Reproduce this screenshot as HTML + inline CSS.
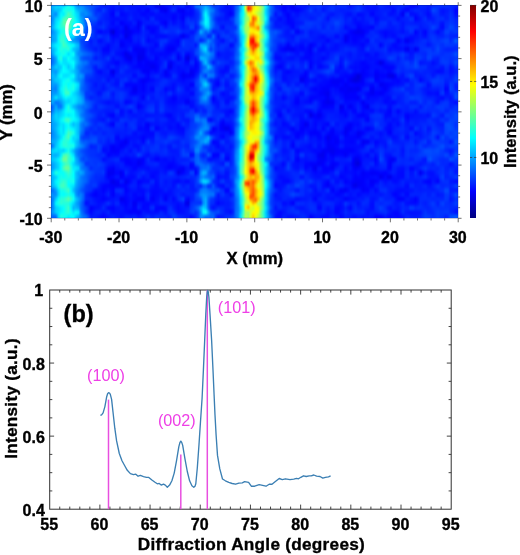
<!DOCTYPE html>
<html lang="en"><head><meta charset="utf-8"><title>Figure: XRD intensity map and diffraction pattern</title>
<style>
html,body{margin:0;padding:0;background:#fff;}
body{width:520px;height:555px;position:relative;overflow:hidden;font-family:"Liberation Sans",Arial,Helvetica,sans-serif;}
#heat{position:absolute;left:51.2px;top:5.4px;width:407.0px;height:212.9px;overflow:hidden;background:#0030ff;}
#heat .in{position:absolute;left:-4px;top:-4px;right:-4px;bottom:-4px;padding:4px;filter:url(#vb);}
#heat i{display:block;height:2.0px;width:100%;}
#cbar{position:absolute;left:470.0px;top:5.4px;width:6.3px;height:212.9px;background:linear-gradient(180deg,#800000,#8f0000,#9f0000,#af0000,#bf0000,#cf0000,#df0000,#ef0000,#ff0000,#ff1000,#ff2000,#ff3000,#ff4000,#ff5000,#ff6000,#ff7000,#ff8000,#ff8f00,#ff9f00,#ffaf00,#ffbf00,#ffcf00,#ffdf00,#ffef00,#ffff00,#efff10,#dfff20,#cfff30,#bfff40,#afff50,#9fff60,#8fff70,#80ff80,#70ff8f,#60ff9f,#50ffaf,#40ffbf,#30ffcf,#20ffdf,#10ffef,#00ffff,#00efff,#00dfff,#00cfff,#00bfff,#00afff,#009fff,#008fff,#0080ff,#0070ff,#0060ff,#0050ff,#0040ff,#0030ff,#0020ff,#0010ff,#0000ff,#0000ef,#0000df,#0000cf,#0000bf,#0000af,#00009f,#00008f,#000080);}
svg{position:absolute;left:0;top:0;}
svg text{font-family:"Liberation Sans",Arial,Helvetica,sans-serif;}
svg text.b{stroke:#000;stroke-width:0.35px;}
</style></head>
<body>
<div id="heat"><div class="in">
<i style="background:linear-gradient(90deg,#00adff,#00c2ff,#00d9ff,#00dbff,#00e4ff,#00d8ff,#00fcff,#25ffdb,#08fff7,#00e7ff,#00a6ff,#008cff,#0091ff,#0085ff,#0068ff,#005bff,#0052ff,#004cff,#003eff,#0035ff,#0022ff,#0014ff,#0016ff,#0019ff,#0014ff,#0011ff,#001cff,#001cff,#0014ff,#0016ff,#0018ff,#0014ff,#000eff,#0010ff,#0010ff,#0011ff,#000eff,#000cff,#0019ff,#001fff,#001aff,#0014ff,#0000e6,#0000e7,#0000f1,#0000fc,#000cff,#000cff,#000fff,#0016ff,#0018ff,#0017ff,#0025ff,#0030ff,#0009ff,#0000fd,#0014ff,#002aff,#0070ff,#007bff,#0080ff,#0093ff,#00aaff,#008eff,#0065ff,#0038ff,#0034ff,#003bff,#002bff,#0023ff,#0008ff,#0005ff,#0011ff,#0020ff,#004eff,#0072ff,#00c2ff,#19ffe6,#cdff32,#ff7800,#ff8800,#ffda00,#f8ff07,#d9ff26,#b5ff4a,#72ff8d,#02fffd,#00bfff,#0070ff,#0048ff,#0019ff,#0016ff,#0011ff,#0002ff,#0000fd,#0008ff,#0000f8,#0000ef,#000eff,#0017ff,#0013ff,#0016ff,#000eff,#0017ff,#0027ff,#002cff,#0030ff,#0034ff,#0030ff,#0023ff,#001fff,#001dff,#0029ff,#002eff,#0024ff,#0024ff,#002bff,#002aff,#002aff,#0016ff,#0007ff,#0019ff,#0027ff,#0031ff,#0028ff,#001aff,#0013ff,#000cff,#0016ff,#0014ff,#000fff,#0017ff,#0027ff,#0021ff,#0017ff,#000eff,#000cff,#0018ff,#001bff,#0019ff,#0022ff,#0027ff,#001bff,#0016ff,#0001fe,#0000fc,#0002fe,#000cff,#0023ff,#0023ff,#0021ff,#0016ff,#0019ff,#0023ff,#0028ff,#002dff,#002fff,#002fff,#0031ff,#002eff,#0026ff,#0024ff,#001dff,#001cff)"></i>
<i style="background:linear-gradient(90deg,#00a4ff,#00b8ff,#00ceff,#00c9ff,#00d6ff,#00f0ff,#0bfff4,#13ffed,#09fff7,#00f6ff,#00b4ff,#009aff,#0098ff,#008cff,#0073ff,#0063ff,#0053ff,#0047ff,#0034ff,#0027ff,#001fff,#002aff,#0022ff,#0019ff,#0011ff,#000eff,#0018ff,#0018ff,#0012ff,#0016ff,#001fff,#001aff,#0013ff,#0013ff,#0011ff,#000dff,#000eff,#0011ff,#000eff,#000bff,#0016ff,#0017ff,#000bff,#0008fd,#0000f5,#0000f6,#0000f8,#000aff,#0018ff,#0027ff,#001fff,#000bff,#000eff,#0010ff,#000cff,#000cff,#000fff,#001eff,#004bff,#005bff,#0071ff,#0093ff,#00b5ff,#0099ff,#0077ff,#005bff,#0040ff,#0036ff,#0021ff,#0018ff,#000eff,#000bff,#000dff,#001dff,#004eff,#0070ff,#00bdff,#0cfff4,#dfff20,#ff1200,#ff4900,#ffd800,#f9ff07,#e0ff20,#b3ff4c,#6eff92,#00eeff,#00afff,#006aff,#0049ff,#0024ff,#0019ff,#0010ff,#0000ff,#0000fe,#000cff,#0001fe,#0000f7,#0004ff,#0008ff,#000cff,#0012ff,#0016ff,#0022ff,#0036ff,#002bff,#0025ff,#002fff,#002bff,#0018ff,#001eff,#0025ff,#002eff,#0032ff,#0025ff,#0023ff,#0022ff,#0023ff,#0025ff,#001cff,#0019ff,#0022ff,#002bff,#0037ff,#002dff,#001eff,#0015ff,#000eff,#0011ff,#0010ff,#000eff,#0014ff,#0020ff,#001eff,#0019ff,#0017ff,#0014ff,#000fff,#0016ff,#0023ff,#0020ff,#001aff,#000dff,#000aff,#000fff,#0010ff,#0017ff,#001aff,#0020ff,#001fff,#001dff,#0013ff,#001fff,#0039ff,#0036ff,#002fff,#0023ff,#001eff,#0022ff,#0022ff,#0025ff,#001fff,#000fff,#0010ff)"></i>
<i style="background:linear-gradient(90deg,#009cff,#00aeff,#00c6ff,#00c0ff,#00d2ff,#07fff8,#1dffe3,#0dfff2,#10ffef,#0afff6,#00c8ff,#00abff,#00a1ff,#0093ff,#007fff,#006bff,#0055ff,#0043ff,#002eff,#001eff,#0020ff,#003dff,#002cff,#0019ff,#000eff,#000aff,#0016ff,#0016ff,#0010ff,#0015ff,#0022ff,#001cff,#0016ff,#0015ff,#0013ff,#000aff,#000cff,#0013ff,#0005ff,#0000fd,#0015ff,#001cff,#0027ff,#001dff,#0000f8,#0000f2,#0000eb,#0007ff,#001dff,#0030ff,#0021ff,#0001ff,#0000f9,#0000f6,#000eff,#0015ff,#0009ff,#0013ff,#002cff,#003fff,#0069ff,#009eff,#00ccff,#00acff,#0088ff,#0076ff,#0049ff,#0032ff,#001aff,#0011ff,#0011ff,#000eff,#0009ff,#001bff,#004eff,#0070ff,#00bbff,#01ffff,#c1ff3f,#ff4300,#ff6a00,#ffea00,#f3ff0d,#deff21,#afff51,#68ff97,#00deff,#00a3ff,#0063ff,#0048ff,#002cff,#001eff,#0012ff,#0002ff,#0003ff,#0013ff,#0009ff,#0002ff,#0000fe,#0000fe,#0008ff,#0010ff,#001cff,#0029ff,#003fff,#002aff,#001cff,#002aff,#0026ff,#0011ff,#001bff,#0028ff,#002eff,#0031ff,#0023ff,#0021ff,#001bff,#001bff,#001fff,#0020ff,#0025ff,#0027ff,#002eff,#003aff,#0030ff,#0021ff,#0018ff,#0011ff,#000fff,#000dff,#000fff,#0014ff,#001cff,#001cff,#001bff,#001dff,#0018ff,#0007ff,#0011ff,#0028ff,#001cff,#000fff,#0003ff,#0002ff,#0019ff,#001eff,#0028ff,#0025ff,#001fff,#001cff,#0019ff,#0011ff,#0023ff,#004aff,#0040ff,#0030ff,#0018ff,#0010ff,#0016ff,#0019ff,#0025ff,#001bff,#0003ff,#0006ff)"></i>
<i style="background:linear-gradient(90deg,#00a5ff,#00a5ff,#00a9ff,#00c6ff,#00e7ff,#02fcfe,#1fffe1,#2fffd0,#22ffde,#0efff1,#00dbff,#00beff,#0099ff,#008dff,#0089ff,#0076ff,#0062ff,#0048ff,#0030ff,#002cff,#002aff,#0033ff,#0025ff,#0018ff,#0009ff,#0004ff,#001fff,#0020ff,#000aff,#000dff,#0016ff,#0015ff,#0016ff,#0013ff,#0011ff,#000dff,#000aff,#000aff,#0005ff,#0004ff,#000fff,#0013ff,#001eff,#0018ff,#0004ff,#0002fd,#0000f8,#0008ff,#0014ff,#001cff,#0014ff,#0006ff,#0001fd,#0000f9,#0009ff,#000eff,#0007ff,#000fff,#0025ff,#0035ff,#0062ff,#00acff,#00e8ff,#00b5ff,#0080ff,#006bff,#0047ff,#0037ff,#0022ff,#001aff,#0010ff,#000bff,#0002fd,#0014ff,#0052ff,#0078ff,#00c9ff,#02fffe,#8fff70,#ffc500,#ffc100,#faff06,#deff22,#c3ff3d,#a1ff5e,#60ffa0,#00deff,#00a3ff,#0064ff,#0041ff,#001fff,#0023ff,#0021ff,#000bff,#0006ff,#000bff,#000eff,#0010ff,#0008ff,#0007ff,#0013ff,#0018ff,#001dff,#0026ff,#0033ff,#0028ff,#0021ff,#0025ff,#0025ff,#0020ff,#0021ff,#0022ff,#0021ff,#0021ff,#0020ff,#0020ff,#001fff,#001cff,#001aff,#0017ff,#0019ff,#0022ff,#0027ff,#0023ff,#001eff,#0019ff,#0018ff,#0016ff,#000bff,#0008ff,#0012ff,#0016ff,#001bff,#001eff,#0020ff,#0019ff,#0011ff,#0009ff,#0012ff,#0024ff,#0012ff,#0003fc,#0014ff,#001bff,#0012ff,#0015ff,#001cff,#001fff,#0022ff,#001dff,#0017ff,#000cff,#001bff,#003dff,#0038ff,#002eff,#0017ff,#0010ff,#0017ff,#001cff,#0029ff,#001fff,#0004ff,#0006ff)"></i>
<i style="background:linear-gradient(90deg,#00b1ff,#009dff,#0087ff,#00c8ff,#00f8ff,#00edff,#1affe5,#4effb2,#2dffd2,#0afff6,#00e6ff,#00caff,#008cff,#0081ff,#0091ff,#0081ff,#0071ff,#004dff,#0031ff,#0039ff,#0032ff,#0025ff,#001cff,#0018ff,#0004ff,#0000fe,#002aff,#002bff,#0005ff,#0006ff,#000bff,#0011ff,#0018ff,#0011ff,#000fff,#0011ff,#0008ff,#0003ff,#0006ff,#000cff,#0006ff,#0007ff,#0010ff,#000fff,#000fff,#000dff,#0009ff,#000bff,#000cff,#0008ff,#0009ff,#0010ff,#0007ff,#0001ff,#0006ff,#0008ff,#0007ff,#000fff,#0021ff,#002eff,#0058ff,#00b5ff,#03fdfc,#00bbff,#0075ff,#005cff,#0044ff,#003dff,#002cff,#0025ff,#0011ff,#0009ff,#0000f6,#000fff,#0055ff,#0081ff,#00d9ff,#03fffc,#72ff8d,#f1ff0e,#ffeb00,#fbf804,#e2ff1d,#b1ff4f,#96ff6a,#5affa6,#00e1ff,#00a7ff,#0068ff,#003bff,#0011ff,#0026ff,#002dff,#0014ff,#0006ff,#0000fc,#000eff,#001bff,#0010ff,#000eff,#001cff,#0021ff,#001eff,#0021ff,#0025ff,#0027ff,#0028ff,#0021ff,#0026ff,#0033ff,#0029ff,#001dff,#0013ff,#0012ff,#001eff,#0022ff,#0025ff,#0020ff,#0015ff,#000eff,#000dff,#001eff,#001fff,#0009ff,#0009ff,#000eff,#0018ff,#001cff,#0006ff,#0001ff,#0013ff,#0016ff,#0019ff,#0020ff,#0026ff,#0015ff,#000bff,#000eff,#0016ff,#0020ff,#0008ff,#0000ef,#0029ff,#0039ff,#000bff,#000aff,#000eff,#0017ff,#0026ff,#001eff,#0015ff,#0007ff,#0012ff,#002dff,#0030ff,#002dff,#0019ff,#0014ff,#001bff,#0020ff,#002dff,#0023ff,#0009ff,#000aff)"></i>
<i style="background:linear-gradient(90deg,#009fff,#009bff,#009dff,#00cfff,#00faff,#09fcf6,#2cffd3,#4cffb4,#31ffcf,#14ffeb,#00e9ff,#00ccff,#0094ff,#0084ff,#007eff,#0072ff,#0069ff,#0052ff,#003eff,#003aff,#002eff,#0023ff,#001bff,#0018ff,#0007ff,#0003ff,#001fff,#0020ff,#000aff,#0009ff,#000bff,#0014ff,#001dff,#0013ff,#0010ff,#0013ff,#000eff,#000aff,#0009ff,#000cff,#0011ff,#0012ff,#000eff,#000dff,#000dff,#000eff,#000bff,#000cff,#000bff,#0003ff,#0006ff,#0011ff,#0006ff,#0000fc,#000eff,#0013ff,#000dff,#0014ff,#0022ff,#002fff,#005cff,#00b5ff,#06fff9,#00cdff,#007bff,#0057ff,#003bff,#0032ff,#0026ff,#0021ff,#0011ff,#000cff,#0009ff,#001dff,#005bff,#0084ff,#00d9ff,#0ffff0,#76ff8a,#caff36,#ffe900,#ffaa00,#ffd200,#d1ff2f,#9bff65,#5dffa3,#00f1ff,#00acff,#0056ff,#0035ff,#0017ff,#001fff,#0021ff,#0016ff,#000aff,#0000fc,#000cff,#0017ff,#0013ff,#0012ff,#0020ff,#0023ff,#0020ff,#0020ff,#0020ff,#0022ff,#0025ff,#0026ff,#002aff,#0031ff,#0024ff,#0016ff,#0018ff,#001aff,#0022ff,#0025ff,#0029ff,#0023ff,#0015ff,#0013ff,#0014ff,#0019ff,#0019ff,#000eff,#000eff,#000fff,#001aff,#001eff,#000fff,#000aff,#000fff,#0013ff,#0019ff,#001eff,#0022ff,#001aff,#0014ff,#0015ff,#0017ff,#0018ff,#000cff,#0004fb,#0027ff,#0032ff,#0019ff,#0015ff,#0008ff,#0011ff,#001fff,#0020ff,#001dff,#000bff,#0011ff,#0024ff,#002aff,#002cff,#0020ff,#001dff,#001bff,#0020ff,#002fff,#0026ff,#0011ff,#0012ff)"></i>
<i style="background:linear-gradient(90deg,#007fff,#009bff,#00c9ff,#00dcff,#00fdff,#33ffcc,#4effb2,#45ffba,#3affc6,#29ffd7,#00f1ff,#00cfff,#00a5ff,#0089ff,#005eff,#0058ff,#0059ff,#005aff,#0052ff,#0039ff,#0028ff,#0021ff,#001aff,#0016ff,#000cff,#0009ff,#000aff,#000bff,#0011ff,#0010ff,#000dff,#0019ff,#0024ff,#0016ff,#0010ff,#0013ff,#0015ff,#0019ff,#000eff,#000bff,#0023ff,#0026ff,#000dff,#000bff,#0009ff,#000bff,#000dff,#000eff,#000bff,#0000fe,#0005ff,#0011ff,#0004ff,#0000f7,#001dff,#0029ff,#001aff,#001dff,#0023ff,#0031ff,#005eff,#00aaff,#00faff,#00e0ff,#0085ff,#004fff,#002bff,#001eff,#001aff,#001aff,#0010ff,#0012ff,#0028ff,#0037ff,#0065ff,#0088ff,#00d8ff,#23ffdc,#84ff7c,#9dff63,#ffec00,#ff5c00,#ff8b00,#f8ff07,#a0ff5f,#5fffa0,#08fff8,#00b1ff,#0034ff,#002aff,#0024ff,#0012ff,#000cff,#0018ff,#0011ff,#0000ff,#0008ff,#000fff,#0017ff,#001bff,#0025ff,#0027ff,#0024ff,#0020ff,#0019ff,#001bff,#0021ff,#002fff,#0032ff,#002bff,#001cff,#000cff,#0022ff,#002cff,#002aff,#002aff,#0030ff,#0028ff,#0017ff,#001eff,#0023ff,#0013ff,#000fff,#001cff,#0019ff,#0011ff,#001dff,#0022ff,#0020ff,#001cff,#0009ff,#000cff,#0018ff,#001aff,#001bff,#0021ff,#0024ff,#0021ff,#0018ff,#000aff,#0014ff,#001aff,#0020ff,#0023ff,#0031ff,#002bff,#0001ff,#0008ff,#0015ff,#0024ff,#002aff,#0014ff,#0012ff,#0018ff,#0024ff,#002cff,#002cff,#002dff,#001dff,#001eff,#0031ff,#002bff,#001eff,#0020ff)"></i>
<i style="background:linear-gradient(90deg,#0080ff,#00a0ff,#00d6ff,#00e8ff,#0bfff5,#44ffbc,#5effa2,#4fffb0,#3effc1,#2bffd5,#00fcff,#00daff,#00abff,#008aff,#0058ff,#0051ff,#004fff,#0052ff,#004cff,#0030ff,#0022ff,#0021ff,#001bff,#0017ff,#000dff,#0009ff,#000aff,#000aff,#000dff,#000dff,#000dff,#0018ff,#001fff,#0016ff,#000eff,#0009ff,#0011ff,#001aff,#0013ff,#000fff,#0023ff,#0025ff,#0013ff,#000fff,#0008ff,#0009ff,#0009ff,#0010ff,#0011ff,#0004ff,#000aff,#0018ff,#000bff,#0001fd,#0024ff,#0031ff,#0024ff,#0025ff,#0025ff,#0036ff,#0069ff,#00acff,#00fdff,#00e4ff,#0086ff,#0051ff,#002bff,#001bff,#001aff,#001aff,#0015ff,#0018ff,#002cff,#003aff,#0067ff,#0089ff,#00d4ff,#22ffdd,#83ff7c,#a0ff60,#ffe600,#ff6500,#ff9b00,#f1ff0f,#a4ff5c,#61ff9f,#02fafe,#00a9ff,#0034ff,#0027ff,#001fff,#0010ff,#000bff,#0017ff,#0011ff,#0001ff,#0006ff,#000cff,#0018ff,#001cff,#0023ff,#0026ff,#0029ff,#0026ff,#0020ff,#0021ff,#0025ff,#0030ff,#0031ff,#0028ff,#001dff,#0012ff,#0028ff,#0032ff,#0032ff,#0033ff,#0033ff,#002bff,#001bff,#0021ff,#0024ff,#0012ff,#000bff,#0017ff,#0015ff,#0010ff,#001aff,#001eff,#0023ff,#0021ff,#0009ff,#000dff,#001cff,#001eff,#001eff,#0021ff,#0022ff,#0023ff,#001cff,#000dff,#0016ff,#001cff,#001fff,#0022ff,#0031ff,#002bff,#0005ff,#000bff,#0016ff,#0024ff,#002cff,#001bff,#0019ff,#001aff,#0025ff,#002dff,#002aff,#002aff,#0021ff,#0023ff,#0032ff,#002fff,#0024ff,#0025ff)"></i>
<i style="background:linear-gradient(90deg,#0089ff,#00a7ff,#00dbff,#00f5ff,#1cffe3,#4fffb1,#68ff97,#5effa2,#37ffc9,#15ffeb,#03fffc,#00e8ff,#00b4ff,#0090ff,#005eff,#0050ff,#0043ff,#0040ff,#0036ff,#001fff,#0019ff,#0025ff,#0020ff,#001bff,#000bff,#0006ff,#0015ff,#0013ff,#0000fc,#0002ff,#000bff,#000eff,#000fff,#001cff,#0015ff,#0000f8,#0004ff,#0017ff,#001aff,#001cff,#001cff,#001dff,#0023ff,#001dff,#0008ff,#0001ff,#0000f8,#0011ff,#001bff,#000aff,#000fff,#001aff,#0011ff,#0009ff,#0027ff,#0033ff,#0031ff,#0031ff,#0026ff,#0042ff,#008fff,#00c4ff,#08fff7,#00e7ff,#008dff,#0063ff,#0037ff,#0023ff,#0021ff,#0023ff,#001fff,#0020ff,#0021ff,#0032ff,#0067ff,#0084ff,#00caff,#1affe6,#86ff79,#c8ff37,#ffba00,#ff7700,#ffcd00,#d6ff2a,#b7ff48,#73ff8d,#00e2ff,#009eff,#004aff,#002dff,#0015ff,#0016ff,#0016ff,#0015ff,#000eff,#0003ff,#0004ff,#0007ff,#0013ff,#0017ff,#0018ff,#001eff,#0032ff,#0033ff,#0034ff,#0031ff,#002fff,#002fff,#002bff,#0023ff,#0023ff,#0023ff,#002fff,#0034ff,#0042ff,#0042ff,#0035ff,#002dff,#001dff,#0020ff,#001fff,#0013ff,#000aff,#000aff,#000dff,#0011ff,#0016ff,#0018ff,#0027ff,#0027ff,#0010ff,#0015ff,#0029ff,#002cff,#002cff,#001fff,#001aff,#0027ff,#0027ff,#001eff,#0019ff,#0014ff,#001cff,#001fff,#0020ff,#001eff,#0014ff,#0016ff,#001aff,#0020ff,#0026ff,#0027ff,#0028ff,#0020ff,#0026ff,#002aff,#001aff,#0015ff,#0027ff,#002cff,#0034ff,#0031ff,#0027ff,#0026ff)"></i>
<i style="background:linear-gradient(90deg,#008fff,#00acff,#00deff,#00faff,#22ffde,#4cffb4,#66ff99,#63ff9c,#33ffcc,#0bfff5,#02fffd,#00e9ff,#00b5ff,#0092ff,#0060ff,#004fff,#003eff,#0038ff,#002eff,#001cff,#001aff,#0029ff,#0022ff,#001cff,#000bff,#0006ff,#0016ff,#0014ff,#0000fc,#0001fe,#0006ff,#000aff,#000bff,#001cff,#0016ff,#0000f5,#0003ff,#0019ff,#001aff,#001bff,#0018ff,#0019ff,#0023ff,#001eff,#000cff,#0003ff,#0000f7,#0013ff,#001eff,#000fff,#0013ff,#001cff,#0013ff,#000bff,#0025ff,#0030ff,#0037ff,#0036ff,#0024ff,#0041ff,#0091ff,#00c3ff,#04fefb,#00e4ff,#008fff,#0068ff,#003cff,#0029ff,#0022ff,#0022ff,#0023ff,#0024ff,#0020ff,#002fff,#005fff,#0081ff,#00cdff,#1effe2,#8dff73,#d9ff26,#ff8c00,#ff7700,#ffe300,#ddff22,#b9ff47,#6eff92,#00d6ff,#0097ff,#0050ff,#002fff,#0014ff,#0018ff,#001aff,#0016ff,#0010ff,#0006ff,#0004ff,#0005ff,#0012ff,#0016ff,#0019ff,#001fff,#0034ff,#0037ff,#0039ff,#0034ff,#0031ff,#002eff,#002aff,#0020ff,#0024ff,#0029ff,#002fff,#0032ff,#0043ff,#0044ff,#0034ff,#002bff,#001aff,#001cff,#001cff,#0015ff,#000cff,#0005ff,#0009ff,#0010ff,#0014ff,#0014ff,#0023ff,#0024ff,#0014ff,#001aff,#002cff,#002fff,#002fff,#001eff,#0018ff,#0026ff,#0028ff,#0023ff,#001aff,#0012ff,#001dff,#0020ff,#001eff,#001eff,#001bff,#001bff,#001bff,#001fff,#0023ff,#0029ff,#002dff,#0027ff,#0029ff,#002aff,#0014ff,#000dff,#0029ff,#0030ff,#0038ff,#0034ff,#0029ff,#0028ff)"></i>
<i style="background:linear-gradient(90deg,#009bff,#00b8ff,#00e7ff,#07fff9,#29ffd7,#39ffc7,#5affa5,#74ff8c,#39ffc7,#08fff8,#00fdff,#00e4ff,#00b6ff,#0093ff,#005cff,#004aff,#0036ff,#002eff,#0026ff,#0027ff,#0028ff,#0031ff,#0024ff,#0018ff,#000fff,#000cff,#000dff,#000cff,#000eff,#0006ff,#0000f3,#0002ff,#000fff,#0011ff,#000aff,#0000f6,#000bff,#0028ff,#0012ff,#0006ff,#000aff,#000bff,#000eff,#0013ff,#0022ff,#0015ff,#0007ff,#001aff,#0024ff,#001fff,#0021ff,#0022ff,#0016ff,#000cff,#001bff,#0023ff,#003fff,#003cff,#001aff,#002eff,#0066ff,#009fff,#00e8ff,#00e1ff,#0092ff,#0063ff,#0041ff,#0035ff,#0019ff,#0011ff,#0028ff,#002cff,#002aff,#002dff,#003fff,#007aff,#00eaff,#3effc1,#a2ff5d,#c4ff3c,#ff9e00,#ff9800,#ffc900,#ffc700,#9eff62,#36ffca,#00b5ff,#007fff,#0045ff,#002aff,#0018ff,#0016ff,#0017ff,#001dff,#001aff,#0014ff,#000aff,#0003ff,#0018ff,#001fff,#002dff,#0031ff,#0033ff,#0034ff,#0034ff,#002dff,#002aff,#0031ff,#002cff,#001cff,#0025ff,#0030ff,#002bff,#0029ff,#0039ff,#003aff,#002eff,#0023ff,#000eff,#0014ff,#001aff,#001cff,#0014ff,#0002ff,#0005ff,#000bff,#000cff,#000bff,#000aff,#000bff,#001dff,#0021ff,#002bff,#002aff,#0026ff,#001cff,#0017ff,#001aff,#001fff,#0021ff,#0019ff,#0012ff,#0023ff,#002aff,#002aff,#002aff,#0028ff,#0022ff,#0018ff,#001dff,#0021ff,#0024ff,#0030ff,#003dff,#0036ff,#002bff,#0011ff,#0009ff,#0029ff,#0032ff,#0044ff,#003eff,#002fff,#002eff)"></i>
<i style="background:linear-gradient(90deg,#00a0ff,#00bcff,#00e6ff,#05fffa,#24ffdb,#28ffd8,#47ffb9,#6aff96,#2dffd2,#00faff,#00f2ff,#00daff,#00b0ff,#008fff,#0058ff,#0046ff,#0033ff,#0029ff,#0021ff,#0028ff,#002bff,#0032ff,#0022ff,#0014ff,#000bff,#0009ff,#0006ff,#0008ff,#0014ff,#0007ff,#0000e9,#0000fb,#000dff,#000cff,#0006ff,#0000f8,#0010ff,#002fff,#000fff,#0000fc,#0003ff,#0004ff,#0005ff,#000fff,#002cff,#0020ff,#0013ff,#0020ff,#0029ff,#0029ff,#0029ff,#0028ff,#001aff,#000fff,#0019ff,#001eff,#0040ff,#003cff,#0015ff,#0027ff,#0054ff,#0087ff,#00c5ff,#00ccff,#0086ff,#0056ff,#0040ff,#003aff,#0017ff,#000cff,#002aff,#002fff,#002fff,#002cff,#0031ff,#0075ff,#00f3ff,#48ffb8,#a6ff5a,#abff54,#ffdd00,#ffc900,#ffb400,#ff7b00,#aaff55,#25ffdb,#00aeff,#007aff,#0043ff,#002cff,#0020ff,#001bff,#001bff,#0022ff,#001fff,#001aff,#000eff,#0005ff,#0017ff,#001fff,#0033ff,#0036ff,#0031ff,#0031ff,#002fff,#0029ff,#0026ff,#0030ff,#002dff,#001cff,#0026ff,#0032ff,#0029ff,#0025ff,#0034ff,#0034ff,#0029ff,#001eff,#0008ff,#000dff,#0015ff,#001bff,#0014ff,#0000fd,#0001fe,#0008ff,#0008ff,#0007ff,#0002fe,#0003ff,#0022ff,#0025ff,#0029ff,#0026ff,#0020ff,#001aff,#0017ff,#0015ff,#001bff,#0020ff,#0019ff,#0013ff,#0028ff,#002fff,#0032ff,#0030ff,#002cff,#0025ff,#0017ff,#001aff,#001eff,#0021ff,#0031ff,#0045ff,#0039ff,#0028ff,#000fff,#0008ff,#002aff,#0034ff,#0048ff,#0042ff,#0032ff,#0031ff)"></i>
<i style="background:linear-gradient(90deg,#008cff,#00a5ff,#00c9ff,#00eaff,#0ffff1,#1cffe4,#2dffd3,#3bffc4,#0efff2,#00e9ff,#00e6ff,#00d0ff,#0099ff,#007cff,#0050ff,#0047ff,#0041ff,#0030ff,#001eff,#0013ff,#0012ff,#001dff,#0016ff,#0010ff,#0000f2,#0000ea,#0001ff,#0007ff,#000cff,#0003ff,#0000ed,#0000f5,#0002fc,#0005ff,#0006ff,#0001fe,#0011ff,#0028ff,#0015ff,#000cff,#0003ff,#0001ff,#0008ff,#0012ff,#002aff,#002aff,#002bff,#002aff,#0029ff,#0029ff,#002eff,#0036ff,#0027ff,#001cff,#0020ff,#0022ff,#0025ff,#0022ff,#001eff,#003eff,#008cff,#0087ff,#0089ff,#009cff,#0063ff,#0031ff,#002dff,#0033ff,#0025ff,#0020ff,#0024ff,#0027ff,#0031ff,#0034ff,#0046ff,#0079ff,#00dfff,#36ffca,#9dff63,#b8ff48,#fff800,#ffec00,#ffdb00,#ffb900,#abff55,#3affc5,#00d9ff,#009aff,#004fff,#0041ff,#0040ff,#0037ff,#0030ff,#0024ff,#001aff,#0015ff,#001aff,#001dff,#000cff,#0008ff,#001eff,#0023ff,#002dff,#0028ff,#001eff,#001fff,#0021ff,#0026ff,#0029ff,#0028ff,#002aff,#002dff,#002bff,#0029ff,#002fff,#002eff,#0024ff,#001fff,#0017ff,#000fff,#0008ff,#0006ff,#0003fc,#0000f2,#0000f7,#0000fc,#0005ff,#000aff,#0015ff,#0019ff,#001fff,#001eff,#0018ff,#0015ff,#0010ff,#0011ff,#0012ff,#0013ff,#0018ff,#001bff,#0015ff,#0010ff,#0020ff,#0026ff,#0033ff,#002dff,#0013ff,#0016ff,#0019ff,#0010ff,#000dff,#001eff,#002cff,#0031ff,#0024ff,#0014ff,#0014ff,#0017ff,#0036ff,#003dff,#003aff,#0039ff,#0037ff,#0034ff)"></i>
<i style="background:linear-gradient(90deg,#007eff,#0094ff,#00b5ff,#00daff,#04fffb,#19ffe6,#23ffdd,#21ffdf,#00fdff,#00e3ff,#00e0ff,#00caff,#008aff,#006eff,#004aff,#0048ff,#004cff,#0035ff,#001dff,#0006ff,#0001ff,#000eff,#000eff,#000fff,#0000e4,#0000d7,#0000fe,#0006ff,#0007ff,#0000ff,#0000f1,#0000f2,#0000f5,#0001ff,#0006ff,#0005ff,#0013ff,#0023ff,#001bff,#0017ff,#0003ff,#0000ff,#000aff,#0012ff,#0026ff,#002fff,#003aff,#002fff,#0027ff,#0027ff,#0030ff,#003eff,#002fff,#0023ff,#0023ff,#0023ff,#0011ff,#0010ff,#0027ff,#0051ff,#00b4ff,#0087ff,#005eff,#0079ff,#004cff,#001cff,#0021ff,#002cff,#002eff,#002fff,#001fff,#0021ff,#0032ff,#0039ff,#0056ff,#007cff,#00d1ff,#29ffd6,#98ff67,#cbff34,#ffed00,#ffee00,#feff02,#eeff12,#93ff6d,#45ffba,#00f8ff,#00b1ff,#0059ff,#0051ff,#0056ff,#0049ff,#003cff,#0024ff,#0016ff,#0012ff,#0022ff,#002fff,#0005ff,#0000f8,#000fff,#0017ff,#002bff,#0022ff,#0012ff,#0018ff,#001cff,#001eff,#0025ff,#002eff,#002cff,#0028ff,#002bff,#002bff,#002bff,#0029ff,#0020ff,#0020ff,#0022ff,#0011ff,#0001ff,#0000f7,#0000f0,#0000ed,#0000f1,#0000f6,#0004ff,#000cff,#0023ff,#0028ff,#001dff,#0018ff,#000dff,#0009ff,#0005ff,#000aff,#000dff,#0010ff,#0015ff,#0017ff,#0011ff,#000cff,#0019ff,#001eff,#0031ff,#0029ff,#0000ff,#000bff,#001aff,#0009ff,#0001ff,#001cff,#0029ff,#0024ff,#0016ff,#0007ff,#0019ff,#0024ff,#003fff,#0043ff,#002fff,#0032ff,#0039ff,#0034ff)"></i>
<i style="background:linear-gradient(90deg,#008eff,#009dff,#00b5ff,#00e4ff,#13ffec,#1effe2,#19ffe6,#0afff6,#00f4ff,#00e5ff,#00c2ff,#00a8ff,#0087ff,#006fff,#0043ff,#0042ff,#0049ff,#0034ff,#0020ff,#001dff,#0018ff,#0018ff,#0019ff,#001cff,#0000f6,#0000e8,#0001ff,#0007ff,#0010ff,#0005ff,#0000ec,#0000f2,#0000fb,#000bff,#0011ff,#000fff,#0018ff,#0023ff,#0019ff,#0014ff,#000dff,#000cff,#000bff,#000fff,#0018ff,#001cff,#0022ff,#0021ff,#0021ff,#0020ff,#0024ff,#002bff,#0018ff,#000aff,#0014ff,#0018ff,#0018ff,#001bff,#0036ff,#0052ff,#008bff,#0074ff,#0059ff,#004eff,#003dff,#0045ff,#002cff,#001eff,#002eff,#0035ff,#002cff,#002cff,#002eff,#0032ff,#0048ff,#0071ff,#00c7ff,#0bfff4,#75ff8b,#c7ff39,#ffce00,#ffc400,#ffe700,#f6ff0a,#a6ff59,#61ff9f,#0cfff3,#00c0ff,#005cff,#004fff,#004eff,#003dff,#0030ff,#0021ff,#0016ff,#0014ff,#001bff,#0020ff,#0012ff,#000fff,#001bff,#0020ff,#002dff,#0025ff,#0016ff,#0019ff,#001cff,#001aff,#001bff,#001eff,#0022ff,#0026ff,#0026ff,#0025ff,#001cff,#001bff,#0020ff,#001aff,#000dff,#0008ff,#0004ff,#0000fc,#0000f7,#0000f6,#0000f8,#0000fa,#000cff,#0017ff,#0023ff,#0027ff,#0024ff,#001fff,#0013ff,#000cff,#0004ff,#000bff,#000eff,#000cff,#0011ff,#001aff,#001bff,#001aff,#001cff,#001dff,#0022ff,#001dff,#0007ff,#000fff,#001cff,#000cff,#0006ff,#001eff,#002cff,#002bff,#0020ff,#0013ff,#001bff,#0022ff,#0037ff,#0039ff,#0029ff,#0029ff,#002bff,#0029ff)"></i>
<i style="background:linear-gradient(90deg,#00a1ff,#00a8ff,#00b6ff,#00f0ff,#24ffdc,#22ffde,#0cfff4,#00ecff,#00e8ff,#00e3ff,#009cff,#007eff,#0083ff,#006eff,#003bff,#003cff,#0045ff,#0032ff,#0023ff,#0037ff,#0033ff,#0024ff,#0025ff,#0029ff,#000bff,#0001fd,#0005ff,#0008ff,#001aff,#000bff,#0000e6,#0000f4,#0004ff,#0017ff,#001eff,#0019ff,#001eff,#0024ff,#0018ff,#0010ff,#0019ff,#0019ff,#000bff,#000bff,#0007ff,#0006ff,#0007ff,#0012ff,#0019ff,#0018ff,#0017ff,#0016ff,#0000fd,#0000eb,#0003ff,#000cff,#0022ff,#0029ff,#0048ff,#0054ff,#005eff,#0063ff,#005bff,#0023ff,#002dff,#0073ff,#0037ff,#000eff,#002eff,#003aff,#0039ff,#0039ff,#002bff,#002aff,#0038ff,#0063ff,#00bcff,#00e9ff,#50ffaf,#c8ff38,#ff9600,#ff8000,#ffbe00,#ffe700,#c8ff37,#7fff81,#20ffdf,#00cfff,#0061ff,#004dff,#0044ff,#0030ff,#0024ff,#001eff,#0017ff,#0016ff,#0013ff,#000fff,#0022ff,#0029ff,#0029ff,#002aff,#0030ff,#0029ff,#0019ff,#001bff,#001bff,#0015ff,#0010ff,#000bff,#0016ff,#0022ff,#0020ff,#001eff,#000bff,#000bff,#001eff,#0012ff,#0000f3,#0000fc,#0007ff,#0002ff,#0000ff,#0001ff,#0001ff,#0000ff,#0016ff,#0023ff,#0024ff,#0026ff,#002dff,#0028ff,#0019ff,#0010ff,#0004ff,#000cff,#000fff,#0008ff,#000eff,#001cff,#0024ff,#0028ff,#001dff,#001aff,#000fff,#000eff,#000fff,#0013ff,#001cff,#0010ff,#000aff,#001fff,#002fff,#0033ff,#002bff,#0021ff,#001fff,#0020ff,#002dff,#002eff,#0022ff,#0020ff,#001aff,#001dff)"></i>
<i style="background:linear-gradient(90deg,#009fff,#00a6ff,#00b6ff,#00f4ff,#2bffd5,#29ffd7,#08fff8,#00dfff,#00cbff,#00bcff,#0088ff,#0072ff,#0068ff,#0059ff,#0039ff,#0034ff,#0034ff,#002dff,#0025ff,#002aff,#0025ff,#0020ff,#0026ff,#002eff,#0012ff,#0006ff,#000cff,#000eff,#0014ff,#000bff,#0000f3,#0000fc,#0005ff,#0019ff,#001fff,#0019ff,#0020ff,#0029ff,#0018ff,#000bff,#0014ff,#0015ff,#000dff,#0010ff,#0014ff,#0014ff,#0016ff,#0017ff,#0017ff,#0014ff,#0010ff,#000dff,#0007ff,#0008fb,#0011ff,#0016ff,#0025ff,#002cff,#004dff,#0051ff,#0045ff,#0050ff,#0057ff,#0043ff,#0041ff,#0066ff,#0034ff,#0013ff,#0022ff,#0028ff,#0033ff,#0035ff,#0032ff,#002dff,#002fff,#005aff,#00b7ff,#00eaff,#5affa6,#dbff25,#ff5100,#ff3a00,#ffad00,#ffe800,#b5ff4b,#69ff96,#11ffef,#00c7ff,#0063ff,#004cff,#0041ff,#0033ff,#002cff,#002aff,#0021ff,#001aff,#0018ff,#0014ff,#0027ff,#002dff,#0026ff,#0025ff,#0028ff,#0025ff,#001cff,#0019ff,#0017ff,#0012ff,#000fff,#000bff,#000fff,#0014ff,#0018ff,#0019ff,#0010ff,#0010ff,#001bff,#000eff,#0000ef,#0000fb,#0008ff,#0002ff,#0000ff,#0004ff,#0006ff,#0007ff,#0012ff,#0019ff,#0026ff,#002bff,#0029ff,#0025ff,#001eff,#0017ff,#000fff,#0017ff,#001aff,#0014ff,#0010ff,#000fff,#0019ff,#001fff,#000dff,#0007ff,#0007ff,#0009ff,#0010ff,#0014ff,#001eff,#0019ff,#0016ff,#0021ff,#002fff,#0036ff,#0030ff,#0027ff,#0028ff,#002bff,#0034ff,#0035ff,#0025ff,#0028ff,#0031ff,#002eff)"></i>
<i style="background:linear-gradient(90deg,#0096ff,#009fff,#00b2ff,#00f4ff,#30ffd0,#32ffce,#0bfff4,#00d8ff,#00aeff,#008eff,#0084ff,#0076ff,#0048ff,#0040ff,#003eff,#002cff,#0018ff,#0026ff,#0027ff,#0010ff,#000aff,#0018ff,#0024ff,#002eff,#0017ff,#000cff,#0017ff,#0015ff,#0007ff,#0007ff,#0005ff,#0004ff,#0001ff,#0018ff,#001eff,#0014ff,#0020ff,#002fff,#0014ff,#0003ff,#000cff,#000dff,#0013ff,#001bff,#002cff,#002fff,#0033ff,#0021ff,#0014ff,#000eff,#0007ff,#0002ff,#001aff,#0031ff,#002aff,#0028ff,#0025ff,#002bff,#0049ff,#0043ff,#001bff,#002eff,#004fff,#0081ff,#0068ff,#004dff,#0030ff,#0022ff,#0010ff,#000bff,#0025ff,#002eff,#003fff,#0034ff,#0026ff,#0053ff,#00b4ff,#00f2ff,#68ff98,#eaff15,#ff2100,#ff0900,#ffa600,#fff500,#8eff71,#42ffbd,#00f2ff,#00b4ff,#0062ff,#0046ff,#0037ff,#0034ff,#0034ff,#0037ff,#002aff,#001cff,#001bff,#001aff,#0029ff,#002eff,#001cff,#0019ff,#0019ff,#001eff,#0021ff,#001aff,#0016ff,#0014ff,#0014ff,#0015ff,#000bff,#0002ff,#0012ff,#0019ff,#0021ff,#0021ff,#0019ff,#000dff,#0000f0,#0000fd,#000bff,#0001ff,#0000fe,#0006ff,#000cff,#0012ff,#0009ff,#0005ff,#0028ff,#0030ff,#001fff,#001eff,#0024ff,#0022ff,#0020ff,#0027ff,#002bff,#0028ff,#0016ff,#0001fd,#000aff,#0013ff,#0000f6,#0000ef,#0005ff,#000aff,#0018ff,#001bff,#0024ff,#002aff,#002cff,#0023ff,#002cff,#0037ff,#0034ff,#002eff,#0035ff,#003bff,#0042ff,#0041ff,#0029ff,#0038ff,#005aff,#004fff)"></i>
<i style="background:linear-gradient(90deg,#00a0ff,#00abff,#00c0ff,#00f5ff,#2affd6,#37ffc9,#16ffea,#00e5ff,#00c1ff,#00a4ff,#0097ff,#0087ff,#0048ff,#003dff,#003bff,#0029ff,#0015ff,#0025ff,#0027ff,#0011ff,#000bff,#0017ff,#001fff,#0025ff,#0016ff,#000fff,#001aff,#0017ff,#0001ff,#0003ff,#0008ff,#0006ff,#0004ff,#0014ff,#0019ff,#0011ff,#001dff,#002dff,#0016ff,#0007ff,#000cff,#000dff,#000fff,#0018ff,#0031ff,#0031ff,#0030ff,#001cff,#000fff,#000bff,#0006ff,#0001fe,#001eff,#0039ff,#002dff,#002aff,#0026ff,#002aff,#003aff,#003fff,#0038ff,#0049ff,#0063ff,#008bff,#0069ff,#004eff,#0032ff,#0024ff,#0015ff,#0011ff,#0026ff,#002cff,#0032ff,#002dff,#002bff,#0053ff,#00afff,#00f6ff,#76ff8a,#faff06,#ff1700,#fb0200,#ff8000,#ffd700,#91ff6f,#40ffc0,#00e6ff,#00abff,#0062ff,#0045ff,#0036ff,#002fff,#002dff,#0032ff,#0024ff,#0014ff,#0019ff,#001cff,#0024ff,#0026ff,#0016ff,#0014ff,#0018ff,#0019ff,#0019ff,#0014ff,#0013ff,#0017ff,#0017ff,#0013ff,#000cff,#0007ff,#0013ff,#0018ff,#001fff,#0020ff,#0018ff,#000fff,#0000fa,#0004ff,#000dff,#0004ff,#0002ff,#0008ff,#000cff,#000fff,#000aff,#0008ff,#0027ff,#002eff,#0020ff,#001eff,#001cff,#001fff,#0024ff,#0027ff,#0029ff,#0023ff,#0013ff,#0002fe,#000bff,#0013ff,#0000fb,#0000f5,#000aff,#000fff,#001dff,#001fff,#0027ff,#002dff,#002cff,#0020ff,#0028ff,#0034ff,#0035ff,#0032ff,#0036ff,#003aff,#0042ff,#0041ff,#002eff,#003aff,#0056ff,#004dff)"></i>
<i style="background:linear-gradient(90deg,#00bdff,#00cfff,#00e9ff,#00f6ff,#16ffe9,#3fffc0,#2cffd3,#05fdfb,#02f5fd,#00eaff,#00c2ff,#00a7ff,#0054ff,#0041ff,#0032ff,#0027ff,#001dff,#0028ff,#002aff,#001fff,#0019ff,#001cff,#0014ff,#000dff,#0013ff,#0015ff,#001fff,#001aff,#0000f7,#0000fc,#0009ff,#000cff,#000dff,#000eff,#000dff,#000bff,#0018ff,#0029ff,#0020ff,#001aff,#0015ff,#0012ff,#0004ff,#0010ff,#0036ff,#002bff,#001cff,#0010ff,#0009ff,#000aff,#0008ff,#0006ff,#0023ff,#003cff,#002eff,#002aff,#002bff,#002aff,#0018ff,#003cff,#0093ff,#0095ff,#008eff,#007dff,#0056ff,#0059ff,#0033ff,#001eff,#0028ff,#002bff,#002eff,#0029ff,#000cff,#0015ff,#003aff,#0055ff,#009fff,#00fcff,#8eff72,#fff000,#ff3500,#ff2100,#ff3400,#ff8900,#a7ff59,#49ffb6,#00d1ff,#009cff,#0064ff,#0049ff,#003aff,#0025ff,#001cff,#0024ff,#0016ff,#0004ff,#0016ff,#0024ff,#001bff,#0018ff,#000dff,#000eff,#001dff,#0013ff,#0003fd,#0005ff,#000dff,#001fff,#001dff,#000dff,#0014ff,#001eff,#0019ff,#0016ff,#0010ff,#0011ff,#0015ff,#0013ff,#0010ff,#000fff,#000eff,#0009ff,#0008ff,#000aff,#0007ff,#0004ff,#000fff,#0017ff,#0023ff,#0028ff,#0028ff,#001eff,#0005ff,#0013ff,#0026ff,#0021ff,#001aff,#000dff,#0008ff,#000cff,#0014ff,#001aff,#0011ff,#000fff,#0018ff,#001bff,#0022ff,#0024ff,#002bff,#002aff,#0024ff,#0014ff,#001cff,#002bff,#0033ff,#0038ff,#0030ff,#002eff,#003bff,#003bff,#0037ff,#0037ff,#0036ff,#0038ff)"></i>
<i style="background:linear-gradient(90deg,#00c3ff,#00d6ff,#00f2ff,#00faff,#15ffea,#3effc1,#35ffca,#16ffe9,#0cfff4,#02fbfd,#00d1ff,#00b3ff,#005aff,#0043ff,#0030ff,#0026ff,#001eff,#0023ff,#0025ff,#0021ff,#001bff,#0018ff,#000eff,#0005ff,#0012ff,#0017ff,#001eff,#001aff,#0000f7,#0000fb,#0007ff,#000dff,#0011ff,#0009ff,#0005ff,#0005ff,#0010ff,#001eff,#001cff,#001aff,#0013ff,#0010ff,#0002ff,#000eff,#0031ff,#0025ff,#0011ff,#0006ff,#0002ff,#0003ff,#0006ff,#0009ff,#0021ff,#0037ff,#002cff,#0028ff,#0029ff,#0028ff,#0012ff,#003fff,#00b1ff,#00bcff,#00b6ff,#0087ff,#0053ff,#005eff,#0039ff,#0023ff,#0032ff,#0034ff,#002eff,#0026ff,#0005ff,#0012ff,#0041ff,#005bff,#00a5ff,#01fffe,#90ff70,#fef601,#ff6600,#ff4000,#ff2200,#ff8200,#abff55,#4dffb3,#00d2ff,#009aff,#0060ff,#0047ff,#0037ff,#001eff,#0012ff,#0018ff,#000aff,#0000f9,#000cff,#001bff,#0012ff,#000fff,#0006ff,#0008ff,#0019ff,#000cff,#0000f6,#0003ff,#000fff,#001dff,#0019ff,#0007ff,#0013ff,#0021ff,#0019ff,#0014ff,#000dff,#000fff,#0016ff,#0018ff,#001dff,#0019ff,#0015ff,#0012ff,#0011ff,#000fff,#000aff,#0004ff,#0015ff,#0021ff,#0022ff,#0024ff,#002aff,#0020ff,#0004fe,#0013ff,#0028ff,#001eff,#0015ff,#0008ff,#0006ff,#000eff,#0015ff,#0019ff,#0012ff,#0011ff,#001bff,#001dff,#001eff,#0022ff,#002dff,#002cff,#0026ff,#0018ff,#001eff,#002aff,#0035ff,#003dff,#0031ff,#002dff,#0037ff,#0036ff,#0036ff,#0034ff,#002dff,#0032ff)"></i>
<i style="background:linear-gradient(90deg,#00b0ff,#00c2ff,#00dfff,#01fffe,#22ffde,#23ffdd,#23ffdc,#28ffd7,#01faff,#00d2ff,#00bbff,#00a4ff,#0060ff,#0049ff,#0038ff,#002dff,#0022ff,#001cff,#0017ff,#0021ff,#0019ff,#000aff,#0004ff,#0003ff,#0014ff,#001aff,#001bff,#0017ff,#0009ff,#0009ff,#000aff,#0016ff,#001fff,#0005ff,#0000f9,#0000fc,#0001fd,#0004fc,#000dff,#0014ff,#000cff,#000aff,#000fff,#0017ff,#0023ff,#0019ff,#0008ff,#0000fe,#0000f9,#0000f9,#0008ff,#001eff,#0023ff,#0029ff,#002aff,#0029ff,#0023ff,#0026ff,#002dff,#004dff,#009eff,#00c7ff,#00d7ff,#0080ff,#003fff,#0053ff,#003aff,#002cff,#0031ff,#002fff,#0025ff,#0020ff,#001dff,#0025ff,#0043ff,#006cff,#00c6ff,#00f0ff,#5effa1,#ceff32,#ff9600,#ff3c00,#ff7200,#ffe400,#9eff62,#51ffae,#00f1ff,#00acff,#0056ff,#0040ff,#0034ff,#001bff,#000bff,#0006ff,#0000fa,#0000f5,#0000f8,#0002fa,#0007ff,#000bff,#0004ff,#0004ff,#000eff,#0006ff,#0000f7,#0011ff,#0022ff,#0014ff,#000aff,#0004ff,#000dff,#0018ff,#0013ff,#000fff,#000dff,#0011ff,#001bff,#001eff,#0026ff,#0024ff,#0022ff,#0023ff,#0020ff,#0015ff,#000fff,#000cff,#0024ff,#0033ff,#0022ff,#001fff,#0027ff,#0024ff,#001bff,#0023ff,#002dff,#0019ff,#000dff,#000eff,#0009ff,#0009ff,#000cff,#000fff,#0001fa,#0000f6,#0012ff,#0012ff,#0003f9,#000bff,#002aff,#002fff,#0030ff,#002fff,#002fff,#0029ff,#0037ff,#0045ff,#0033ff,#002cff,#0028ff,#0025ff,#0026ff,#0026ff,#0026ff,#002aff)"></i>
<i style="background:linear-gradient(90deg,#00a4ff,#00b6ff,#00d3ff,#01ffff,#22ffdd,#12ffee,#15ffea,#27ffd9,#00f1ff,#00c2ff,#00b1ff,#009cff,#0066ff,#0051ff,#0041ff,#0035ff,#0029ff,#001dff,#0014ff,#0022ff,#001aff,#0004ff,#0002ff,#0003ff,#0017ff,#001eff,#0019ff,#0016ff,#0011ff,#000eff,#0009ff,#0018ff,#0023ff,#0003ff,#0000f4,#0000f8,#0000f6,#0000f3,#0007ff,#0012ff,#000aff,#0009ff,#0017ff,#001aff,#001cff,#0014ff,#0006ff,#0000fd,#0000f9,#0000f9,#000cff,#0028ff,#0025ff,#0024ff,#0026ff,#0026ff,#001eff,#0023ff,#003aff,#0051ff,#008bff,#00beff,#00d7ff,#0077ff,#0039ff,#004fff,#0038ff,#002bff,#002dff,#002aff,#0020ff,#001dff,#0028ff,#002dff,#0044ff,#0072ff,#00d2ff,#00e9ff,#49ffb6,#b2ff4e,#ffbb00,#ff5b00,#ffbb00,#dfff20,#9aff66,#56ffa9,#01fcff,#00b4ff,#0053ff,#003dff,#0031ff,#0019ff,#0009ff,#0001fe,#0000f7,#0000f8,#0000f5,#0000f2,#0005ff,#000bff,#0007ff,#0006ff,#000bff,#0004ff,#0000f9,#0018ff,#002bff,#0010ff,#0005ff,#0005ff,#000cff,#0013ff,#0011ff,#000fff,#000fff,#0013ff,#001dff,#0021ff,#0029ff,#0027ff,#0025ff,#0028ff,#0024ff,#0016ff,#0010ff,#000dff,#0026ff,#0036ff,#001fff,#001bff,#0023ff,#0024ff,#0026ff,#002aff,#002fff,#0017ff,#000bff,#0013ff,#000fff,#000cff,#000eff,#0010ff,#0000f6,#0000f0,#0011ff,#000fff,#0000f0,#0004ff,#0029ff,#0030ff,#0034ff,#0039ff,#0037ff,#0029ff,#0037ff,#0046ff,#0032ff,#0029ff,#0021ff,#001eff,#0020ff,#0022ff,#0026ff,#0029ff)"></i>
<i style="background:linear-gradient(90deg,#009bff,#00b7ff,#00e3ff,#00fcff,#17ffe8,#18ffe7,#0dfff2,#05f7fb,#00f5ff,#00eaff,#00b0ff,#0090ff,#0077ff,#0064ff,#0057ff,#004bff,#0042ff,#0031ff,#0024ff,#0029ff,#001fff,#000bff,#0009ff,#000aff,#001dff,#0023ff,#0014ff,#000fff,#000bff,#0004ff,#0000f6,#0005ff,#0011ff,#0006ff,#0001fd,#0000f7,#0000f4,#0000f4,#0009ff,#0017ff,#000cff,#000aff,#000eff,#0010ff,#000eff,#000cff,#0005ff,#0002ff,#0003ff,#000dff,#0012ff,#0014ff,#001fff,#0029ff,#0019ff,#0014ff,#0017ff,#0020ff,#0041ff,#0053ff,#007dff,#00a1ff,#00baff,#0094ff,#0061ff,#005fff,#0032ff,#0018ff,#0020ff,#0021ff,#001bff,#0019ff,#001eff,#0027ff,#0049ff,#006cff,#00c1ff,#01faff,#72ff8e,#ccff34,#ffcc00,#ff9600,#ffd400,#e8ff18,#baff45,#71ff8f,#00e3ff,#00a7ff,#0068ff,#0040ff,#0022ff,#0019ff,#0013ff,#0010ff,#0010ff,#0018ff,#0011ff,#000cff,#000bff,#000cff,#0016ff,#0013ff,#000aff,#0004ff,#0000fc,#0011ff,#001dff,#0010ff,#000eff,#0013ff,#0012ff,#0010ff,#0017ff,#0018ff,#001cff,#0020ff,#0022ff,#0021ff,#0022ff,#001dff,#001aff,#0023ff,#0022ff,#0017ff,#0012ff,#0012ff,#0017ff,#001dff,#001aff,#001aff,#0015ff,#0017ff,#0020ff,#0024ff,#002aff,#001dff,#0017ff,#0020ff,#001fff,#001bff,#0022ff,#0027ff,#0013ff,#000dff,#0010ff,#0011ff,#0013ff,#001aff,#0029ff,#0029ff,#002bff,#0037ff,#003aff,#0032ff,#0039ff,#003fff,#0030ff,#002bff,#002bff,#002aff,#002cff,#0031ff,#003eff,#003bff)"></i>
<i style="background:linear-gradient(90deg,#0091ff,#00b4ff,#00eaff,#00f7ff,#0dfff3,#19ffe6,#06fffa,#00dcff,#00f8ff,#0afff6,#00b2ff,#008aff,#0085ff,#0073ff,#0068ff,#005dff,#0054ff,#0040ff,#002fff,#002fff,#0023ff,#0011ff,#0010ff,#0012ff,#0023ff,#0026ff,#0011ff,#000bff,#0007ff,#0000fc,#0000e9,#0000f4,#0003ff,#0008ff,#0005ff,#0000f5,#0000f3,#0000f4,#000bff,#001bff,#000fff,#000cff,#0009ff,#0009ff,#0004ff,#0007ff,#0006ff,#0006ff,#000cff,#001dff,#0017ff,#0005ff,#001bff,#002dff,#000cff,#0003ff,#0011ff,#001cff,#0044ff,#0052ff,#006fff,#0085ff,#009aff,#00a1ff,#007fff,#006cff,#002dff,#000aff,#0015ff,#001aff,#0018ff,#0017ff,#0017ff,#0023ff,#004dff,#0067ff,#00b4ff,#09fff6,#8fff70,#dfff20,#ffd600,#ffbb00,#ffdf00,#f1ff0f,#ceff31,#82ff7d,#00cfff,#009dff,#0076ff,#0041ff,#0015ff,#0017ff,#001aff,#001cff,#0021ff,#002dff,#0025ff,#001eff,#0011ff,#000eff,#0022ff,#001eff,#0009ff,#0006ff,#0001ff,#000cff,#0014ff,#0012ff,#0016ff,#001eff,#0016ff,#000eff,#001cff,#0021ff,#0028ff,#002aff,#0025ff,#0022ff,#001cff,#0016ff,#0011ff,#001eff,#001eff,#0016ff,#0013ff,#0013ff,#000aff,#0008ff,#0014ff,#0018ff,#000bff,#000eff,#001bff,#0020ff,#0026ff,#0022ff,#0022ff,#002aff,#002cff,#0028ff,#0033ff,#003bff,#002aff,#0024ff,#0011ff,#0015ff,#002eff,#002cff,#002aff,#0026ff,#0025ff,#0036ff,#003cff,#0038ff,#0038ff,#0038ff,#002eff,#002bff,#0032ff,#0033ff,#0034ff,#003dff,#004fff,#0049ff)"></i>
<i style="background:linear-gradient(90deg,#007eff,#009aff,#00c8ff,#00f5ff,#18ffe8,#04fafc,#00f7ff,#00f4ff,#00f7ff,#00f4ff,#00baff,#0097ff,#0075ff,#0062ff,#0057ff,#0050ff,#004dff,#0036ff,#0024ff,#002bff,#0024ff,#0018ff,#001eff,#0025ff,#0021ff,#001cff,#0018ff,#0015ff,#000eff,#0004ff,#0000ef,#0000ef,#0000f4,#0007ff,#0007ff,#0000f1,#0000ee,#0000f2,#0007ff,#0015ff,#0014ff,#0013ff,#0006ff,#000aff,#000dff,#000dff,#000aff,#000fff,#0017ff,#0026ff,#001aff,#0000fc,#0013ff,#0026ff,#0001fb,#0000f0,#000fff,#0018ff,#0029ff,#0046ff,#008cff,#0093ff,#0095ff,#0090ff,#0074ff,#0060ff,#002dff,#0012ff,#0018ff,#001bff,#0018ff,#0018ff,#001eff,#002aff,#0053ff,#006fff,#00bfff,#06fffa,#80ff80,#c4ff3b,#fcf603,#ffe300,#ffe100,#fef702,#b6ff49,#66ff99,#00cfff,#009bff,#006bff,#0038ff,#000fff,#0010ff,#0013ff,#001bff,#001cff,#001fff,#001aff,#0017ff,#0015ff,#0014ff,#0018ff,#0014ff,#0007ff,#0005ff,#0004ff,#000eff,#0016ff,#0013ff,#0014ff,#0013ff,#0013ff,#0013ff,#0020ff,#0025ff,#0032ff,#0032ff,#001dff,#001dff,#001fff,#0018ff,#0013ff,#001cff,#001cff,#0015ff,#0014ff,#0016ff,#000bff,#000aff,#0010ff,#0013ff,#000cff,#0010ff,#001dff,#001fff,#0025ff,#002bff,#0031ff,#0033ff,#0030ff,#0023ff,#0031ff,#003bff,#0029ff,#0023ff,#0016ff,#001aff,#0035ff,#0034ff,#0032ff,#0029ff,#0027ff,#003cff,#003dff,#002fff,#002cff,#002bff,#002eff,#0031ff,#0033ff,#0033ff,#0032ff,#0038ff,#0044ff,#0041ff)"></i>
<i style="background:linear-gradient(90deg,#006dff,#0081ff,#00a6ff,#00f9ff,#28ffd8,#00e3ff,#00e8ff,#0ffff0,#00f2ff,#00d8ff,#00bcff,#00a0ff,#005fff,#004aff,#0041ff,#003fff,#0043ff,#0028ff,#0015ff,#0025ff,#0025ff,#001fff,#002cff,#003aff,#001eff,#0010ff,#001fff,#001eff,#0017ff,#000cff,#0000f8,#0000ed,#0000e8,#0008ff,#000cff,#0000ee,#0000ec,#0000f2,#0002ff,#000eff,#0018ff,#0018ff,#0001ff,#0007ff,#0015ff,#0013ff,#000dff,#0016ff,#0021ff,#002fff,#001cff,#0000f4,#000aff,#001dff,#0000ec,#0000de,#000fff,#0016ff,#000fff,#003eff,#00b6ff,#00b5ff,#00a4ff,#0087ff,#0066ff,#0052ff,#002fff,#001fff,#001fff,#001fff,#0018ff,#0019ff,#0027ff,#0032ff,#005aff,#0079ff,#00ccff,#01fffe,#6cff94,#abff54,#ebff14,#fcff03,#ffda00,#ffd500,#adff53,#4fffb1,#00d3ff,#009bff,#0060ff,#0031ff,#000aff,#0008ff,#000bff,#001aff,#0017ff,#000fff,#000dff,#000dff,#0018ff,#001aff,#000dff,#0008ff,#0003ff,#0004ff,#0007ff,#0010ff,#0017ff,#0012ff,#000eff,#0003ff,#000bff,#0014ff,#0022ff,#0028ff,#003aff,#0039ff,#0012ff,#0016ff,#0022ff,#001bff,#0016ff,#001cff,#001bff,#0016ff,#0018ff,#001dff,#0012ff,#0010ff,#000dff,#000eff,#000fff,#0012ff,#001dff,#001eff,#0021ff,#0034ff,#003fff,#003bff,#002fff,#0019ff,#0027ff,#0033ff,#0021ff,#001cff,#0016ff,#001bff,#0039ff,#0038ff,#0038ff,#002bff,#0027ff,#0041ff,#003fff,#0027ff,#0021ff,#001eff,#002fff,#0037ff,#0033ff,#0033ff,#002eff,#0030ff,#0035ff,#0036ff)"></i>
<i style="background:linear-gradient(90deg,#0068ff,#007cff,#00a1ff,#00edff,#1affe6,#00e0ff,#00e2ff,#04fffb,#00f4ff,#00e4ff,#00c1ff,#00a2ff,#006dff,#0058ff,#0052ff,#0048ff,#003fff,#002fff,#0023ff,#002cff,#002aff,#0023ff,#0028ff,#002fff,#0019ff,#000cff,#0015ff,#0015ff,#0017ff,#000fff,#0002fe,#0000f6,#0000f2,#000bff,#000eff,#0000f4,#0000f1,#0000f9,#0000ff,#0006ff,#000eff,#000fff,#0002ff,#0008ff,#0013ff,#0018ff,#0019ff,#0012ff,#0012ff,#0022ff,#001aff,#0005fd,#000fff,#001aff,#0000f3,#0000e9,#0018ff,#001cff,#0008ff,#002dff,#0090ff,#00adff,#00afff,#0082ff,#0058ff,#003dff,#002fff,#002dff,#0027ff,#0025ff,#001fff,#001eff,#0022ff,#002cff,#0051ff,#006eff,#00bfff,#0dfff3,#8fff71,#e5ff1b,#ffd300,#ffe100,#ffe900,#ffe900,#e1ff1e,#71ff8e,#00eeff,#00aeff,#0067ff,#003bff,#0016ff,#000eff,#000dff,#0016ff,#0017ff,#0016ff,#0015ff,#0016ff,#001eff,#001fff,#0010ff,#000dff,#0011ff,#000cff,#0005ff,#000fff,#0015ff,#0010ff,#000eff,#000cff,#0014ff,#001eff,#0028ff,#002cff,#0037ff,#0034ff,#0010ff,#0017ff,#002cff,#0023ff,#0019ff,#001aff,#0016ff,#0013ff,#0012ff,#0013ff,#000dff,#000fff,#000dff,#000fff,#000cff,#000bff,#0009ff,#000eff,#0019ff,#002aff,#0034ff,#0032ff,#002bff,#001bff,#0028ff,#0032ff,#002aff,#0027ff,#001dff,#0022ff,#003eff,#0037ff,#002aff,#0023ff,#0022ff,#0035ff,#0032ff,#001cff,#001bff,#001bff,#0030ff,#0039ff,#0036ff,#0034ff,#002cff,#0030ff,#003bff,#003bff)"></i>
<i style="background:linear-gradient(90deg,#0063ff,#007aff,#00a1ff,#00daff,#03fefc,#00e3ff,#00e0ff,#00f3ff,#00fdff,#03fefd,#00caff,#00a7ff,#0086ff,#0075ff,#0072ff,#005aff,#003dff,#003eff,#003eff,#003aff,#0032ff,#0028ff,#0020ff,#001bff,#0010ff,#0009ff,#0003ff,#0004ff,#0015ff,#0012ff,#000cff,#0006ff,#0003ff,#000fff,#0010ff,#0000fd,#0000fc,#0006ff,#0000fd,#0000fa,#0002fe,#0002ff,#0004ff,#000aff,#0011ff,#0020ff,#002eff,#000aff,#0000f8,#000cff,#0017ff,#001cff,#001aff,#0017ff,#0003ff,#0002fe,#0027ff,#0028ff,#0003ff,#0013ff,#004aff,#0097ff,#00c0ff,#007dff,#0042ff,#001eff,#002dff,#0042ff,#0033ff,#002eff,#0029ff,#0026ff,#0019ff,#0021ff,#0042ff,#005aff,#00aaff,#23ffdc,#cbff35,#ffc200,#ff7600,#ffa900,#f7ff08,#d8ff28,#fff600,#9bff64,#19ffe6,#00ceff,#0076ff,#004cff,#0029ff,#001aff,#0011ff,#000fff,#0018ff,#0022ff,#0022ff,#0023ff,#0025ff,#0025ff,#0017ff,#0016ff,#0029ff,#001aff,#0002ff,#000cff,#0012ff,#000dff,#0011ff,#001dff,#0027ff,#002fff,#0033ff,#0033ff,#0030ff,#002bff,#000dff,#001bff,#003cff,#002eff,#001fff,#0016ff,#000eff,#000eff,#0008ff,#0003ff,#0006ff,#000dff,#0010ff,#0012ff,#000aff,#0001fe,#0000e6,#0000f5,#000fff,#0018ff,#001fff,#0022ff,#0025ff,#0022ff,#002bff,#0032ff,#003aff,#003bff,#0029ff,#002dff,#0046ff,#0034ff,#0013ff,#0016ff,#001aff,#0020ff,#001bff,#000bff,#0013ff,#001bff,#0032ff,#003dff,#003cff,#0039ff,#002aff,#0033ff,#0048ff,#0046ff)"></i>
<i style="background:linear-gradient(90deg,#006bff,#0083ff,#00abff,#00d1ff,#00f0ff,#00e6ff,#00ddff,#00e1ff,#00f3ff,#01fefe,#00c4ff,#009fff,#0086ff,#0074ff,#006eff,#0057ff,#003bff,#0038ff,#0037ff,#003aff,#0034ff,#0028ff,#001eff,#0016ff,#0013ff,#0010ff,#0005ff,#0006ff,#0018ff,#0018ff,#0017ff,#000fff,#000aff,#0010ff,#000fff,#0001ff,#0000fd,#0005ff,#0000fb,#0000f8,#0000f9,#0000f9,#0001fe,#0008ff,#0012ff,#0022ff,#0031ff,#0006ff,#0000f1,#0009ff,#0015ff,#001cff,#0019ff,#0015ff,#0008ff,#0007ff,#0022ff,#0022ff,#0000fe,#000dff,#003fff,#0089ff,#00b4ff,#008fff,#0056ff,#002aff,#0031ff,#003fff,#0031ff,#002cff,#0024ff,#0021ff,#001bff,#0023ff,#0043ff,#005eff,#00aeff,#18ffe8,#b7ff48,#ffc900,#ff7b00,#ffa600,#f7ff08,#c0ff40,#d9ff27,#87ff78,#13ffed,#00c9ff,#0074ff,#004aff,#0025ff,#0015ff,#000bff,#000dff,#001cff,#002bff,#0027ff,#0024ff,#002aff,#002aff,#001dff,#001cff,#0032ff,#001fff,#0001ff,#000eff,#0017ff,#000cff,#000dff,#001bff,#0025ff,#002dff,#0039ff,#003cff,#002bff,#0025ff,#000bff,#0019ff,#003cff,#002dff,#001cff,#0013ff,#000cff,#000cff,#0006ff,#0001ff,#0004ff,#0009ff,#000eff,#0010ff,#0009ff,#0002fe,#0000e9,#0000f4,#0009ff,#000fff,#0015ff,#0018ff,#0020ff,#0024ff,#002aff,#002fff,#003aff,#003dff,#002eff,#0032ff,#0049ff,#0037ff,#0016ff,#001aff,#001dff,#001cff,#0017ff,#000cff,#0013ff,#001cff,#002bff,#0033ff,#0038ff,#0034ff,#0023ff,#002cff,#0042ff,#003fff)"></i>
<i style="background:linear-gradient(90deg,#0087ff,#00a3ff,#00cbff,#00c6ff,#00d4ff,#00f8ff,#00e9ff,#00ceff,#00e5ff,#00f6ff,#00b2ff,#008cff,#007bff,#0068ff,#0056ff,#0049ff,#003dff,#0027ff,#001bff,#0033ff,#0034ff,#0026ff,#001aff,#0012ff,#0020ff,#0023ff,#0013ff,#0011ff,#001fff,#0021ff,#0029ff,#001dff,#0012ff,#000aff,#0006ff,#0002ff,#0000fd,#0001ff,#0000fb,#0000fb,#0000f3,#0000f1,#0000f9,#0005ff,#0019ff,#0025ff,#002fff,#0001fe,#0000eb,#000cff,#0013ff,#000eff,#0013ff,#0015ff,#0011ff,#0011ff,#0010ff,#0010ff,#0000fe,#000cff,#003bff,#0061ff,#007fff,#00b8ff,#0091ff,#0054ff,#0036ff,#002cff,#0023ff,#0020ff,#000fff,#0010ff,#0023ff,#002dff,#0051ff,#0074ff,#00c9ff,#00f7ff,#76ff89,#fff100,#ffa500,#ffb000,#fff000,#beff41,#91ff6f,#50ffb0,#00e7ff,#00a8ff,#0065ff,#003aff,#0013ff,#0005ff,#0001fe,#000bff,#0021ff,#0038ff,#0027ff,#001aff,#0029ff,#002dff,#0021ff,#0021ff,#003bff,#0023ff,#0000f9,#0012ff,#0020ff,#000aff,#0004ff,#000cff,#0015ff,#001eff,#0042ff,#004eff,#0021ff,#0018ff,#0006ff,#0013ff,#0034ff,#0022ff,#000fff,#000dff,#000aff,#000bff,#0007ff,#0004ff,#0002ff,#0003ff,#000cff,#0010ff,#000fff,#000dff,#0009ff,#0005ff,#0003ff,#0005ff,#0007ff,#0008ff,#0018ff,#0029ff,#002aff,#002aff,#0035ff,#0039ff,#0036ff,#003aff,#004bff,#0040ff,#002aff,#002dff,#002dff,#001eff,#0018ff,#0017ff,#001dff,#0021ff,#001cff,#001bff,#002fff,#002eff,#0014ff,#001dff,#0032ff,#002cff)"></i>
<i style="background:linear-gradient(90deg,#0095ff,#00adff,#00ccff,#00c0ff,#00ceff,#00fdff,#00f0ff,#00cfff,#00e0ff,#00edff,#00adff,#0088ff,#0076ff,#0062ff,#0051ff,#0048ff,#0040ff,#0024ff,#0014ff,#002cff,#002dff,#0022ff,#0019ff,#0012ff,#001dff,#0020ff,#0014ff,#0014ff,#0023ff,#0025ff,#002bff,#0020ff,#0014ff,#000bff,#0008ff,#0007ff,#0002ff,#0002ff,#0000fe,#0000fe,#0000f6,#0000f4,#0000f9,#0006ff,#001dff,#0024ff,#0027ff,#0000fe,#0000ee,#000dff,#0012ff,#000bff,#0010ff,#0013ff,#0012ff,#0014ff,#0008ff,#0008ff,#0001ff,#000dff,#003aff,#0057ff,#006fff,#00b5ff,#0094ff,#005dff,#0035ff,#0025ff,#001cff,#0019ff,#000aff,#000dff,#002aff,#0033ff,#0055ff,#007aff,#00d0ff,#00f4ff,#67ff98,#f4ff0c,#ffb000,#ff8500,#ffb700,#dbff24,#8bff75,#4affb5,#00e1ff,#00a2ff,#0060ff,#0035ff,#0010ff,#0006ff,#0004fe,#000cff,#001fff,#0033ff,#0022ff,#0016ff,#0025ff,#0029ff,#0020ff,#0020ff,#0036ff,#0021ff,#0000fb,#0013ff,#0021ff,#000dff,#0008ff,#000eff,#0017ff,#0020ff,#0042ff,#004eff,#001bff,#0011ff,#0005ff,#0010ff,#002aff,#001bff,#000cff,#000aff,#0007ff,#0009ff,#0006ff,#0003ff,#0001ff,#0002ff,#000cff,#0010ff,#000eff,#000eff,#0011ff,#0009ff,#0002ff,#0001ff,#0002ff,#0004ff,#0016ff,#002aff,#0028ff,#0026ff,#0031ff,#0035ff,#0034ff,#0037ff,#0043ff,#003cff,#002eff,#0030ff,#002eff,#001dff,#0018ff,#0018ff,#001cff,#001eff,#0014ff,#0011ff,#002aff,#0029ff,#000fff,#0017ff,#0029ff,#0025ff)"></i>
<i style="background:linear-gradient(90deg,#009bff,#00a1ff,#00a5ff,#00beff,#00e1ff,#01ffff,#00f8ff,#00e6ff,#00d9ff,#00d1ff,#00b0ff,#0093ff,#006dff,#005dff,#0058ff,#004fff,#0048ff,#002eff,#0017ff,#0013ff,#0012ff,#001aff,#001bff,#001cff,#0005fe,#0002f7,#000fff,#0015ff,#002cff,#0027ff,#001eff,#0018ff,#0014ff,#0012ff,#0014ff,#0017ff,#0009ff,#0000fb,#0000f9,#0000f9,#0003ff,#0003ff,#0000fd,#0009ff,#001cff,#0014ff,#0007fd,#0005ff,#0009ff,#0014ff,#0014ff,#000cff,#000cff,#000bff,#0014ff,#0017ff,#0000fa,#0000fb,#0003ff,#0011ff,#003eff,#006aff,#0082ff,#0085ff,#006aff,#0057ff,#0033ff,#0021ff,#0011ff,#000dff,#0009ff,#0010ff,#0036ff,#0039ff,#004aff,#006eff,#00c4ff,#07fff9,#7dff83,#d7ff29,#ffbc00,#ff6800,#ff8300,#ffdd00,#adff53,#62ff9d,#00ebff,#00a5ff,#0056ff,#0030ff,#0012ff,#0019ff,#001aff,#000eff,#000eff,#000fff,#0011ff,#0013ff,#0019ff,#001cff,#001fff,#001bff,#0014ff,#0013ff,#0012ff,#0019ff,#001eff,#001dff,#0021ff,#0029ff,#0032ff,#003bff,#003eff,#003cff,#0013ff,#000cff,#000fff,#0012ff,#001aff,#001dff,#001fff,#0012ff,#000bff,#000fff,#0008ff,#0000fd,#0003ff,#0008ff,#000fff,#0011ff,#0005ff,#0005ff,#000dff,#000cff,#000cff,#0005ff,#0005ff,#0010ff,#0022ff,#0031ff,#0029ff,#0024ff,#002aff,#002cff,#0029ff,#0029ff,#0029ff,#002aff,#002aff,#0027ff,#0023ff,#001eff,#001bff,#0018ff,#0013ff,#000eff,#000dff,#000fff,#0024ff,#0024ff,#000fff,#0013ff,#001fff,#0022ff)"></i>
<i style="background:linear-gradient(90deg,#00a2ff,#009fff,#0094ff,#00beff,#00eaff,#01fdff,#00fbff,#00f0ff,#00d8ff,#00c6ff,#00b1ff,#0098ff,#006cff,#005cff,#005aff,#0052ff,#004bff,#0032ff,#001aff,#0009ff,#0006ff,#0016ff,#001cff,#001fff,#0000f7,#0000e7,#000dff,#0016ff,#002eff,#0027ff,#0018ff,#0015ff,#0016ff,#0016ff,#0019ff,#0020ff,#0010ff,#0001fc,#0000fa,#0000fa,#000aff,#000cff,#0004ff,#000cff,#001cff,#000dff,#0000f3,#0007ff,#0015ff,#0019ff,#0015ff,#000dff,#0009ff,#0005ff,#0011ff,#0016ff,#0000f3,#0000f6,#0006ff,#0015ff,#0042ff,#006eff,#0083ff,#006dff,#0056ff,#0054ff,#0031ff,#0020ff,#000dff,#0008ff,#000cff,#0015ff,#003bff,#003bff,#0045ff,#0068ff,#00bfff,#0ffff0,#88ff77,#cdff33,#ffcf00,#ff8700,#ff8c00,#ffc200,#c3ff3c,#75ff8a,#00f6ff,#00aaff,#0053ff,#0030ff,#0015ff,#0024ff,#0027ff,#000fff,#0007ff,#0001fe,#0009ff,#0012ff,#0014ff,#0015ff,#001dff,#0017ff,#0003ff,#000cff,#001eff,#001dff,#001cff,#0024ff,#002bff,#0034ff,#003dff,#0046ff,#0039ff,#0031ff,#000fff,#000aff,#0011ff,#0010ff,#000fff,#0019ff,#0023ff,#0012ff,#0008ff,#000cff,#0005ff,#0000fa,#0003ff,#0009ff,#0010ff,#0011ff,#0000ff,#0001ff,#000aff,#000bff,#000fff,#0004ff,#0003ff,#0011ff,#0023ff,#0031ff,#0027ff,#0020ff,#0026ff,#0028ff,#0025ff,#0022ff,#001bff,#001fff,#0026ff,#0021ff,#001eff,#001fff,#001bff,#0016ff,#000fff,#0007ff,#000aff,#000eff,#0020ff,#0021ff,#000fff,#0012ff,#001aff,#0020ff)"></i>
<i style="background:linear-gradient(90deg,#00b0ff,#00afff,#00a6ff,#00d3ff,#00f9ff,#00ebff,#00e6ff,#00e6ff,#00e9ff,#00e8ff,#00b6ff,#0096ff,#0088ff,#0072ff,#004cff,#0044ff,#0041ff,#002fff,#001eff,#0015ff,#0010ff,#0017ff,#0018ff,#0018ff,#0002fe,#0000f6,#0014ff,#001aff,#0023ff,#0020ff,#001cff,#001bff,#001cff,#000eff,#0010ff,#0021ff,#001bff,#0012ff,#0006ff,#0000fe,#0010ff,#0014ff,#0017ff,#001aff,#0017ff,#000cff,#0000f8,#0003ff,#0010ff,#0024ff,#0021ff,#000fff,#0004ff,#0000f7,#0003fd,#0005ff,#0000f1,#0000f8,#000eff,#0022ff,#0059ff,#005bff,#0053ff,#0078ff,#0070ff,#0069ff,#003cff,#0024ff,#0016ff,#0012ff,#0023ff,#0028ff,#0026ff,#0028ff,#003aff,#005dff,#00b1ff,#09fff6,#8aff76,#d7ff28,#ffd400,#ffa200,#ff8900,#ffb900,#e0ff20,#93ff6c,#0dfff3,#00baff,#0056ff,#0036ff,#001eff,#0027ff,#0026ff,#000fff,#000bff,#000dff,#0012ff,#0015ff,#0018ff,#0018ff,#0012ff,#000bff,#0000fe,#000fff,#002eff,#0026ff,#001eff,#0018ff,#0019ff,#0021ff,#002aff,#0033ff,#0029ff,#0023ff,#0019ff,#0016ff,#000eff,#000cff,#0008ff,#000bff,#000fff,#0004ff,#0000f7,#0000ed,#0000f2,#0000fb,#0001ff,#0006ff,#000dff,#000eff,#0000fa,#0000fa,#0005ff,#0005ff,#0006ff,#0000f7,#0000f0,#0000f6,#000dff,#0025ff,#001cff,#0016ff,#0029ff,#0030ff,#0037ff,#0031ff,#0019ff,#001bff,#001dff,#001fff,#0020ff,#0024ff,#001fff,#0013ff,#0018ff,#001eff,#001bff,#001cff,#0024ff,#0024ff,#0014ff,#0019ff,#0026ff,#0029ff)"></i>
<i style="background:linear-gradient(90deg,#00b5ff,#00b8ff,#00b4ff,#00e4ff,#07fff8,#00e2ff,#00dbff,#00e3ff,#00f9ff,#05fffa,#00bdff,#0099ff,#009eff,#0080ff,#0040ff,#0039ff,#0037ff,#002cff,#0021ff,#001dff,#0019ff,#0019ff,#0017ff,#0015ff,#0009ff,#0004ff,#001bff,#001eff,#001cff,#001cff,#0020ff,#001fff,#001fff,#0008ff,#0008ff,#0020ff,#0022ff,#0020ff,#000dff,#0004ff,#0018ff,#001dff,#0027ff,#0026ff,#0014ff,#000dff,#0000fe,#0003ff,#000fff,#002fff,#002aff,#0013ff,#0001ff,#0000f2,#0000f8,#0000fb,#0000f5,#0000fd,#0016ff,#002fff,#006dff,#0050ff,#0034ff,#007eff,#007eff,#0075ff,#0041ff,#0025ff,#001aff,#0019ff,#0032ff,#0033ff,#0016ff,#0019ff,#0031ff,#0052ff,#00a7ff,#06fff9,#90ff70,#e5ff1b,#ffc600,#ff8100,#ff4500,#ff9700,#f8ff08,#aaff55,#1fffe1,#00c6ff,#005bff,#003cff,#0024ff,#0028ff,#0024ff,#000cff,#000dff,#0015ff,#0015ff,#0015ff,#0019ff,#0019ff,#0008ff,#0002ff,#0000fa,#0012ff,#0039ff,#002dff,#001eff,#000eff,#000aff,#0010ff,#0019ff,#0022ff,#001aff,#0015ff,#001eff,#001cff,#000aff,#0008ff,#0003ff,#0003ff,#0001ff,#0000f9,#0000eb,#0000d8,#0000e6,#0000fd,#0003ff,#0006ff,#000dff,#000dff,#0000f6,#0000f6,#0002ff,#0001ff,#0000ff,#0000ef,#0000e5,#0000e4,#0000fc,#001bff,#0015ff,#000fff,#002aff,#0035ff,#0044ff,#003dff,#001aff,#0018ff,#0016ff,#001bff,#0022ff,#0029ff,#0024ff,#0014ff,#0022ff,#0032ff,#002cff,#002bff,#0029ff,#0028ff,#001aff,#0022ff,#0032ff,#0032ff)"></i>
<i style="background:linear-gradient(90deg,#00a7ff,#00b3ff,#00c0ff,#00daff,#00f5ff,#00edff,#00f1ff,#02f9fd,#00f5ff,#00efff,#00b7ff,#0095ff,#0090ff,#0073ff,#003bff,#0033ff,#002dff,#0027ff,#0020ff,#001dff,#001cff,#0021ff,#0019ff,#0011ff,#0012ff,#0012ff,#0017ff,#0018ff,#0021ff,#0023ff,#0029ff,#0020ff,#0019ff,#0014ff,#0014ff,#0017ff,#0012ff,#000dff,#0004ff,#0002ff,#0010ff,#0015ff,#001fff,#001fff,#001aff,#001aff,#0014ff,#0011ff,#0015ff,#0026ff,#0022ff,#0011ff,#0006ff,#0000fa,#0003ff,#0006ff,#0006ff,#000dff,#0023ff,#003cff,#0077ff,#0070ff,#005bff,#0062ff,#0051ff,#004dff,#002aff,#0019ff,#0020ff,#0025ff,#0027ff,#0028ff,#0021ff,#0027ff,#0045ff,#0063ff,#00b8ff,#10fff0,#96ff69,#e7ff18,#ffbe00,#ff5900,#f60300,#ff7300,#fffb00,#b4ff4b,#24ffdc,#00cfff,#006dff,#004aff,#002bff,#002cff,#0025ff,#000cff,#000bff,#0014ff,#0016ff,#0018ff,#001dff,#001dff,#0000fa,#0000f7,#0001fe,#000dff,#0026ff,#001cff,#0013ff,#0011ff,#000eff,#000dff,#0011ff,#0015ff,#000dff,#0007ff,#000dff,#000aff,#0003ff,#0004ff,#0008ff,#0001ff,#0000f7,#0000ee,#0000e4,#0000dc,#0000ea,#0000fc,#000cff,#0014ff,#001cff,#001aff,#0000fa,#0000fa,#0006ff,#0006ff,#0009ff,#0004fc,#0001f8,#0000f4,#0001ff,#000fff,#0010ff,#0011ff,#001bff,#0020ff,#0036ff,#0033ff,#0023ff,#001aff,#000cff,#0015ff,#001eff,#0025ff,#0029ff,#0026ff,#002fff,#0037ff,#0030ff,#002fff,#0026ff,#0025ff,#0020ff,#0028ff,#0038ff,#0036ff)"></i>
<i style="background:linear-gradient(90deg,#0097ff,#00afff,#00ccff,#00ceff,#00e0ff,#00f9ff,#0bfff5,#16ffea,#00f1ff,#00d6ff,#00afff,#0091ff,#007fff,#0063ff,#0037ff,#002cff,#0023ff,#0023ff,#0021ff,#001dff,#0020ff,#002bff,#001cff,#000cff,#001bff,#001fff,#0011ff,#0012ff,#0028ff,#002bff,#0033ff,#0021ff,#0014ff,#0021ff,#0021ff,#000dff,#0001ff,#0000f6,#0000f9,#0001ff,#0006ff,#0009ff,#0013ff,#0017ff,#0020ff,#0028ff,#002aff,#0021ff,#001cff,#001cff,#0018ff,#000fff,#000aff,#0005ff,#000dff,#0011ff,#0016ff,#001dff,#0031ff,#0049ff,#0081ff,#0094ff,#0087ff,#0044ff,#001fff,#0021ff,#0012ff,#000dff,#0027ff,#0033ff,#001bff,#001dff,#002eff,#0037ff,#005cff,#0078ff,#00cdff,#1affe6,#9bff64,#e7ff19,#ffc100,#ff5d00,#f30000,#ff6c00,#fff100,#bcff43,#28ffd8,#00d7ff,#007fff,#0058ff,#0033ff,#0031ff,#0028ff,#000dff,#000bff,#0013ff,#0018ff,#001cff,#0023ff,#0022ff,#0000ef,#0000ed,#0004ff,#0008ff,#000fff,#000aff,#0007ff,#0014ff,#0013ff,#000cff,#0009ff,#0009ff,#0000fe,#0000f8,#0000f9,#0000f7,#0000fa,#0001ff,#000dff,#0000fe,#0000ee,#0000e2,#0000dc,#0000e1,#0000ee,#0000fb,#0015ff,#0022ff,#002bff,#0029ff,#0000ff,#0000fe,#000aff,#000dff,#0013ff,#0013ff,#0011ff,#0007ff,#0006ff,#0002ff,#000cff,#0013ff,#000aff,#0009ff,#0025ff,#0028ff,#002cff,#001dff,#0001ff,#000eff,#001bff,#0022ff,#002fff,#003aff,#003cff,#003cff,#0034ff,#0032ff,#0021ff,#0020ff,#0026ff,#002dff,#003fff,#003aff)"></i>
<i style="background:linear-gradient(90deg,#0098ff,#00a9ff,#00bdff,#00c9ff,#00e3ff,#02fffd,#0ffff0,#0ffff1,#00faff,#00ebff,#00cbff,#00acff,#0080ff,#0062ff,#003cff,#0030ff,#0026ff,#001fff,#001bff,#001eff,#001fff,#0025ff,#001fff,#0017ff,#001dff,#001dff,#0010ff,#0011ff,#002cff,#0029ff,#0022ff,#0016ff,#000eff,#0018ff,#0019ff,#000bff,#0001ff,#0000f8,#0001fe,#0008ff,#000eff,#0010ff,#0018ff,#001cff,#0025ff,#002bff,#002bff,#0022ff,#001bff,#0017ff,#0015ff,#0014ff,#000fff,#000bff,#0010ff,#0013ff,#000fff,#0015ff,#0037ff,#004dff,#007cff,#00a4ff,#00abff,#0066ff,#0030ff,#001dff,#000cff,#0005ff,#0022ff,#002fff,#0015ff,#0018ff,#002eff,#0035ff,#0051ff,#0079ff,#00deff,#26ffda,#abff55,#fcf704,#ffa100,#ff5a00,#ff2d00,#ff9100,#f8fd07,#aeff51,#31ffcf,#00ddff,#007cff,#0053ff,#002bff,#002aff,#0027ff,#0019ff,#0014ff,#0011ff,#0019ff,#001fff,#001dff,#001bff,#0004fb,#0003fa,#0006ff,#000bff,#0015ff,#0010ff,#000cff,#0012ff,#000eff,#0009ff,#0007ff,#0005ff,#0000fd,#0000f7,#0000f7,#0000f6,#0000fd,#0000ff,#0005ff,#0000fe,#0000f7,#0000ee,#0000e8,#0000ec,#0000f5,#0000fd,#0012ff,#001bff,#0020ff,#001fff,#0008ff,#0004ff,#0003fe,#0004ff,#000aff,#000cff,#000cff,#0007ff,#0007ff,#0004ff,#000cff,#0013ff,#0014ff,#0015ff,#0020ff,#0023ff,#002eff,#0025ff,#0014ff,#001aff,#001eff,#001aff,#0027ff,#003aff,#003bff,#0039ff,#0034ff,#0033ff,#001eff,#001eff,#002eff,#0030ff,#0034ff,#0033ff)"></i>
<i style="background:linear-gradient(90deg,#009cff,#009eff,#009dff,#00bbff,#00e4ff,#08fff8,#10fff0,#00fcff,#06fff9,#0efff1,#00f4ff,#00d4ff,#0080ff,#0062ff,#0045ff,#0038ff,#002cff,#001cff,#0013ff,#001fff,#001eff,#0018ff,#0021ff,#0029ff,#001eff,#0016ff,#000dff,#0011ff,#0033ff,#0024ff,#0004ff,#0004ff,#0005ff,#0006ff,#0007ff,#0009ff,#0005ff,#0000fe,#0009ff,#0013ff,#0014ff,#0016ff,#001bff,#001fff,#002aff,#002bff,#0026ff,#001eff,#0017ff,#000dff,#0012ff,#001cff,#0017ff,#0011ff,#0010ff,#0011ff,#0000fa,#0003ff,#003cff,#004cff,#006cff,#00b2ff,#00d9ff,#009fff,#0053ff,#001fff,#0007ff,#0000fd,#001cff,#0029ff,#000fff,#0012ff,#002cff,#002eff,#003eff,#0079ff,#00f7ff,#35ffca,#bcff44,#ffd100,#ff5f00,#ff3400,#ff6c00,#ffc400,#daff25,#93ff6c,#3dffc3,#00e3ff,#0071ff,#0046ff,#001cff,#0022ff,#0028ff,#0032ff,#0028ff,#0013ff,#001dff,#0027ff,#0017ff,#0012ff,#001fff,#001cff,#000bff,#0013ff,#0024ff,#001eff,#0016ff,#000dff,#0007ff,#0008ff,#0006ff,#0003ff,#0000fe,#0000fa,#0000fa,#0000fa,#0007ff,#0002ff,#0000f6,#0000fe,#0006ff,#0003ff,#0002fd,#0002fe,#0001ff,#0000fe,#000aff,#000dff,#000bff,#000bff,#0017ff,#000dff,#0000f2,#0000f4,#0000fb,#0001fe,#0003ff,#0006ff,#000bff,#000aff,#000fff,#0013ff,#0029ff,#002fff,#001dff,#001fff,#0031ff,#0035ff,#0038ff,#0030ff,#0025ff,#000eff,#0018ff,#0033ff,#0034ff,#0031ff,#0030ff,#0030ff,#0016ff,#0018ff,#0037ff,#0031ff,#001fff,#0025ff)"></i>
<i style="background:linear-gradient(90deg,#0095ff,#0094ff,#0090ff,#00b4ff,#00e4ff,#0afff5,#19ffe6,#02fffd,#0afff5,#14ffec,#00f5ff,#00d3ff,#007cff,#0060ff,#0048ff,#0039ff,#002bff,#001cff,#0014ff,#001fff,#001dff,#0014ff,#0020ff,#002bff,#0022ff,#001cff,#0013ff,#0016ff,#0030ff,#0022ff,#0006ff,#0007ff,#0006ff,#0001fe,#0001fd,#0007ff,#0005ff,#0000fe,#0009ff,#0013ff,#0010ff,#0011ff,#001dff,#0021ff,#0029ff,#0027ff,#001cff,#0018ff,#0013ff,#000aff,#0014ff,#0023ff,#001dff,#0016ff,#000fff,#000eff,#0002fc,#0006ff,#0037ff,#0048ff,#006aff,#00a2ff,#00c2ff,#0098ff,#0052ff,#001aff,#000bff,#0008ff,#0022ff,#002cff,#0010ff,#0011ff,#0024ff,#0028ff,#003bff,#0072ff,#00ebff,#31ffcf,#b8ff47,#ffdb00,#ff3a00,#ff1a00,#ff8f00,#ffd600,#d1ff2e,#8bff75,#38ffc7,#00dcff,#0067ff,#0041ff,#001eff,#001fff,#0025ff,#0036ff,#0030ff,#001dff,#0024ff,#002aff,#001dff,#001aff,#0026ff,#0023ff,#0012ff,#0017ff,#001fff,#0018ff,#0011ff,#000aff,#0005ff,#0005ff,#0002ff,#0000ff,#0001fe,#0002fd,#0000fd,#0000fe,#0005ff,#0001fe,#0000f5,#0000fb,#0003ff,#0003ff,#0001fe,#0001fc,#0002ff,#0006ff,#000fff,#0011ff,#0005ff,#0003ff,#0016ff,#000fff,#0000f7,#0000f6,#0000fa,#0001ff,#0008ff,#000fff,#0015ff,#0014ff,#001aff,#001eff,#002cff,#002fff,#001fff,#0020ff,#0032ff,#0037ff,#0038ff,#002eff,#0023ff,#000dff,#0015ff,#002cff,#002cff,#0029ff,#002cff,#002dff,#000fff,#0012ff,#003aff,#0032ff,#001bff,#001fff)"></i>
<i style="background:linear-gradient(90deg,#008aff,#008aff,#0085ff,#00b8ff,#00f2ff,#13ffed,#26ffd9,#0afff6,#0efff1,#16ffea,#00eaff,#00c7ff,#0072ff,#005aff,#004aff,#0039ff,#0027ff,#0020ff,#001dff,#0020ff,#001aff,#0010ff,#001aff,#0024ff,#002bff,#002bff,#0020ff,#001eff,#0020ff,#001aff,#000fff,#0010ff,#000bff,#0000f8,#0000f4,#0007ff,#0006ff,#0000fd,#0009ff,#0013ff,#0006ff,#0006ff,#0025ff,#0028ff,#0026ff,#001cff,#0008ff,#000dff,#000eff,#0008ff,#0019ff,#0032ff,#0028ff,#001dff,#000cff,#0009ff,#0013ff,#0018ff,#002aff,#0045ff,#007eff,#008bff,#008dff,#007fff,#004aff,#0016ff,#001aff,#0026ff,#0034ff,#0037ff,#001cff,#0018ff,#0018ff,#0021ff,#0040ff,#0062ff,#00beff,#21ffdf,#abff54,#efff11,#ff4100,#ff1200,#ff9d00,#ffd500,#c9ff36,#80ff80,#29ffd7,#00cbff,#0053ff,#003bff,#0027ff,#0016ff,#0015ff,#0031ff,#0037ff,#0034ff,#002dff,#0028ff,#002fff,#0030ff,#0024ff,#0022ff,#001eff,#0019ff,#000fff,#0008ff,#0003ff,#0008ff,#0003ff,#0000fd,#0000fc,#0000fe,#0009ff,#000eff,#0007ff,#0006ff,#0000f8,#0000f8,#0000fb,#0000f6,#0000f4,#0000f7,#0000f5,#0000ef,#0001ff,#0015ff,#0020ff,#0023ff,#0000fe,#0000f7,#000fff,#000eff,#0008ff,#0000fe,#0000f7,#0005ff,#0012ff,#0020ff,#0028ff,#0027ff,#0030ff,#0038ff,#0024ff,#001fff,#001fff,#0022ff,#0030ff,#0030ff,#0029ff,#001fff,#0019ff,#0013ff,#0019ff,#0020ff,#001fff,#001dff,#0026ff,#002bff,#0004ff,#0008ff,#0040ff,#0037ff,#001eff,#001cff)"></i>
<i style="background:linear-gradient(90deg,#0087ff,#0088ff,#0084ff,#00b6ff,#00f1ff,#15ffea,#31ffce,#17ffe8,#0ffff0,#0ffff1,#00e1ff,#00bfff,#0072ff,#005aff,#0048ff,#0039ff,#0028ff,#0022ff,#001fff,#001dff,#0018ff,#0012ff,#001cff,#0026ff,#002dff,#002cff,#0026ff,#0024ff,#0020ff,#001cff,#0016ff,#0014ff,#000cff,#0000f5,#0000f1,#0007ff,#0006ff,#0000fd,#0009ff,#0012ff,#0005ff,#0005ff,#0026ff,#0028ff,#0023ff,#0018ff,#0003ff,#000dff,#0011ff,#0009ff,#001bff,#0035ff,#002aff,#001fff,#000dff,#0009ff,#0016ff,#001aff,#0027ff,#0042ff,#0079ff,#007cff,#007aff,#007bff,#004cff,#0019ff,#0020ff,#002eff,#0033ff,#0033ff,#001cff,#0017ff,#0016ff,#0020ff,#0041ff,#005dff,#00b1ff,#1dffe3,#a8ff58,#e0ff1f,#ff5d00,#ff2c00,#ffa400,#ffd400,#d3ff2d,#88ff78,#1effe2,#00c2ff,#004fff,#0039ff,#0029ff,#0018ff,#0015ff,#002eff,#0037ff,#0039ff,#002fff,#0027ff,#0032ff,#0033ff,#0021ff,#0020ff,#0023ff,#001cff,#000cff,#0004ff,#0001ff,#0006ff,#0002ff,#0000fa,#0000fa,#0000fa,#000bff,#0011ff,#000bff,#0009ff,#0000f7,#0000f7,#0000fb,#0000f4,#0000f1,#0000f5,#0000f4,#0000f0,#0003ff,#0019ff,#0021ff,#0022ff,#0000fa,#0000f3,#000bff,#000bff,#000aff,#0001ff,#0000f9,#0008ff,#0017ff,#0025ff,#002dff,#002dff,#0035ff,#003cff,#0025ff,#001eff,#0020ff,#0023ff,#002fff,#002eff,#0026ff,#001cff,#0015ff,#0013ff,#0017ff,#001aff,#0018ff,#0016ff,#0025ff,#002cff,#0003ff,#0006ff,#003dff,#0036ff,#0022ff,#001fff)"></i>
<i style="background:linear-gradient(90deg,#0090ff,#0094ff,#0093ff,#00b6ff,#00e9ff,#11ffee,#3dffc3,#36ffc9,#08fff7,#00ecff,#00cdff,#00b1ff,#0081ff,#0065ff,#003cff,#0035ff,#0033ff,#0029ff,#0020ff,#0013ff,#0013ff,#0022ff,#002eff,#0035ff,#0024ff,#001bff,#0029ff,#002bff,#002fff,#002aff,#0021ff,#0016ff,#0006ff,#0000f8,#0000f6,#0007ff,#0008ff,#0004ff,#000bff,#0012ff,#0010ff,#0011ff,#0024ff,#0025ff,#001cff,#0019ff,#0010ff,#0022ff,#0027ff,#0012ff,#001aff,#002aff,#0024ff,#001cff,#0013ff,#0011ff,#000aff,#000eff,#002dff,#003dff,#0058ff,#0071ff,#0088ff,#009aff,#006aff,#002fff,#0028ff,#002dff,#001aff,#0011ff,#0013ff,#0014ff,#0025ff,#002aff,#003eff,#005dff,#00b6ff,#1fffe1,#acff53,#ebff15,#ff9100,#ff7400,#ffb500,#ffdb00,#fcf703,#b6ff49,#05fdfa,#00b1ff,#0059ff,#003aff,#0024ff,#0025ff,#0025ff,#0022ff,#0028ff,#0033ff,#002aff,#0022ff,#0022ff,#0021ff,#000dff,#0010ff,#0029ff,#0022ff,#0014ff,#000eff,#0009ff,#0006ff,#0000fe,#0000fa,#0000f5,#0000f2,#0009ff,#0013ff,#000eff,#000eff,#0003ff,#0001fe,#0000f8,#0000f7,#0000fa,#0000f9,#0000fc,#0008ff,#0011ff,#0016ff,#0011ff,#000bff,#0000f6,#0000f2,#0002ff,#0002ff,#0000fb,#0000fd,#0005ff,#000fff,#0018ff,#0020ff,#0026ff,#0028ff,#0029ff,#002bff,#002dff,#002dff,#0020ff,#0021ff,#002bff,#002dff,#002aff,#001fff,#0017ff,#000dff,#000eff,#0012ff,#000fff,#000cff,#002bff,#0038ff,#000dff,#000dff,#002dff,#0031ff,#0038ff,#0035ff)"></i>
<i style="background:linear-gradient(90deg,#0092ff,#009aff,#009eff,#00b5ff,#00dfff,#08fff8,#36ffc9,#39ffc7,#01fefe,#00dcff,#00c8ff,#00aeff,#008bff,#006cff,#0036ff,#0034ff,#0038ff,#002eff,#0022ff,#0010ff,#0013ff,#002cff,#0036ff,#003bff,#001fff,#0012ff,#002aff,#002fff,#0036ff,#0030ff,#0027ff,#0018ff,#0007ff,#0002fe,#0003fe,#000cff,#000cff,#0008ff,#000fff,#0017ff,#0019ff,#001bff,#0026ff,#0026ff,#001cff,#001cff,#0017ff,#002bff,#0030ff,#0014ff,#0016ff,#0021ff,#001dff,#0017ff,#0014ff,#0014ff,#0004ff,#0007ff,#002cff,#0037ff,#0047ff,#006cff,#008eff,#00a3ff,#0071ff,#0034ff,#002aff,#002dff,#0010ff,#0004ff,#000fff,#0013ff,#002aff,#002dff,#003bff,#005eff,#00baff,#21ffde,#afff51,#ebff15,#ffc300,#ffb100,#ffcb00,#ffeb00,#fff500,#bcff43,#00f0ff,#00a5ff,#005aff,#0038ff,#001fff,#0029ff,#002bff,#001bff,#0021ff,#0030ff,#0028ff,#001fff,#0019ff,#0017ff,#0005ff,#0009ff,#0029ff,#0023ff,#0015ff,#0010ff,#000cff,#0005ff,#0000fc,#0000f9,#0000f3,#0000ee,#000aff,#0015ff,#0011ff,#0011ff,#000aff,#0004ff,#0000f9,#0000fb,#0001ff,#0000fe,#0002ff,#0013ff,#0018ff,#0017ff,#000bff,#0001ff,#0000f6,#0000f4,#0001ff,#0001fe,#0000f9,#0001fe,#000dff,#0013ff,#001aff,#0020ff,#0023ff,#0023ff,#0021ff,#0021ff,#0030ff,#0034ff,#0023ff,#0023ff,#002cff,#002fff,#002eff,#0022ff,#0019ff,#000cff,#000bff,#000eff,#000bff,#0007ff,#002bff,#0039ff,#0012ff,#0010ff,#0022ff,#002cff,#0042ff,#003fff)"></i>
<i style="background:linear-gradient(90deg,#0091ff,#00acff,#00cbff,#00bfff,#00cfff,#00f5ff,#18ffe8,#0ffff0,#00f3ff,#00e4ff,#00d5ff,#00bbff,#009dff,#007aff,#003cff,#0030ff,#0027ff,#0028ff,#0026ff,#001dff,#001fff,#002fff,#0034ff,#0035ff,#0021ff,#0017ff,#002bff,#002fff,#0035ff,#0030ff,#0024ff,#001aff,#0011ff,#0015ff,#0017ff,#0015ff,#000bff,#0001fd,#0015ff,#0026ff,#0019ff,#0018ff,#0024ff,#0025ff,#0021ff,#0020ff,#0017ff,#001bff,#0019ff,#0006ff,#000aff,#0019ff,#0015ff,#0011ff,#0010ff,#0011ff,#0013ff,#0016ff,#002cff,#003dff,#005eff,#0084ff,#009aff,#0084ff,#004bff,#0013ff,#001bff,#0028ff,#0019ff,#0010ff,#0011ff,#0011ff,#0017ff,#001cff,#0032ff,#0060ff,#00cdff,#31ffce,#b6ff4a,#d7ff29,#ffe100,#ffbd00,#ffd500,#fff900,#cfff30,#85ff7a,#00f9ff,#00acff,#0058ff,#0035ff,#001cff,#0021ff,#001fff,#000dff,#0014ff,#0024ff,#0021ff,#001cff,#000fff,#000cff,#0010ff,#0012ff,#001fff,#0018ff,#0009ff,#0007ff,#0006ff,#0006ff,#0003ff,#0003ff,#0000fa,#0000f3,#0009ff,#0012ff,#0018ff,#0019ff,#000eff,#0008ff,#0000fc,#0000fc,#0000fe,#0000fe,#0000fe,#0004fd,#0012ff,#0024ff,#0012ff,#0004ff,#0004ff,#0003fe,#0006ff,#0008ff,#000aff,#000aff,#000cff,#000cff,#0013ff,#0026ff,#0026ff,#001dff,#001dff,#0021ff,#002eff,#0032ff,#0033ff,#0034ff,#0035ff,#0037ff,#0033ff,#0029ff,#0021ff,#0018ff,#0017ff,#0019ff,#0014ff,#000eff,#0016ff,#001aff,#0016ff,#0016ff,#0017ff,#0026ff,#0047ff,#0044ff)"></i>
<i style="background:linear-gradient(90deg,#0091ff,#00b9ff,#00e9ff,#00c3ff,#00c1ff,#00e4ff,#01fbff,#00ecff,#00e8ff,#00e9ff,#00deff,#00c5ff,#00aaff,#0085ff,#0040ff,#002eff,#001cff,#0024ff,#0028ff,#0026ff,#0027ff,#0031ff,#0031ff,#002fff,#0022ff,#001bff,#002bff,#002fff,#0035ff,#002eff,#0021ff,#001bff,#0019ff,#0024ff,#0026ff,#001bff,#000aff,#0000f9,#001aff,#0030ff,#0019ff,#0015ff,#0022ff,#0024ff,#0026ff,#0023ff,#0016ff,#000fff,#0008ff,#0000fb,#0002ff,#0014ff,#0010ff,#000dff,#000dff,#000eff,#001eff,#0021ff,#002dff,#0042ff,#0071ff,#0096ff,#00a3ff,#006eff,#002fff,#0000fb,#0010ff,#0024ff,#001fff,#0019ff,#0012ff,#000fff,#000aff,#0012ff,#002cff,#0063ff,#00dbff,#3dffc2,#bbff44,#caff35,#ffea00,#ffb800,#ffd800,#fdff02,#a4ff5c,#5cffa3,#01feff,#00b2ff,#0056ff,#0033ff,#0019ff,#001bff,#0017ff,#0004ff,#000bff,#001bff,#001cff,#0019ff,#0008ff,#0004ff,#0017ff,#0018ff,#0018ff,#0010ff,#0001ff,#0001ff,#0003ff,#0008ff,#0007ff,#0009ff,#0000ff,#0000f6,#0008ff,#000fff,#001cff,#001eff,#0011ff,#000cff,#0000ff,#0000fd,#0000fd,#0000ff,#0000fc,#0000f5,#000eff,#002bff,#0016ff,#0006ff,#000cff,#000cff,#000bff,#000eff,#0017ff,#0011ff,#000bff,#0006ff,#000dff,#002aff,#0028ff,#0018ff,#001bff,#0022ff,#002cff,#0030ff,#003fff,#0040ff,#003bff,#003cff,#0037ff,#002dff,#0026ff,#0021ff,#0020ff,#0021ff,#001aff,#0013ff,#0008ff,#0005ff,#001aff,#001cff,#0010ff,#0021ff,#0048ff,#0046ff)"></i>
<i style="background:linear-gradient(90deg,#00a0ff,#00a9ff,#00aeff,#00a2ff,#00acff,#00ccff,#00e4ff,#00dbff,#00e3ff,#00ebff,#00dcff,#00c3ff,#00afff,#008cff,#0050ff,#0040ff,#0030ff,#002eff,#002bff,#0025ff,#0021ff,#0023ff,#0021ff,#001fff,#001bff,#0018ff,#0024ff,#0027ff,#0031ff,#0027ff,#0012ff,#0010ff,#0012ff,#0020ff,#0024ff,#0017ff,#000fff,#000aff,#0018ff,#0026ff,#001bff,#0019ff,#001dff,#0020ff,#0028ff,#0023ff,#0014ff,#000cff,#0007ff,#0001fe,#0004ff,#0011ff,#000fff,#000dff,#0003ff,#0003fd,#0013ff,#0017ff,#0025ff,#003bff,#006aff,#0086ff,#008cff,#0064ff,#002eff,#0001fe,#000cff,#001bff,#0022ff,#0020ff,#000eff,#000bff,#0016ff,#001fff,#003fff,#0065ff,#00c7ff,#30ffd0,#b8ff48,#d9ff27,#ffcb00,#ff8f00,#ffbd00,#fff000,#a0ff60,#54ffab,#00f8ff,#00abff,#004cff,#002fff,#001bff,#001cff,#001aff,#0010ff,#0017ff,#0021ff,#001cff,#0016ff,#0004ff,#0001fe,#0014ff,#0014ff,#0010ff,#000bff,#0001ff,#000aff,#0012ff,#000eff,#0007ff,#0002ff,#0000f8,#0000f1,#0001fd,#0004ff,#0017ff,#001bff,#0019ff,#0013ff,#0004ff,#0004ff,#0005ff,#0005ff,#0004ff,#0005fe,#000bff,#0011ff,#0010ff,#000bff,#000eff,#000eff,#0010ff,#0013ff,#0017ff,#000fff,#0007ff,#0008ff,#000dff,#0019ff,#001aff,#0018ff,#001cff,#0022ff,#002dff,#0031ff,#0030ff,#0031ff,#002eff,#0035ff,#003aff,#002cff,#0025ff,#0029ff,#0029ff,#0024ff,#0019ff,#000eff,#0014ff,#0018ff,#0026ff,#0025ff,#0015ff,#001bff,#0029ff,#002bff)"></i>
<i style="background:linear-gradient(90deg,#00b5ff,#009cff,#0070ff,#007dff,#0099ff,#00b8ff,#00d4ff,#00d2ff,#00e2ff,#00eeff,#00daff,#00c0ff,#00b3ff,#0094ff,#0062ff,#0054ff,#0046ff,#0039ff,#002cff,#0024ff,#001cff,#0015ff,#0010ff,#000bff,#0011ff,#0013ff,#001aff,#001dff,#002bff,#001eff,#0002ff,#0003ff,#0009ff,#0019ff,#001dff,#0010ff,#0013ff,#001cff,#0018ff,#001aff,#001dff,#001eff,#0017ff,#001cff,#002cff,#0025ff,#0012ff,#000aff,#0007ff,#0005ff,#0008ff,#000fff,#000fff,#0010ff,#0000f9,#0000f3,#000bff,#0010ff,#0024ff,#003aff,#0065ff,#0071ff,#0071ff,#005bff,#0033ff,#000bff,#000cff,#0012ff,#0026ff,#0028ff,#000aff,#0009ff,#0025ff,#0030ff,#0053ff,#0066ff,#00adff,#1bffe4,#a9ff56,#e2ff1e,#ff9e00,#ff5000,#ff9500,#ffd800,#9dff62,#4dffb3,#00f0ff,#00a2ff,#0041ff,#002aff,#001dff,#001dff,#001cff,#001cff,#0022ff,#0026ff,#001bff,#0010ff,#0000fe,#0000fb,#0010ff,#0010ff,#0009ff,#0007ff,#0003ff,#0017ff,#0026ff,#0019ff,#0009ff,#0000fa,#0000f2,#0000ec,#0000f3,#0000f5,#0011ff,#0018ff,#0022ff,#001aff,#0008ff,#000aff,#000dff,#000cff,#000eff,#0015ff,#0009ff,#0000f4,#0009ff,#0012ff,#0011ff,#0010ff,#0018ff,#001aff,#0018ff,#000fff,#0003ff,#0008ff,#000bff,#0004ff,#000aff,#0018ff,#001cff,#0020ff,#002bff,#002dff,#001cff,#001bff,#001bff,#0028ff,#003bff,#002aff,#0023ff,#0032ff,#0033ff,#0028ff,#0018ff,#000bff,#0024ff,#002fff,#0035ff,#0032ff,#001cff,#0015ff,#0007ff,#000eff)"></i>
<i style="background:linear-gradient(90deg,#0093ff,#0090ff,#0081ff,#007aff,#008bff,#00b4ff,#00deff,#00edff,#00e4ff,#00dcff,#00c5ff,#00abff,#009fff,#0086ff,#0067ff,#0058ff,#0048ff,#0035ff,#0027ff,#0028ff,#0025ff,#001eff,#0016ff,#0011ff,#0015ff,#0015ff,#0014ff,#0015ff,#0026ff,#001fff,#000dff,#0013ff,#001bff,#0020ff,#001bff,#0007ff,#000dff,#0018ff,#001bff,#0020ff,#0025ff,#0025ff,#0018ff,#001dff,#002fff,#0029ff,#0017ff,#000eff,#000bff,#0009ff,#000cff,#0013ff,#0016ff,#0019ff,#0009ff,#0006fd,#000bff,#000fff,#0024ff,#0035ff,#0050ff,#0057ff,#005eff,#0052ff,#0039ff,#001bff,#0012ff,#0011ff,#0026ff,#002bff,#0014ff,#0013ff,#0028ff,#002fff,#004cff,#0067ff,#00b3ff,#0cfff3,#89ff77,#ccff34,#ff9400,#ff4000,#ff8c00,#ffd600,#9dff63,#4affb6,#00dcff,#0096ff,#0045ff,#002cff,#001fff,#001cff,#001aff,#0018ff,#001dff,#0023ff,#001aff,#0010ff,#0004ff,#0003fe,#0012ff,#0014ff,#0014ff,#0015ff,#0015ff,#0021ff,#0029ff,#001bff,#000bff,#0000fc,#0000f6,#0000f3,#0000f7,#0000f9,#0015ff,#001aff,#000fff,#000eff,#000dff,#0009ff,#0005ff,#000bff,#0012ff,#001cff,#000eff,#0000f8,#0003ff,#0006ff,#0014ff,#0017ff,#001fff,#0020ff,#001cff,#0018ff,#0010ff,#000cff,#0009ff,#000bff,#0013ff,#0020ff,#001fff,#001fff,#0024ff,#0026ff,#0020ff,#0020ff,#001fff,#0025ff,#002dff,#0028ff,#0028ff,#0031ff,#0031ff,#0028ff,#0021ff,#001cff,#002dff,#0035ff,#0037ff,#0033ff,#001eff,#001bff,#0015ff,#0018ff)"></i>
<i style="background:linear-gradient(90deg,#0052ff,#007aff,#00a4ff,#0078ff,#0075ff,#00b1ff,#00f0ff,#16ffea,#00e3ff,#00bbff,#00a3ff,#008bff,#007fff,#006eff,#006dff,#005dff,#004aff,#002fff,#001fff,#002fff,#0034ff,#002dff,#0025ff,#0020ff,#001fff,#001dff,#000eff,#000eff,#0023ff,#0024ff,#0025ff,#0031ff,#003bff,#002dff,#001aff,#0000fa,#0001fe,#000dff,#001dff,#002aff,#002fff,#002eff,#0016ff,#001cff,#0032ff,#002dff,#001bff,#0014ff,#0011ff,#000fff,#0012ff,#001bff,#0022ff,#0028ff,#0021ff,#001eff,#0008ff,#000aff,#001bff,#0025ff,#002aff,#0032ff,#0044ff,#0043ff,#003dff,#002dff,#001aff,#0011ff,#0027ff,#002dff,#0023ff,#0022ff,#002aff,#002dff,#003dff,#0067ff,#00c5ff,#00fcff,#61ff9f,#b0ff50,#ff8e00,#ff3b00,#ff8a00,#ffd600,#9eff61,#49ffb7,#00c1ff,#0085ff,#004eff,#0033ff,#0023ff,#001dff,#0018ff,#0011ff,#0016ff,#001eff,#0019ff,#0013ff,#000fff,#000eff,#0016ff,#001bff,#0026ff,#002aff,#002fff,#002cff,#0028ff,#001aff,#000aff,#0000fd,#0000fc,#0000fe,#0001ff,#0003ff,#001cff,#001cff,#0000ed,#0000f8,#0013ff,#0003ff,#0000f4,#0006ff,#0013ff,#0020ff,#0015ff,#0002ff,#0000f7,#0000f0,#0019ff,#0021ff,#0026ff,#0027ff,#0021ff,#0025ff,#0026ff,#0011ff,#000aff,#001cff,#0025ff,#002cff,#0026ff,#0021ff,#001fff,#001fff,#002cff,#002fff,#002fff,#0027ff,#0017ff,#0026ff,#0031ff,#002eff,#002cff,#0026ff,#002eff,#0037ff,#0038ff,#0039ff,#0035ff,#0031ff,#001fff,#0024ff,#002fff,#002bff)"></i>
<i style="background:linear-gradient(90deg,#004eff,#007aff,#00abff,#0083ff,#0082ff,#00baff,#00f8ff,#1bffe4,#00ecff,#00c6ff,#00a5ff,#008cff,#007cff,#006bff,#0066ff,#0055ff,#0042ff,#002bff,#001fff,#002dff,#0031ff,#002bff,#0024ff,#0020ff,#001fff,#001eff,#0016ff,#0015ff,#001cff,#001fff,#0027ff,#002dff,#0033ff,#002cff,#001dff,#0002fd,#0005ff,#0010ff,#0021ff,#002fff,#0034ff,#0033ff,#0017ff,#001eff,#0035ff,#002fff,#001dff,#0017ff,#0014ff,#0011ff,#0014ff,#001cff,#0021ff,#0027ff,#0022ff,#0021ff,#0012ff,#0013ff,#0017ff,#0022ff,#0027ff,#0028ff,#0038ff,#0041ff,#0040ff,#0031ff,#001dff,#0016ff,#0024ff,#0027ff,#0021ff,#001fff,#0020ff,#0025ff,#003cff,#0069ff,#00c9ff,#00fbff,#5effa2,#b5ff4a,#ff6400,#fd0a00,#ff6d00,#ffc600,#a2ff5d,#4bffb5,#00c5ff,#0088ff,#004dff,#0031ff,#001fff,#0019ff,#0016ff,#0016ff,#0017ff,#0018ff,#0018ff,#0016ff,#0012ff,#0011ff,#0016ff,#001aff,#0021ff,#0024ff,#0029ff,#0029ff,#0026ff,#0017ff,#0008ff,#0003ff,#0003ff,#0004ff,#0006ff,#0007ff,#001dff,#001cff,#0000ed,#0000f7,#0012ff,#0005ff,#0000fa,#0005ff,#0010ff,#0022ff,#0017ff,#0005ff,#0000fa,#0000f4,#0014ff,#001cff,#0024ff,#0024ff,#001dff,#0023ff,#0024ff,#000fff,#0008ff,#001eff,#0024ff,#0023ff,#0022ff,#0020ff,#001dff,#001dff,#002bff,#002dff,#0029ff,#0024ff,#001aff,#0027ff,#0032ff,#002cff,#002aff,#0028ff,#002fff,#0037ff,#0039ff,#0039ff,#0031ff,#002eff,#0024ff,#0029ff,#0033ff,#002eff)"></i>
<i style="background:linear-gradient(90deg,#005fff,#0086ff,#00b1ff,#00a5ff,#00b3ff,#00d7ff,#05fffa,#19ffe7,#05fffb,#00f1ff,#00beff,#009eff,#0088ff,#0070ff,#0054ff,#0042ff,#002eff,#0027ff,#0023ff,#0025ff,#0024ff,#001eff,#001aff,#0019ff,#001bff,#001dff,#002dff,#002bff,#000dff,#0012ff,#0020ff,#0016ff,#000fff,#0025ff,#0027ff,#0012ff,#0013ff,#0019ff,#0027ff,#0034ff,#003aff,#0038ff,#0018ff,#001fff,#0038ff,#0031ff,#001dff,#001bff,#0019ff,#0014ff,#0015ff,#001aff,#001bff,#001dff,#001cff,#001dff,#002dff,#002cff,#000dff,#001cff,#002dff,#001dff,#0022ff,#003fff,#003fff,#002cff,#0021ff,#001fff,#001bff,#0017ff,#0012ff,#000fff,#0006ff,#0013ff,#0040ff,#006dff,#00cdff,#07fff9,#6fff91,#caff36,#ff4b00,#f20000,#ff5000,#ffa200,#b4ff4c,#5bffa5,#00e2ff,#009aff,#004aff,#002cff,#0017ff,#0010ff,#0011ff,#0025ff,#0020ff,#000bff,#0016ff,#001eff,#0016ff,#0014ff,#0015ff,#0015ff,#000aff,#000bff,#000cff,#0019ff,#0020ff,#000cff,#0004ff,#000eff,#000fff,#000eff,#000fff,#0010ff,#001aff,#0019ff,#0000fa,#0000fe,#000aff,#000eff,#0010ff,#0004ff,#0007ff,#0022ff,#001aff,#0008ff,#000aff,#000bff,#0008ff,#000aff,#001bff,#001bff,#0012ff,#0016ff,#0016ff,#0007ff,#0004ff,#001dff,#0018ff,#0006fe,#0013ff,#001eff,#001bff,#001bff,#0022ff,#0020ff,#0012ff,#001bff,#0029ff,#002cff,#002dff,#0027ff,#0028ff,#002aff,#0029ff,#002aff,#0033ff,#0036ff,#0025ff,#0023ff,#0030ff,#0031ff,#0033ff,#002eff)"></i>
<i style="background:linear-gradient(90deg,#006eff,#0092ff,#00baff,#00b7ff,#00c9ff,#00e4ff,#09fff6,#13ffec,#0afff6,#00ffff,#00cbff,#00a9ff,#008cff,#0073ff,#0053ff,#0042ff,#002fff,#002bff,#0028ff,#0023ff,#001fff,#001dff,#0017ff,#0015ff,#0016ff,#0018ff,#0030ff,#002eff,#0009ff,#000fff,#001eff,#0010ff,#0006ff,#0020ff,#0027ff,#0017ff,#0014ff,#0017ff,#0021ff,#002cff,#0032ff,#0032ff,#0015ff,#001bff,#0031ff,#002aff,#0018ff,#0017ff,#0017ff,#0015ff,#0016ff,#001bff,#0019ff,#001bff,#0021ff,#0024ff,#0038ff,#0036ff,#0016ff,#0024ff,#0032ff,#001fff,#001fff,#003eff,#003bff,#0027ff,#0022ff,#0023ff,#001dff,#0017ff,#000eff,#000aff,#0002fe,#0011ff,#0043ff,#0072ff,#00d5ff,#13ffed,#7dff82,#d4ff2b,#ff5c00,#ff1100,#ff5c00,#ffa200,#c0ff3f,#69ff96,#00f3ff,#00a4ff,#0049ff,#002dff,#0019ff,#000dff,#000dff,#0027ff,#0024ff,#000dff,#0018ff,#001fff,#0017ff,#0014ff,#0013ff,#0012ff,#0008ff,#0004ff,#0001fd,#0010ff,#0019ff,#0006ff,#0002ff,#0010ff,#0013ff,#0014ff,#0013ff,#0013ff,#0018ff,#0017ff,#0001fe,#0001ff,#0006ff,#000fff,#0017ff,#0005ff,#0004ff,#001dff,#0016ff,#0007ff,#000dff,#0011ff,#000cff,#000dff,#001fff,#001dff,#0013ff,#0014ff,#000fff,#0004ff,#0003ff,#001bff,#0015ff,#0001fd,#000fff,#001cff,#0017ff,#0015ff,#001bff,#0018ff,#000aff,#0014ff,#0028ff,#0029ff,#0029ff,#0022ff,#0026ff,#002dff,#002aff,#0027ff,#002eff,#0030ff,#0025ff,#0026ff,#0035ff,#0037ff,#0039ff,#0035ff)"></i>
<i style="background:linear-gradient(90deg,#0089ff,#00aaff,#00cdff,#00c5ff,#00d1ff,#00e3ff,#00fbff,#00f3ff,#00f9ff,#00fcff,#00d3ff,#00b1ff,#0083ff,#006bff,#0057ff,#004dff,#0044ff,#0037ff,#002cff,#0020ff,#001eff,#0024ff,#0018ff,#000cff,#0006ff,#0006ff,#0021ff,#0021ff,#000cff,#0012ff,#0022ff,#0019ff,#0012ff,#0015ff,#0017ff,#0018ff,#0017ff,#001bff,#0015ff,#0017ff,#001bff,#001cff,#0016ff,#0019ff,#001fff,#001aff,#000cff,#0007ff,#0008ff,#0013ff,#0019ff,#001fff,#0019ff,#0017ff,#002bff,#0033ff,#003bff,#003cff,#004aff,#004eff,#0039ff,#002dff,#0031ff,#0049ff,#003fff,#002aff,#0027ff,#0029ff,#002eff,#002bff,#0010ff,#000cff,#0013ff,#001cff,#003eff,#0070ff,#00d7ff,#1affe6,#87ff79,#d5ff2b,#ff8600,#ff4600,#ff9600,#ffdb00,#c5ff3b,#77ff88,#02fefd,#00a9ff,#003eff,#0030ff,#0028ff,#000aff,#0002fe,#001bff,#0027ff,#0025ff,#001fff,#0018ff,#0013ff,#0012ff,#000eff,#0011ff,#001eff,#000bff,#0000eb,#0001fb,#0008ff,#0000f8,#0000f8,#000bff,#0014ff,#001aff,#001aff,#001aff,#0017ff,#0016ff,#000aff,#0008ff,#0001ff,#000fff,#001cff,#0011ff,#000bff,#0009ff,#0005ff,#0001fe,#0008ff,#000dff,#001fff,#0026ff,#002dff,#002cff,#002aff,#001fff,#000aff,#0005ff,#0007ff,#001dff,#001bff,#000eff,#0017ff,#001eff,#000aff,#0005ff,#0010ff,#0010ff,#000fff,#0012ff,#0019ff,#001bff,#001aff,#0012ff,#001eff,#0038ff,#0033ff,#002aff,#0020ff,#001dff,#0033ff,#0037ff,#0034ff,#0038ff,#0041ff,#0040ff)"></i>
<i style="background:linear-gradient(90deg,#0097ff,#00b5ff,#00d5ff,#00cbff,#00d7ff,#00e8ff,#02fbfe,#00eeff,#00f5ff,#00fcff,#00d8ff,#00b8ff,#0082ff,#006aff,#005aff,#0051ff,#004cff,#003cff,#002dff,#001eff,#001cff,#0026ff,#0019ff,#000bff,#0002ff,#0000fe,#0019ff,#001bff,#000fff,#0015ff,#0024ff,#001dff,#0018ff,#0011ff,#0012ff,#0018ff,#0019ff,#001cff,#0010ff,#0010ff,#0012ff,#0013ff,#0018ff,#0018ff,#0018ff,#0014ff,#0009ff,#0002ff,#0002ff,#0012ff,#001aff,#0022ff,#001aff,#0016ff,#002fff,#0037ff,#003bff,#0040ff,#0065ff,#0064ff,#0040ff,#0039ff,#003cff,#004aff,#003dff,#002bff,#0029ff,#002dff,#0035ff,#0032ff,#0013ff,#000eff,#001cff,#0023ff,#003dff,#0072ff,#00dcff,#20ffe0,#8cff73,#d2ff2e,#ffb300,#ff8200,#ffbe00,#fff800,#c1ff3e,#79ff87,#08fff8,#00acff,#003bff,#0031ff,#002eff,#000aff,#0000fc,#0016ff,#0027ff,#0031ff,#0023ff,#0015ff,#0013ff,#0012ff,#000bff,#0011ff,#0027ff,#0010ff,#0000e6,#0000f5,#0000ff,#0000f3,#0000f4,#0008ff,#0014ff,#001eff,#001dff,#001cff,#0017ff,#0016ff,#0010ff,#000cff,#0002ff,#0010ff,#001eff,#0017ff,#000eff,#0001ff,#0000fe,#0000fd,#0004ff,#000aff,#0027ff,#0030ff,#0033ff,#0032ff,#0033ff,#0023ff,#0008ff,#0007ff,#000aff,#001cff,#001dff,#0015ff,#001cff,#0020ff,#0005ff,#0000fc,#000bff,#000dff,#0011ff,#0011ff,#0012ff,#0015ff,#0014ff,#000cff,#001cff,#003cff,#0035ff,#002aff,#001bff,#0016ff,#0038ff,#003eff,#0034ff,#003aff,#0046ff,#0045ff)"></i>
<i style="background:linear-gradient(90deg,#009cff,#00b5ff,#00d0ff,#00d0ff,#00e5ff,#04fcfb,#22ffdd,#21ffdf,#0dfff2,#02fffe,#00eaff,#00cdff,#009aff,#007dff,#005bff,#004dff,#003fff,#0033ff,#0027ff,#001bff,#0017ff,#0018ff,#001cff,#0021ff,#0013ff,#000dff,#0014ff,#0017ff,#0022ff,#0023ff,#0027ff,#0020ff,#001aff,#001dff,#001dff,#0018ff,#0014ff,#0015ff,#0019ff,#0021ff,#0023ff,#0023ff,#001aff,#001cff,#0022ff,#0021ff,#001bff,#000eff,#0008ff,#000eff,#0018ff,#0028ff,#001cff,#0016ff,#001fff,#0023ff,#0032ff,#003bff,#0070ff,#0074ff,#0059ff,#005dff,#0058ff,#0026ff,#0017ff,#001eff,#0029ff,#0034ff,#0028ff,#001fff,#001dff,#001bff,#001eff,#0029ff,#004dff,#0088ff,#02f8fe,#2effd1,#90ff6f,#d4ff2b,#ffc900,#ffa400,#ffc300,#ffee00,#9dff63,#53ffad,#09fff6,#00b5ff,#004dff,#0036ff,#0025ff,#0016ff,#000fff,#0015ff,#0025ff,#0033ff,#0027ff,#001bff,#001bff,#001bff,#000bff,#000eff,#001cff,#0013ff,#0007fd,#0005ff,#0003ff,#0001fd,#0002fd,#000bff,#0016ff,#001fff,#001dff,#001bff,#001aff,#0019ff,#0012ff,#0011ff,#000fff,#0018ff,#0020ff,#0016ff,#000fff,#000bff,#000dff,#0010ff,#0005ff,#0002fe,#001fff,#0029ff,#002eff,#002dff,#002dff,#0022ff,#000eff,#0011ff,#0012ff,#0011ff,#0013ff,#0014ff,#0022ff,#002bff,#0009ff,#0001ff,#0010ff,#0012ff,#0013ff,#0013ff,#0017ff,#0017ff,#0018ff,#001dff,#0025ff,#002bff,#0026ff,#0020ff,#0026ff,#0028ff,#002dff,#0030ff,#0039ff,#003cff,#0042ff,#0042ff)"></i>
<i style="background:linear-gradient(90deg,#009dff,#00b2ff,#00cdff,#00d7ff,#00f4ff,#14ffec,#3bffc5,#42ffbe,#1affe5,#02fefe,#00f4ff,#00d9ff,#00a8ff,#0087ff,#005aff,#0047ff,#0033ff,#0029ff,#0022ff,#001aff,#0014ff,#000fff,#0020ff,#0033ff,#0020ff,#0019ff,#0013ff,#0016ff,#0032ff,#0031ff,#002dff,#0027ff,#0020ff,#0028ff,#0027ff,#0018ff,#0012ff,#0012ff,#0020ff,#002cff,#002cff,#002aff,#0018ff,#001aff,#0025ff,#0027ff,#0025ff,#0016ff,#000cff,#0009ff,#0016ff,#002bff,#001eff,#0015ff,#0011ff,#0011ff,#002aff,#0037ff,#0078ff,#0080ff,#006fff,#007dff,#0072ff,#000fff,#0000fa,#0014ff,#0025ff,#0033ff,#0017ff,#000bff,#0021ff,#0022ff,#001dff,#002cff,#0059ff,#0098ff,#0dfff2,#36ffc9,#90ff6f,#d7ff28,#ffc000,#ffa900,#ffc600,#ffeb00,#7cff84,#30ffd0,#04fffb,#00b6ff,#0058ff,#0037ff,#001cff,#001cff,#0019ff,#0011ff,#001dff,#002fff,#0026ff,#001dff,#0020ff,#0020ff,#000aff,#0009ff,#0010ff,#0013ff,#001aff,#0010ff,#0007ff,#0008ff,#000aff,#000fff,#0019ff,#0022ff,#001fff,#001eff,#001eff,#001cff,#0014ff,#0014ff,#0018ff,#001cff,#0020ff,#0014ff,#000fff,#0012ff,#0019ff,#001dff,#0007ff,#0000fb,#001bff,#0025ff,#002cff,#002bff,#0029ff,#0021ff,#0013ff,#0019ff,#0018ff,#000bff,#000eff,#0014ff,#0028ff,#0035ff,#0010ff,#0006ff,#0017ff,#0018ff,#0016ff,#0017ff,#001cff,#001bff,#001cff,#002bff,#002dff,#0020ff,#001dff,#001bff,#002eff,#0037ff,#0026ff,#0029ff,#003fff,#0040ff,#0041ff,#0041ff)"></i>
<i style="background:linear-gradient(90deg,#009aff,#00a9ff,#00beff,#00d1ff,#00efff,#04fafb,#20ffdf,#2bffd5,#04f8fc,#00deff,#00e0ff,#00caff,#0093ff,#0078ff,#0064ff,#0050ff,#0039ff,#002bff,#0023ff,#0026ff,#0025ff,#001eff,#0020ff,#0024ff,#0012ff,#000cff,#001eff,#0022ff,#002eff,#002bff,#0020ff,#0027ff,#002aff,#002cff,#0027ff,#0016ff,#0012ff,#0016ff,#0012ff,#0013ff,#001dff,#001eff,#0014ff,#0016ff,#001fff,#001eff,#001bff,#0012ff,#000dff,#000dff,#0011ff,#0018ff,#001bff,#0020ff,#0016ff,#0014ff,#002dff,#0037ff,#005eff,#0069ff,#0066ff,#007aff,#007bff,#0037ff,#001eff,#002aff,#0027ff,#0027ff,#0009ff,#0001fd,#0014ff,#0018ff,#0016ff,#0024ff,#004eff,#0085ff,#00edff,#2effd1,#93ff6c,#d9ff26,#ffab00,#ffb500,#ffdf00,#fefb01,#88ff78,#3bffc5,#00edff,#00a3ff,#0048ff,#002dff,#0015ff,#001aff,#0018ff,#000aff,#0010ff,#001dff,#0024ff,#0028ff,#001fff,#001cff,#0008ff,#0004ff,#0002fb,#0006ff,#0019ff,#000eff,#0006ff,#000dff,#000fff,#000eff,#0010ff,#0012ff,#0021ff,#0026ff,#001aff,#0017ff,#0017ff,#0016ff,#0014ff,#0010ff,#000eff,#000dff,#000eff,#000eff,#0017ff,#0021ff,#0014ff,#000eff,#001eff,#0026ff,#0036ff,#0032ff,#0028ff,#0023ff,#0018ff,#0013ff,#0010ff,#0010ff,#0011ff,#000eff,#0022ff,#002fff,#0014ff,#000cff,#001dff,#001cff,#0018ff,#001aff,#0020ff,#0021ff,#0022ff,#002aff,#002eff,#0028ff,#0021ff,#001bff,#0025ff,#002aff,#0035ff,#003aff,#0043ff,#0041ff,#0039ff,#003eff)"></i>
<i style="background:linear-gradient(90deg,#009aff,#00a1ff,#00aeff,#00c8ff,#00e5ff,#00e2ff,#01fcfe,#0dfff2,#00dbff,#00bbff,#00ccff,#00baff,#007eff,#006aff,#0072ff,#005cff,#0043ff,#002fff,#0026ff,#0034ff,#0038ff,#002fff,#001fff,#0013ff,#0001ff,#0000fa,#0029ff,#002eff,#0028ff,#0021ff,#000fff,#0023ff,#0031ff,#002fff,#0025ff,#0014ff,#0012ff,#001aff,#0002ff,#0000f6,#000dff,#0012ff,#0013ff,#0014ff,#001bff,#0018ff,#0013ff,#0010ff,#000fff,#0013ff,#000eff,#0005ff,#0019ff,#002cff,#001eff,#001aff,#0032ff,#0038ff,#0040ff,#004dff,#0057ff,#0072ff,#0080ff,#0062ff,#0046ff,#0044ff,#002cff,#001fff,#0001ff,#0000f6,#000aff,#000dff,#0011ff,#001dff,#0042ff,#006fff,#00c9ff,#27ffd9,#9aff66,#d9ff26,#ffac00,#ffd000,#fff600,#f4ff0c,#9bff65,#4dffb2,#00d8ff,#008fff,#0038ff,#0021ff,#0010ff,#0019ff,#0019ff,#0005ff,#0006ff,#000dff,#0024ff,#0035ff,#001fff,#0017ff,#0008ff,#0000ff,#0000eb,#0000f9,#0016ff,#000cff,#0004ff,#0011ff,#0013ff,#000bff,#0004ff,#0000fd,#0021ff,#002eff,#0014ff,#0010ff,#001bff,#0018ff,#0011ff,#0003ff,#0000fa,#0005ff,#000bff,#0008ff,#0015ff,#0024ff,#0021ff,#0021ff,#0021ff,#0026ff,#0040ff,#0039ff,#0026ff,#0024ff,#001dff,#000dff,#0006ff,#0014ff,#0013ff,#0007ff,#001aff,#0027ff,#0016ff,#0012ff,#0021ff,#001fff,#0018ff,#001cff,#0023ff,#0027ff,#0028ff,#0028ff,#002dff,#002fff,#0025ff,#001bff,#0018ff,#0019ff,#0045ff,#004dff,#0047ff,#003fff,#002eff,#0039ff)"></i>
<i style="background:linear-gradient(90deg,#0098ff,#00a2ff,#00b2ff,#00ceff,#00e9ff,#00deff,#00f6ff,#09fff6,#00e3ff,#00caff,#00ceff,#00b9ff,#007eff,#0066ff,#0061ff,#004eff,#0038ff,#002eff,#002aff,#002eff,#0032ff,#0030ff,#0024ff,#0019ff,#000bff,#0006ff,#0027ff,#002bff,#0027ff,#0022ff,#0013ff,#0024ff,#002fff,#0031ff,#0028ff,#0011ff,#000eff,#0014ff,#0002ff,#0000f9,#0016ff,#001bff,#000cff,#000dff,#0017ff,#0016ff,#0015ff,#000eff,#000bff,#0010ff,#000cff,#0003ff,#0011ff,#001eff,#001dff,#001eff,#0032ff,#0038ff,#003cff,#004dff,#005fff,#0077ff,#0084ff,#006fff,#0044ff,#002dff,#001fff,#001aff,#0000fe,#0000f5,#0001fb,#0003fc,#000bff,#001cff,#004bff,#0079ff,#00d3ff,#21ffde,#92ff6d,#e8ff18,#ffbb00,#ffd800,#fff500,#efff10,#93ff6c,#47ffb9,#00d8ff,#0091ff,#003bff,#0028ff,#0019ff,#0018ff,#0016ff,#0009ff,#0009ff,#000bff,#0018ff,#0022ff,#001bff,#0017ff,#0005ff,#0000fe,#0000f3,#0000fd,#0014ff,#000cff,#0006ff,#0015ff,#0015ff,#0008ff,#0009ff,#000bff,#001bff,#0021ff,#0016ff,#0014ff,#001dff,#0016ff,#0007ff,#0000fd,#0000f9,#0008ff,#000fff,#000bff,#0014ff,#0020ff,#0019ff,#0016ff,#0018ff,#001eff,#003aff,#0035ff,#002aff,#0024ff,#0017ff,#0009ff,#0005ff,#0013ff,#0017ff,#0010ff,#001eff,#0027ff,#0018ff,#0014ff,#0017ff,#0018ff,#0022ff,#0021ff,#0020ff,#0028ff,#002bff,#0021ff,#0026ff,#0030ff,#0029ff,#0020ff,#001cff,#001cff,#0045ff,#004dff,#004bff,#0043ff,#0031ff,#003aff)"></i>
<i style="background:linear-gradient(90deg,#0095ff,#00a3ff,#00baff,#00d7ff,#00f0ff,#00ddff,#00f8ff,#11ffef,#00fbff,#00e9ff,#00d7ff,#00bcff,#0082ff,#0064ff,#0044ff,#0035ff,#0025ff,#002dff,#0032ff,#0024ff,#0026ff,#002fff,#002cff,#0029ff,#0020ff,#001cff,#0023ff,#0024ff,#0025ff,#0022ff,#001aff,#0022ff,#0028ff,#0032ff,#002aff,#000cff,#0006ff,#000aff,#0003ff,#0002ff,#0027ff,#002cff,#0001fe,#0002ff,#0011ff,#0016ff,#001dff,#000fff,#0007ff,#000eff,#000cff,#0005ff,#0005ff,#0007ff,#001cff,#0024ff,#0035ff,#003bff,#0040ff,#0056ff,#0073ff,#0085ff,#008eff,#007dff,#0038ff,#0004fb,#0007ff,#0014ff,#0000fc,#0000f4,#0000e8,#0000eb,#0003ff,#001bff,#005eff,#008eff,#00e8ff,#18ffe8,#83ff7d,#fffc00,#ffbc00,#ffd400,#fff400,#e6ff1a,#84ff7b,#3bffc5,#00deff,#0099ff,#0047ff,#0037ff,#0029ff,#0018ff,#0010ff,#0012ff,#0012ff,#000cff,#0005ff,#0003fc,#0013ff,#0018ff,#0001ff,#0000fd,#0004ff,#0007ff,#000fff,#000aff,#0008ff,#0019ff,#0016ff,#0001ff,#0011ff,#0023ff,#000fff,#0007ff,#0017ff,#0019ff,#001dff,#0012ff,#0000f8,#0000f6,#0000fa,#000dff,#0016ff,#0010ff,#0013ff,#0017ff,#0008ff,#0002fd,#0008ff,#000fff,#002cff,#002dff,#0031ff,#0023ff,#000dff,#0006ff,#0005ff,#0012ff,#001cff,#0021ff,#0027ff,#0029ff,#001cff,#0018ff,#0007ff,#000dff,#0034ff,#002bff,#001bff,#0029ff,#002fff,#0014ff,#0019ff,#0031ff,#002eff,#0027ff,#0022ff,#0021ff,#0042ff,#004aff,#004fff,#0048ff,#0038ff,#003eff)"></i>
<i style="background:linear-gradient(90deg,#008fff,#009eff,#00b7ff,#00d6ff,#00f0ff,#00deff,#02fefd,#20ffe0,#0ffff1,#02fafe,#00daff,#00bbff,#0081ff,#0062ff,#003bff,#0030ff,#0027ff,#002cff,#0030ff,#0025ff,#0025ff,#002bff,#002bff,#002bff,#0025ff,#0020ff,#0020ff,#001fff,#0021ff,#001eff,#0018ff,#001fff,#0023ff,#0028ff,#0021ff,#000cff,#0008ff,#000aff,#0005ff,#0004ff,#0022ff,#0025ff,#0008ff,#0009ff,#0013ff,#0017ff,#001eff,#0015ff,#0010ff,#0014ff,#0010ff,#000aff,#0007ff,#0007ff,#0021ff,#002bff,#0038ff,#0040ff,#004cff,#0066ff,#0088ff,#0088ff,#0081ff,#006aff,#0026ff,#0000f9,#0006ff,#0014ff,#0002fe,#0000fa,#0000f0,#0000f2,#0001fd,#0019ff,#0062ff,#0094ff,#00efff,#20ffe0,#85ff7b,#f0ff0f,#ffdc00,#ffe600,#fffb00,#e6ff1a,#93ff6c,#4bffb4,#00e2ff,#009bff,#0048ff,#0038ff,#0029ff,#0018ff,#0010ff,#0013ff,#0016ff,#0014ff,#0008ff,#0001fd,#000eff,#0012ff,#0000ff,#0000fe,#000aff,#0008ff,#0009ff,#0005ff,#0003ff,#0011ff,#0011ff,#0004ff,#0010ff,#001dff,#0006ff,#0000fd,#0012ff,#0016ff,#0018ff,#000eff,#0000f4,#0000f7,#0002fe,#000eff,#0014ff,#000aff,#000cff,#0010ff,#0007ff,#0003fe,#000aff,#000fff,#0024ff,#0025ff,#0029ff,#001fff,#000eff,#0005ff,#0003ff,#0014ff,#001fff,#0023ff,#0027ff,#0027ff,#001cff,#0018ff,#000eff,#0013ff,#002dff,#0026ff,#0019ff,#0027ff,#002dff,#0014ff,#001bff,#0034ff,#0031ff,#002aff,#0023ff,#0022ff,#0040ff,#0048ff,#004aff,#0046ff,#003cff,#003fff)"></i>
<i style="background:linear-gradient(90deg,#0083ff,#0093ff,#00aeff,#00d1ff,#00eeff,#00e1ff,#0efff2,#39ffc7,#2affd5,#17ffe9,#00dcff,#00b7ff,#0077ff,#0057ff,#0029ff,#0029ff,#0030ff,#0027ff,#0024ff,#0029ff,#0028ff,#001fff,#0023ff,#0029ff,#0025ff,#0021ff,#001bff,#0019ff,#001cff,#001cff,#001bff,#0021ff,#0022ff,#0014ff,#000fff,#0015ff,#0012ff,#000eff,#0008ff,#0007ff,#000bff,#000dff,#0021ff,#0020ff,#0017ff,#0014ff,#0015ff,#001aff,#001dff,#001bff,#0015ff,#000fff,#000bff,#000aff,#0026ff,#0031ff,#0037ff,#003fff,#0057ff,#0078ff,#00a5ff,#007aff,#004eff,#0034ff,#000bff,#0009ff,#000fff,#0016ff,#000dff,#000aff,#000cff,#000aff,#0000f2,#0010ff,#0063ff,#0097ff,#00f6ff,#3bffc5,#97ff68,#beff41,#f5ff0b,#fff100,#fff300,#fbff05,#c1ff3f,#75ff8b,#00e2ff,#0098ff,#003fff,#0030ff,#0020ff,#0017ff,#0013ff,#0013ff,#001dff,#0029ff,#0018ff,#000bff,#0005ff,#0003ff,#0002ff,#0003ff,#0011ff,#000aff,#0001fe,#0000fd,#0000fc,#0002fe,#000bff,#0017ff,#0013ff,#000dff,#0000fd,#0000fa,#000dff,#0011ff,#0010ff,#0007ff,#0000f3,#0001fe,#000dff,#000eff,#000aff,#0000f5,#0000fa,#0003ff,#000eff,#0015ff,#001cff,#001eff,#001bff,#0018ff,#0011ff,#0015ff,#0016ff,#0003ff,#0000fd,#0016ff,#001fff,#001eff,#0022ff,#0022ff,#0019ff,#0017ff,#0027ff,#0024ff,#000cff,#0011ff,#0017ff,#0021ff,#0028ff,#001bff,#0025ff,#003dff,#0039ff,#0032ff,#0027ff,#0024ff,#0041ff,#0046ff,#003cff,#003fff,#0046ff,#0045ff)"></i>
<i style="background:linear-gradient(90deg,#0081ff,#0091ff,#00aaff,#00cdff,#00ebff,#00e7ff,#15ffea,#41ffbf,#2dffd3,#16ffea,#00ddff,#00b8ff,#006fff,#0050ff,#0026ff,#0028ff,#0034ff,#002aff,#0025ff,#002bff,#002aff,#001eff,#0022ff,#0028ff,#0026ff,#0023ff,#0018ff,#0015ff,#001bff,#001bff,#001aff,#001fff,#001fff,#000eff,#000bff,#0017ff,#0014ff,#000dff,#0009ff,#0009ff,#0005ff,#0007ff,#0029ff,#0027ff,#001aff,#0014ff,#0013ff,#001eff,#0023ff,#0021ff,#001aff,#0013ff,#000eff,#000dff,#0028ff,#0032ff,#0037ff,#0041ff,#005fff,#0080ff,#00a7ff,#0079ff,#004eff,#003aff,#0011ff,#0015ff,#0015ff,#0017ff,#000fff,#000cff,#0013ff,#0012ff,#0000f7,#0014ff,#0065ff,#009aff,#00fbff,#43ffbd,#9dff62,#b9ff46,#edff12,#fff800,#fff600,#f9ff06,#c3ff3c,#78ff88,#00dfff,#0097ff,#0045ff,#0030ff,#001bff,#0016ff,#0013ff,#0012ff,#001cff,#0029ff,#001bff,#000fff,#0003ff,#0000fe,#0004ff,#0007ff,#0016ff,#000eff,#0000fe,#0001fd,#0000fd,#0000fd,#0009ff,#001cff,#0012ff,#0004ff,#0000fb,#0000fa,#000bff,#000eff,#0011ff,#0008ff,#0000f4,#0001ff,#000fff,#000dff,#0006ff,#0000f1,#0000f7,#0003ff,#0013ff,#001dff,#0020ff,#0021ff,#001aff,#0016ff,#000bff,#0014ff,#001aff,#0006ff,#0002fd,#0015ff,#001dff,#001cff,#0021ff,#0023ff,#0017ff,#0015ff,#002cff,#0028ff,#0006ff,#000dff,#0015ff,#001fff,#0027ff,#001fff,#002aff,#003fff,#0038ff,#002eff,#002aff,#0029ff,#003fff,#0043ff,#003aff,#003eff,#0047ff,#0045ff)"></i>
<i style="background:linear-gradient(90deg,#0087ff,#0092ff,#00a6ff,#00beff,#00dfff,#03fcfc,#2cffd4,#49ffb7,#1affe6,#00efff,#00ddff,#00c1ff,#0059ff,#003fff,#0031ff,#0033ff,#003eff,#003dff,#003bff,#0031ff,#002dff,#002bff,#0029ff,#0027ff,#002aff,#0029ff,#000eff,#000bff,#001cff,#0019ff,#0011ff,#0013ff,#0013ff,#000fff,#000eff,#0011ff,#000bff,#0005ff,#0007ff,#000bff,#0009ff,#000cff,#002dff,#002cff,#0022ff,#001cff,#0019ff,#002bff,#0035ff,#0032ff,#0029ff,#0021ff,#001aff,#0017ff,#002bff,#0033ff,#003fff,#004dff,#007cff,#008dff,#008bff,#007cff,#007bff,#008cff,#0050ff,#0033ff,#001fff,#0017ff,#0007ff,#0002ff,#0015ff,#0019ff,#001dff,#0031ff,#006bff,#00a0ff,#03fffd,#3dffc3,#9bff64,#dfff21,#fcfe03,#edff13,#e7ff18,#d7ff29,#98ff67,#50ffaf,#00d1ff,#009aff,#006dff,#003eff,#000eff,#0012ff,#0012ff,#000aff,#000cff,#0010ff,#0013ff,#0015ff,#0004ff,#0000fd,#000bff,#0010ff,#0028ff,#001cff,#0008ff,#000bff,#000bff,#0002ff,#0005ff,#0014ff,#0005ff,#0000f3,#0000f9,#0000fe,#0003ff,#0008ff,#001eff,#0015ff,#0001fe,#0003ff,#0006ff,#0006ff,#0003ff,#0000f8,#0003ff,#0013ff,#001eff,#0025ff,#0019ff,#0018ff,#0020ff,#001dff,#0011ff,#0017ff,#001dff,#0017ff,#0011ff,#000dff,#0011ff,#0017ff,#0025ff,#002dff,#0011ff,#000aff,#0024ff,#0026ff,#0019ff,#0019ff,#0015ff,#001dff,#0025ff,#0026ff,#0030ff,#003bff,#0028ff,#0014ff,#0032ff,#0040ff,#0035ff,#0037ff,#0043ff,#0043ff,#0041ff,#0040ff)"></i>
<i style="background:linear-gradient(90deg,#008bff,#0094ff,#00a7ff,#00bdff,#00e0ff,#0efff1,#31ffce,#43ffbc,#0afff6,#00d9ff,#00d9ff,#00c0ff,#004eff,#0038ff,#0038ff,#0039ff,#0044ff,#0048ff,#0047ff,#0034ff,#002dff,#0030ff,#0029ff,#0022ff,#0028ff,#0028ff,#0007ff,#0004ff,#0019ff,#0014ff,#0009ff,#000bff,#000dff,#000fff,#0010ff,#000eff,#0007ff,#0000ff,#0008ff,#0011ff,#000eff,#0011ff,#0032ff,#0032ff,#0029ff,#0023ff,#0021ff,#0035ff,#0040ff,#003aff,#0032ff,#002aff,#0023ff,#001eff,#002bff,#0032ff,#0042ff,#0051ff,#0085ff,#0091ff,#007fff,#0081ff,#0098ff,#00b8ff,#0070ff,#0041ff,#0026ff,#001aff,#000aff,#0005ff,#0018ff,#0020ff,#0031ff,#0040ff,#006cff,#00a1ff,#03fefc,#36ffc9,#95ff6b,#ecff13,#fffb00,#e1ff1e,#dfff20,#cfff30,#83ff7c,#3cffc3,#00c8ff,#009bff,#007fff,#0046ff,#000cff,#0015ff,#0017ff,#000bff,#0008ff,#0008ff,#0012ff,#001aff,#0008ff,#0003ff,#0012ff,#0018ff,#0032ff,#0024ff,#000dff,#0013ff,#0013ff,#0005ff,#0004ff,#0010ff,#0000fe,#0000ea,#0000f7,#0000ff,#0000fd,#0004ff,#0023ff,#001aff,#0006ff,#0005ff,#0004ff,#0004ff,#0003ff,#0001fd,#0009ff,#0017ff,#001fff,#0024ff,#0013ff,#0011ff,#001fff,#001dff,#0014ff,#0019ff,#0020ff,#0022ff,#001eff,#000cff,#000eff,#0016ff,#0027ff,#0031ff,#000fff,#0007ff,#0022ff,#0025ff,#0021ff,#001eff,#0018ff,#001fff,#0026ff,#002aff,#0034ff,#003bff,#0024ff,#000bff,#0036ff,#0049ff,#0030ff,#0031ff,#0043ff,#0042ff,#0040ff,#0040ff)"></i>
<i style="background:linear-gradient(90deg,#009fff,#00a3ff,#00b1ff,#00cfff,#00f6ff,#1bffe5,#2affd6,#28ffd8,#02fffe,#00e1ff,#00ccff,#00b1ff,#005fff,#004bff,#004cff,#0048ff,#004aff,#004fff,#004cff,#0030ff,#0028ff,#002fff,#0024ff,#001bff,#0023ff,#0025ff,#000bff,#0007ff,#000bff,#0006ff,#0000f9,#0006ff,#0012ff,#0011ff,#0013ff,#0017ff,#000dff,#0001ff,#0017ff,#002aff,#0018ff,#0016ff,#002eff,#002fff,#002bff,#002cff,#0030ff,#0034ff,#0034ff,#002cff,#0026ff,#0021ff,#0027ff,#002cff,#002bff,#002fff,#003eff,#004aff,#0064ff,#0079ff,#0085ff,#0091ff,#00abff,#00a6ff,#0050ff,#001bff,#0013ff,#0014ff,#0020ff,#0023ff,#001aff,#001bff,#002bff,#0038ff,#0061ff,#008dff,#00deff,#1affe6,#7bff85,#d5ff2a,#f7ff08,#e3ff1d,#fff001,#fdee03,#7cff84,#29ffd6,#00b6ff,#0089ff,#0068ff,#003dff,#0014ff,#0021ff,#0025ff,#0016ff,#0014ff,#0019ff,#0014ff,#0010ff,#0017ff,#0019ff,#001dff,#001eff,#002bff,#0021ff,#0012ff,#0016ff,#0015ff,#000bff,#0009ff,#0012ff,#0003ff,#0000f1,#0000fa,#0001ff,#0000f9,#0000fd,#0016ff,#0012ff,#0006ff,#0006ff,#0004ff,#0004ff,#0009ff,#0013ff,#000cff,#0004fd,#0006fd,#0008ff,#0012ff,#0014ff,#000fff,#0010ff,#0012ff,#0015ff,#001aff,#002bff,#0030ff,#0018ff,#0014ff,#0018ff,#0022ff,#0027ff,#001bff,#0018ff,#0028ff,#0027ff,#0018ff,#001eff,#0024ff,#002eff,#0033ff,#0022ff,#002aff,#003dff,#0035ff,#0029ff,#0036ff,#003dff,#0030ff,#002eff,#0026ff,#0031ff,#004bff,#004aff)"></i>
<i style="background:linear-gradient(90deg,#00acff,#00adff,#00b7ff,#00dcff,#06fff9,#25ffda,#29ffd6,#19ffe7,#01ffff,#00ebff,#00c5ff,#00a7ff,#006dff,#005bff,#005cff,#0052ff,#004cff,#0052ff,#004eff,#002eff,#0024ff,#002dff,#0022ff,#0017ff,#0020ff,#0024ff,#000fff,#0009ff,#0002ff,#0000fb,#0000f0,#0004ff,#0018ff,#0013ff,#0015ff,#001eff,#0012ff,#0003ff,#0022ff,#003aff,#001dff,#0019ff,#002aff,#002bff,#002bff,#0030ff,#0039ff,#0031ff,#0029ff,#0020ff,#001aff,#0019ff,#0029ff,#0034ff,#002cff,#002dff,#003bff,#0044ff,#004cff,#0068ff,#0089ff,#0098ff,#00b1ff,#0092ff,#0035ff,#0000fc,#0003ff,#000dff,#002dff,#0037ff,#0019ff,#0017ff,#0024ff,#0031ff,#0059ff,#007eff,#00c6ff,#08fff8,#6cff94,#c8ff38,#f4ff0c,#f2ff0d,#ffb400,#ffb600,#77ff89,#1bffe4,#00a9ff,#007bff,#0057ff,#0036ff,#0019ff,#0028ff,#002dff,#001bff,#001bff,#0024ff,#0014ff,#0007ff,#0020ff,#0027ff,#0023ff,#0020ff,#0024ff,#001eff,#0014ff,#0016ff,#0017ff,#0010ff,#000eff,#0014ff,#0007ff,#0000f7,#0000fd,#0002ff,#0000f6,#0000f9,#000dff,#000bff,#0005ff,#0004ff,#0002ff,#0002ff,#000bff,#0021ff,#000fff,#0000f2,#0000f3,#0000f5,#0013ff,#0019ff,#0004ff,#0007ff,#0012ff,#0012ff,#0016ff,#0031ff,#003bff,#0020ff,#0018ff,#0019ff,#001dff,#001fff,#0023ff,#0025ff,#002cff,#0028ff,#0012ff,#001dff,#002eff,#0038ff,#003cff,#001cff,#0022ff,#003dff,#0040ff,#003fff,#0037ff,#0035ff,#0031ff,#002dff,#0013ff,#0025ff,#0052ff,#0050ff)"></i>
<i style="background:linear-gradient(90deg,#0086ff,#009aff,#00bdff,#00e0ff,#0bfff5,#26ffda,#2bffd4,#1cffe3,#0ffff1,#06fcfa,#00caff,#00a9ff,#007fff,#006aff,#005bff,#0049ff,#0036ff,#003bff,#003cff,#0036ff,#002dff,#0026ff,#001cff,#0015ff,#0012ff,#0011ff,#000bff,#0007ff,#0000fc,#0000fb,#0000fa,#000aff,#0019ff,#0010ff,#000fff,#0015ff,#0014ff,#0013ff,#0022ff,#002fff,#0022ff,#0021ff,#002eff,#002dff,#0025ff,#0028ff,#002fff,#0024ff,#001fff,#0026ff,#0022ff,#001dff,#0027ff,#002fff,#0025ff,#0026ff,#003dff,#0049ff,#005cff,#0073ff,#0082ff,#0076ff,#007cff,#006aff,#002bff,#000dff,#0008ff,#0009ff,#0022ff,#002aff,#001eff,#001dff,#001cff,#002bff,#005aff,#0082ff,#00d3ff,#26ffda,#93ff6c,#dfff21,#ffda00,#ffa200,#ff6500,#ffad00,#7fff81,#28ffd7,#00c5ff,#008dff,#0056ff,#003aff,#0022ff,#002bff,#002dff,#001cff,#001dff,#0026ff,#0011ff,#0001fe,#001fff,#0027ff,#001eff,#001bff,#001aff,#0015ff,#000eff,#0017ff,#001bff,#000eff,#000cff,#0017ff,#0009ff,#0000f7,#0000fa,#0000fe,#0000fb,#0002fe,#0016ff,#0012ff,#0007ff,#0007ff,#0006ff,#0006ff,#000bff,#0016ff,#000bff,#0000fa,#0007ff,#000fff,#001eff,#0020ff,#0008ff,#000cff,#0019ff,#0015ff,#0012ff,#002aff,#0035ff,#0026ff,#0021ff,#0020ff,#001fff,#001cff,#0027ff,#002bff,#002eff,#002cff,#001cff,#0024ff,#0033ff,#0031ff,#002eff,#0021ff,#0027ff,#0036ff,#003bff,#003eff,#003fff,#0041ff,#0035ff,#0032ff,#0029ff,#0032ff,#0048ff,#0048ff)"></i>
<i style="background:linear-gradient(90deg,#0060ff,#0089ff,#00c6ff,#00e5ff,#0ffff1,#24ffdb,#2dffd3,#20ffdf,#1effe2,#1affe6,#00ccff,#00a7ff,#008fff,#0078ff,#0058ff,#003eff,#001dff,#0022ff,#0026ff,#003dff,#0035ff,#001bff,#0015ff,#0013ff,#0002ff,#0000fa,#0006ff,#0005ff,#0000f7,#0000fd,#0008ff,#0013ff,#001bff,#000eff,#0008ff,#000bff,#0018ff,#0027ff,#0022ff,#0023ff,#0029ff,#002bff,#0033ff,#0030ff,#001fff,#0021ff,#0023ff,#0015ff,#0014ff,#002dff,#002bff,#0021ff,#0025ff,#0029ff,#001fff,#001fff,#0041ff,#004eff,#006dff,#007dff,#0075ff,#0049ff,#0039ff,#003aff,#0021ff,#0020ff,#000fff,#0005ff,#0014ff,#001aff,#0023ff,#0022ff,#0013ff,#0024ff,#005aff,#0086ff,#00e1ff,#48ffb7,#c3ff3d,#fbfe04,#ffa200,#ff3500,#ff2800,#ffb300,#88ff77,#39ffc6,#00e5ff,#00a2ff,#0056ff,#003eff,#002cff,#002fff,#002cff,#001cff,#001dff,#0026ff,#000eff,#0000f7,#001bff,#0025ff,#0018ff,#0016ff,#0010ff,#000dff,#0009ff,#0018ff,#001fff,#000bff,#000aff,#001bff,#000bff,#0000f7,#0000f8,#0000fa,#0003ff,#0009ff,#0020ff,#0019ff,#0008ff,#0008ff,#0009ff,#0009ff,#000aff,#000aff,#0008ff,#0006ff,#001eff,#002dff,#002cff,#002aff,#000fff,#0014ff,#0022ff,#001bff,#0010ff,#0023ff,#002eff,#002cff,#002aff,#0027ff,#0020ff,#001aff,#002bff,#0031ff,#0032ff,#0031ff,#0028ff,#002fff,#003aff,#002bff,#0021ff,#0029ff,#002fff,#002fff,#0036ff,#003dff,#004aff,#0051ff,#003aff,#0037ff,#0042ff,#0041ff,#003dff,#003dff)"></i>
<i style="background:linear-gradient(90deg,#0088ff,#00a9ff,#00d3ff,#00e0ff,#03f9fd,#0bfbf5,#17ffe8,#1dffe3,#09fdf7,#03f1fd,#00b0ff,#0090ff,#0079ff,#0065ff,#004cff,#0038ff,#0022ff,#0024ff,#0027ff,#003cff,#0030ff,#0011ff,#000eff,#0011ff,#0000ff,#0000f8,#0002ff,#0002ff,#0002fd,#0007ff,#0014ff,#0016ff,#0017ff,#0015ff,#0013ff,#000dff,#001bff,#002dff,#0025ff,#0023ff,#002cff,#002eff,#0033ff,#0030ff,#0021ff,#0024ff,#0027ff,#0017ff,#0013ff,#0023ff,#0022ff,#001eff,#0027ff,#0031ff,#0026ff,#0024ff,#003bff,#0047ff,#0076ff,#0081ff,#0068ff,#0041ff,#0032ff,#002cff,#0020ff,#0024ff,#0014ff,#000cff,#0011ff,#0012ff,#001eff,#001eff,#0014ff,#0028ff,#0061ff,#0090ff,#00f0ff,#4cffb3,#c6ff39,#fff400,#ff9400,#ff3d00,#ff4a00,#ffc200,#8aff75,#3bffc4,#00e7ff,#00a2ff,#0054ff,#0043ff,#0038ff,#0032ff,#0029ff,#0018ff,#0018ff,#0022ff,#0015ff,#0009ff,#0013ff,#0016ff,#0012ff,#0012ff,#0011ff,#000eff,#000aff,#0011ff,#0016ff,#000aff,#0009ff,#000fff,#0005ff,#0000f7,#0000f5,#0000f7,#0001fe,#0005ff,#0014ff,#000fff,#0003ff,#0002ff,#0003ff,#0004ff,#0008ff,#000aff,#000eff,#0011ff,#0024ff,#002fff,#0024ff,#0021ff,#0016ff,#001cff,#002aff,#0023ff,#0016ff,#0023ff,#002aff,#0028ff,#0028ff,#0028ff,#001fff,#0016ff,#002bff,#0032ff,#002eff,#002dff,#0027ff,#002eff,#003aff,#0035ff,#0032ff,#0039ff,#003bff,#0038ff,#003eff,#0044ff,#0048ff,#004aff,#0034ff,#002eff,#0033ff,#0035ff,#0039ff,#003aff)"></i>
<i style="background:linear-gradient(90deg,#00c5ff,#00d5ff,#00e4ff,#00d8ff,#00dcff,#00d0ff,#00eeff,#12ffed,#00e0ff,#00b8ff,#008bff,#0073ff,#0056ff,#0047ff,#003bff,#0033ff,#002eff,#002eff,#002cff,#003cff,#002bff,#0007ff,#0009ff,#0010ff,#0000ff,#0000f8,#0000fb,#0000fe,#000cff,#0013ff,#001fff,#0015ff,#000bff,#001eff,#0020ff,#000eff,#001aff,#002cff,#0023ff,#0020ff,#002fff,#0032ff,#0030ff,#002eff,#0024ff,#0029ff,#002eff,#001eff,#0014ff,#0015ff,#0015ff,#001bff,#002dff,#003eff,#002dff,#0029ff,#0030ff,#003dff,#0086ff,#008bff,#005fff,#004cff,#0047ff,#0028ff,#001dff,#0026ff,#001eff,#001cff,#0010ff,#000dff,#0019ff,#001bff,#001dff,#0032ff,#006fff,#00a2ff,#08fff7,#49ffb7,#b9ff46,#ffe900,#ff8300,#ff5a00,#ff9500,#ffe400,#85ff7b,#37ffc8,#00e4ff,#00a0ff,#0053ff,#004dff,#004dff,#0037ff,#0024ff,#0011ff,#0011ff,#0019ff,#0023ff,#0028ff,#0009ff,#0002fe,#0009ff,#000dff,#0014ff,#0011ff,#000cff,#0008ff,#0006ff,#000aff,#0006ff,#0000f9,#0000f7,#0000f6,#0000f1,#0000f1,#0000f8,#0000fb,#0001fd,#0001fd,#0000fe,#0000fb,#0000fa,#0000fe,#0006ff,#000fff,#0018ff,#001fff,#0026ff,#0028ff,#0010ff,#000dff,#001eff,#0025ff,#0031ff,#002bff,#001fff,#0023ff,#0025ff,#0020ff,#0023ff,#002aff,#001cff,#0010ff,#0028ff,#0030ff,#0026ff,#0025ff,#0023ff,#0027ff,#0033ff,#0040ff,#004aff,#004bff,#0049ff,#0044ff,#0048ff,#004bff,#003eff,#0039ff,#0027ff,#0020ff,#0017ff,#0020ff,#0037ff,#0038ff)"></i>
<i style="background:linear-gradient(90deg,#00c9ff,#00d3ff,#00d9ff,#00d1ff,#00dcff,#00e2ff,#08f8f7,#1bffe5,#00e4ff,#00baff,#0088ff,#006fff,#0056ff,#0046ff,#003aff,#0033ff,#0030ff,#002fff,#002dff,#0037ff,#0029ff,#0010ff,#000cff,#000dff,#0001ff,#0000fc,#0000fd,#0001ff,#0011ff,#0016ff,#001dff,#0015ff,#000dff,#001eff,#0023ff,#001cff,#0021ff,#0028ff,#001eff,#001aff,#002aff,#002eff,#0029ff,#0029ff,#0025ff,#0029ff,#002eff,#001fff,#0016ff,#0014ff,#0014ff,#001aff,#002eff,#0041ff,#0033ff,#002fff,#0024ff,#0030ff,#007eff,#0082ff,#0052ff,#0042ff,#0042ff,#0033ff,#0024ff,#001dff,#0017ff,#0017ff,#0017ff,#0017ff,#0017ff,#0019ff,#001fff,#0035ff,#0075ff,#00a6ff,#08fff7,#4affb6,#bdff43,#ffd500,#ff4b00,#ff4100,#ffc400,#f1ff0f,#7eff81,#35ffcb,#00dfff,#009cff,#0056ff,#004aff,#0045ff,#0032ff,#0023ff,#0012ff,#0011ff,#0018ff,#0026ff,#002eff,#000bff,#0002fe,#0014ff,#0017ff,#0015ff,#0014ff,#0011ff,#000bff,#0006ff,#0006ff,#0002fe,#0000f3,#0000f7,#0000fc,#0000f3,#0000f1,#0000f9,#0000fc,#0000fd,#0000fc,#0000fb,#0000fc,#0002fd,#0002ff,#0007ff,#000dff,#0017ff,#001fff,#0020ff,#001fff,#0011ff,#000fff,#001bff,#0023ff,#0034ff,#002dff,#001dff,#001fff,#0020ff,#0020ff,#0025ff,#0029ff,#001cff,#0010ff,#0028ff,#0030ff,#0026ff,#0026ff,#0025ff,#0029ff,#0034ff,#0040ff,#004aff,#004cff,#004bff,#0045ff,#0048ff,#004aff,#003cff,#0037ff,#002eff,#0027ff,#0017ff,#0022ff,#003dff,#003fff)"></i>
<i style="background:linear-gradient(90deg,#00bcff,#00baff,#00b4ff,#00c2ff,#00e9ff,#29ffd6,#43ffbc,#34ffcc,#03fbfd,#00d5ff,#008dff,#006eff,#0061ff,#004fff,#003eff,#0036ff,#0030ff,#002fff,#002bff,#0027ff,#0025ff,#0028ff,#0014ff,#0002ff,#0004ff,#0007ff,#0004ff,#0007ff,#001aff,#001aff,#0016ff,#0018ff,#001bff,#001aff,#0025ff,#003fff,#0035ff,#0021ff,#0013ff,#000eff,#001fff,#0023ff,#001cff,#001eff,#0026ff,#0028ff,#002aff,#0022ff,#001dff,#0019ff,#0019ff,#0018ff,#002eff,#0043ff,#0040ff,#003fff,#000bff,#0011ff,#0063ff,#0065ff,#0034ff,#0025ff,#0034ff,#005bff,#003bff,#0007ff,#0003fe,#0004ff,#0029ff,#0035ff,#0012ff,#0010ff,#001cff,#0035ff,#007dff,#00a6ff,#00fbff,#4cffb3,#c8ff37,#ffbf00,#f40900,#fd0d00,#ffe800,#b8ff48,#75ff8b,#32ffcd,#00d3ff,#0098ff,#0060ff,#003fff,#0025ff,#0025ff,#0023ff,#0017ff,#0017ff,#001aff,#0027ff,#002dff,#0011ff,#000aff,#0032ff,#0032ff,#0018ff,#001aff,#001cff,#0016ff,#000eff,#0000fa,#0000f1,#0000ee,#0000fc,#000bff,#0000fa,#0000f4,#0000fd,#0001ff,#0003ff,#0000fe,#0000f5,#0002ff,#000eff,#000cff,#000aff,#0008ff,#0010ff,#0019ff,#0011ff,#000bff,#001cff,#001fff,#0011ff,#001cff,#003bff,#002eff,#0017ff,#0014ff,#0016ff,#0025ff,#002aff,#0029ff,#001dff,#0014ff,#002aff,#0031ff,#002aff,#002bff,#002dff,#0032ff,#003bff,#003fff,#0044ff,#0048ff,#0049ff,#0045ff,#0043ff,#0042ff,#003bff,#0038ff,#0044ff,#003eff,#0021ff,#002eff,#004fff,#0051ff)"></i>
<i style="background:linear-gradient(90deg,#00b5ff,#00b1ff,#00aeff,#00c4ff,#00f3ff,#44ffbb,#5effa2,#40ffc0,#11ffef,#00e9ff,#0099ff,#0076ff,#0064ff,#0051ff,#0042ff,#0038ff,#0030ff,#002fff,#002bff,#0026ff,#0027ff,#002dff,#0018ff,#0004ff,#0009ff,#000eff,#000dff,#000fff,#001bff,#0017ff,#000fff,#0013ff,#0019ff,#0015ff,#0020ff,#003eff,#0030ff,#0017ff,#000dff,#000cff,#0019ff,#001bff,#0012ff,#0013ff,#001eff,#001fff,#0020ff,#001cff,#0018ff,#0015ff,#0019ff,#0019ff,#002cff,#003dff,#003eff,#003dff,#0009ff,#0010ff,#005cff,#005eff,#002cff,#001bff,#002bff,#0055ff,#0035ff,#0000fe,#0001fd,#0003ff,#002fff,#003dff,#0010ff,#000cff,#001dff,#0038ff,#0083ff,#00abff,#00feff,#53ffac,#d4ff2c,#ffa500,#bf0000,#e10000,#ffef00,#a5ff5a,#6bff94,#28ffd7,#00c2ff,#008cff,#005fff,#003aff,#001cff,#0023ff,#0025ff,#001bff,#001aff,#001bff,#0028ff,#002eff,#0011ff,#000bff,#0035ff,#0035ff,#0017ff,#001aff,#001eff,#0019ff,#0010ff,#0000f8,#0000ee,#0000ed,#0000fe,#0011ff,#0003ff,#0000fc,#0007ff,#000aff,#000bff,#0006ff,#0000fa,#0009ff,#0015ff,#000cff,#0004ff,#0002fe,#000aff,#0014ff,#000cff,#0006ff,#001dff,#0020ff,#000cff,#0018ff,#003dff,#002eff,#0014ff,#000eff,#000dff,#001dff,#0025ff,#0027ff,#001dff,#0015ff,#002aff,#0030ff,#0029ff,#002bff,#0030ff,#0033ff,#0039ff,#0038ff,#0039ff,#0045ff,#0048ff,#0042ff,#003fff,#003cff,#0036ff,#0035ff,#0045ff,#0042ff,#002aff,#0035ff,#0050ff,#0051ff)"></i>
<i style="background:linear-gradient(90deg,#00bdff,#00c3ff,#00cfff,#00e5ff,#14ffec,#5fffa0,#6dff92,#3cffc3,#1cffe3,#03fdfc,#00adff,#0087ff,#0057ff,#0046ff,#004bff,#003fff,#0036ff,#0034ff,#0032ff,#002dff,#0024ff,#0015ff,#0013ff,#0014ff,#0018ff,#001dff,#0023ff,#0022ff,#000dff,#0009ff,#0003ff,#0004ff,#000aff,#000cff,#000fff,#0011ff,#000bff,#0006ff,#0013ff,#0020ff,#0013ff,#0010ff,#0003ff,#0003ff,#0010ff,#000fff,#000dff,#0013ff,#0014ff,#000eff,#0017ff,#001eff,#0021ff,#0025ff,#0026ff,#0028ff,#002bff,#0035ff,#005fff,#0065ff,#003eff,#002eff,#0032ff,#0022ff,#0013ff,#000aff,#000eff,#0014ff,#002cff,#0031ff,#0004ff,#0002fe,#001dff,#0038ff,#007fff,#00abff,#04fffc,#59ffa6,#dbff25,#ff9b00,#ce0000,#f90a00,#fffb01,#a1ff5e,#5fffa1,#18ffe8,#0095ff,#006cff,#0059ff,#003aff,#0024ff,#002bff,#002dff,#0022ff,#001dff,#0017ff,#0026ff,#002eff,#0008ff,#0001fe,#001bff,#001cff,#0012ff,#0015ff,#001aff,#0017ff,#0012ff,#0001fe,#0000f6,#0000f3,#0001ff,#000eff,#000aff,#0006ff,#0019ff,#001bff,#0016ff,#0014ff,#0013ff,#001bff,#0021ff,#0004ff,#0000f3,#0000f4,#0003ff,#0011ff,#0012ff,#0011ff,#0014ff,#0014ff,#0002ff,#0013ff,#0045ff,#0036ff,#0019ff,#000bff,#0002fe,#0003fa,#000fff,#002aff,#0025ff,#001fff,#0028ff,#002aff,#0020ff,#0023ff,#002fff,#002fff,#002eff,#0021ff,#001fff,#0047ff,#0051ff,#0040ff,#003aff,#0034ff,#002dff,#002bff,#0031ff,#0034ff,#0047ff,#0045ff,#0040ff,#003eff)"></i>
<i style="background:linear-gradient(90deg,#00c1ff,#00ccff,#00deff,#00f4ff,#21ffdf,#67ff99,#6fff91,#38ffc7,#1fffe1,#07fff8,#00b5ff,#008eff,#0054ff,#0044ff,#004dff,#0042ff,#003aff,#0037ff,#0035ff,#0031ff,#0025ff,#000bff,#0011ff,#001cff,#001fff,#0023ff,#002cff,#0029ff,#0008ff,#0004ff,#0000fd,#0000fe,#0004ff,#0007ff,#0007ff,#0000fa,#0000f9,#0000ff,#0018ff,#002aff,#0012ff,#000dff,#0001fd,#0001fd,#000bff,#0009ff,#0007ff,#0010ff,#0013ff,#000bff,#0014ff,#001eff,#001bff,#0019ff,#001bff,#001fff,#0037ff,#0042ff,#005fff,#0069ff,#004dff,#0040ff,#003eff,#0015ff,#000bff,#0015ff,#0019ff,#001dff,#0028ff,#002aff,#0004fe,#0004fd,#001dff,#0036ff,#007bff,#00aaff,#07fff8,#5cffa4,#daff26,#ffad00,#ff1f00,#ff4d00,#f8ff07,#a5ff5a,#5effa2,#15ffeb,#0089ff,#0063ff,#0055ff,#003aff,#0027ff,#002eff,#002fff,#0022ff,#001dff,#0016ff,#0024ff,#002bff,#0006ff,#0000fb,#000fff,#0011ff,#000eff,#0012ff,#0017ff,#0016ff,#0012ff,#0003ff,#0000fa,#0000f8,#0002ff,#000dff,#000bff,#0008ff,#001dff,#0020ff,#001aff,#001aff,#001dff,#0023ff,#0025ff,#0000ff,#0000ec,#0000ee,#0001ff,#0011ff,#0016ff,#0017ff,#0013ff,#0011ff,#0000fe,#0011ff,#0047ff,#0038ff,#001cff,#0009ff,#0000fa,#0000f2,#0008ff,#002cff,#0028ff,#0024ff,#0026ff,#0027ff,#001cff,#001fff,#002cff,#002bff,#0027ff,#0016ff,#0014ff,#0047ff,#0051ff,#003eff,#0036ff,#0031ff,#0028ff,#0025ff,#0027ff,#002bff,#004eff,#0048ff,#0038ff,#0034ff)"></i>
<i style="background:linear-gradient(90deg,#00acff,#00b7ff,#00cdff,#00e4ff,#09fff6,#3bffc5,#50ffb0,#36ffca,#0ffff0,#00eaff,#00b4ff,#0096ff,#0070ff,#0058ff,#003dff,#0038ff,#003aff,#0036ff,#0033ff,#0037ff,#0030ff,#0021ff,#001bff,#001aff,#0018ff,#0019ff,#0021ff,#0021ff,#0016ff,#000fff,#0000ff,#0000fd,#0000fe,#0005ff,#0004ff,#0000f5,#0000f8,#0002ff,#0016ff,#0024ff,#001dff,#001cff,#0019ff,#0014ff,#000dff,#000cff,#000bff,#000aff,#0009ff,#0007ff,#0011ff,#001bff,#001fff,#0023ff,#0024ff,#0025ff,#001bff,#0026ff,#005eff,#006bff,#005dff,#004cff,#0043ff,#0035ff,#0028ff,#002bff,#0023ff,#0020ff,#001dff,#001bff,#002cff,#002dff,#001dff,#0034ff,#0079ff,#00b2ff,#20ffe0,#5dffa3,#cfff30,#ffc300,#ff7800,#ffa400,#fefc01,#cdff33,#70ff90,#28ffd8,#00caff,#0088ff,#003fff,#002fff,#0028ff,#0027ff,#0021ff,#0010ff,#0019ff,#002bff,#0025ff,#001cff,#000aff,#0005ff,#0012ff,#0012ff,#0008ff,#0009ff,#0008ff,#0009ff,#0008ff,#0000fb,#0000f8,#0000fc,#0009ff,#0016ff,#0009ff,#0002ff,#000aff,#0010ff,#0018ff,#0017ff,#0016ff,#0017ff,#0017ff,#0000fa,#0000e8,#0000e2,#0000f8,#0014ff,#0018ff,#0019ff,#001fff,#001fff,#0005ff,#0010ff,#0035ff,#0031ff,#0022ff,#0009ff,#0000fb,#000aff,#001aff,#002bff,#0027ff,#0024ff,#0028ff,#0029ff,#0027ff,#0027ff,#0026ff,#0022ff,#001bff,#0017ff,#001aff,#0034ff,#0038ff,#002cff,#0031ff,#0037ff,#002bff,#0026ff,#0028ff,#0027ff,#0028ff,#002bff,#0034ff,#0030ff)"></i>
<i style="background:linear-gradient(90deg,#009cff,#00a9ff,#00c1ff,#00d9ff,#00faff,#1fffe1,#3effc2,#3affc6,#07fff8,#00d8ff,#00b5ff,#009eff,#0087ff,#0068ff,#0033ff,#0033ff,#003cff,#0038ff,#0034ff,#003cff,#003aff,#0031ff,#0023ff,#0019ff,#0014ff,#0012ff,#0019ff,#001aff,#0020ff,#0018ff,#0003ff,#0000fe,#0000fc,#0004ff,#0002ff,#0000f2,#0000f7,#0004ff,#0015ff,#0020ff,#0024ff,#0026ff,#002aff,#0022ff,#000eff,#000eff,#000dff,#0005ff,#0001ff,#0003ff,#000cff,#0015ff,#001eff,#0027ff,#0028ff,#0027ff,#0004ff,#000eff,#0058ff,#0069ff,#006fff,#0060ff,#0053ff,#0057ff,#0044ff,#003fff,#002dff,#0024ff,#0017ff,#0012ff,#004bff,#004cff,#001eff,#0033ff,#0075ff,#00b6ff,#31ffce,#61ff9f,#ceff31,#ffca00,#ffa400,#ffce00,#fff000,#edff13,#80ff7f,#38ffc8,#00faff,#00a3ff,#002fff,#0026ff,#0027ff,#001fff,#0016ff,#0003ff,#0015ff,#0039ff,#0025ff,#0011ff,#000dff,#000dff,#0015ff,#0013ff,#0004ff,#0002ff,#0000fc,#0000fd,#0000fe,#0000f6,#0000f6,#0000ff,#000eff,#001bff,#0006ff,#0000fb,#0000fc,#0005ff,#0018ff,#0016ff,#0011ff,#000fff,#000dff,#0000f7,#0000e6,#0000da,#0000f5,#0016ff,#001aff,#001bff,#0028ff,#0029ff,#0009ff,#0010ff,#0026ff,#002aff,#0027ff,#0008ff,#0000fc,#001bff,#0026ff,#002aff,#0025ff,#0022ff,#0028ff,#002aff,#002dff,#002aff,#001fff,#001aff,#0012ff,#0018ff,#001fff,#0026ff,#0023ff,#001cff,#002bff,#0039ff,#002bff,#0025ff,#0026ff,#0021ff,#000aff,#0015ff,#002eff,#002cff)"></i>
<i style="background:linear-gradient(90deg,#009aff,#00a6ff,#00c0ff,#00d9ff,#01ffff,#34ffcb,#59ffa7,#52ffad,#19ffe7,#00e4ff,#00d1ff,#00bbff,#0086ff,#006aff,#004aff,#003eff,#0034ff,#0038ff,#0038ff,#003bff,#0037ff,#0030ff,#001fff,#0012ff,#000bff,#0008ff,#0014ff,#0016ff,#001dff,#0019ff,#000dff,#000bff,#0006ff,#0004ff,#0002ff,#0002fc,#0004ff,#0009ff,#0011ff,#0015ff,#001cff,#001dff,#001fff,#001aff,#000fff,#000dff,#0009ff,#0001ff,#0000fe,#0003ff,#0007ff,#000cff,#000cff,#000eff,#001aff,#001dff,#0002ff,#0008ff,#0033ff,#004aff,#006dff,#0070ff,#006bff,#0071ff,#004fff,#003aff,#002eff,#002bff,#0027ff,#0025ff,#003aff,#003aff,#0026ff,#0036ff,#0068ff,#00abff,#2dffd3,#6dff93,#e2ff1e,#ffca00,#ff9a00,#ffb100,#ffe800,#e8ff17,#85ff7b,#3cffc4,#00ebff,#009dff,#0043ff,#0029ff,#0018ff,#0017ff,#0014ff,#000aff,#001dff,#003cff,#0027ff,#0013ff,#000dff,#000dff,#0019ff,#0016ff,#0002ff,#0004ff,#0005ff,#0000f9,#0000f5,#0004fe,#0005ff,#0000ff,#0006ff,#000dff,#0001fd,#0000f7,#0006ff,#0010ff,#001dff,#0017ff,#000aff,#000eff,#0012ff,#0000fd,#0000f0,#0000ec,#0001fd,#0013ff,#001cff,#0020ff,#001eff,#001dff,#000fff,#0014ff,#0022ff,#0026ff,#0023ff,#0007ff,#0000fd,#001cff,#0022ff,#001dff,#0019ff,#0017ff,#0020ff,#0023ff,#0018ff,#0017ff,#0017ff,#0017ff,#001aff,#0024ff,#002bff,#0027ff,#0022ff,#001fff,#0025ff,#002cff,#002bff,#002aff,#0022ff,#001eff,#0016ff,#001aff,#0025ff,#0023ff)"></i>
<i style="background:linear-gradient(90deg,#0098ff,#00a5ff,#00beff,#00d7ff,#03fffc,#48ffb8,#6fff91,#66ff9a,#25ffda,#00ecff,#00ebff,#00d8ff,#0082ff,#006aff,#0062ff,#0047ff,#0027ff,#0032ff,#0037ff,#0034ff,#002fff,#002cff,#0018ff,#0007ff,#0000fd,#0000f9,#000eff,#0011ff,#001aff,#001aff,#0016ff,#0014ff,#000eff,#0003ff,#0001ff,#000dff,#000dff,#000cff,#000bff,#0009ff,#0014ff,#0016ff,#0015ff,#0013ff,#0013ff,#000eff,#0006ff,#0000ff,#0000fd,#0005ff,#0007ff,#0006ff,#0000fc,#0000f7,#000eff,#0015ff,#0004ff,#0006ff,#000fff,#002aff,#0062ff,#006eff,#0070ff,#007dff,#0053ff,#002eff,#002bff,#0030ff,#0037ff,#0038ff,#0025ff,#0023ff,#002eff,#003aff,#005dff,#00a2ff,#29ffd6,#77ff89,#f0ff0f,#ffc900,#ff6900,#ff6200,#ffd700,#e0ff1f,#86ff7a,#3cffc3,#00d8ff,#0097ff,#005bff,#002fff,#0009ff,#0010ff,#0015ff,#0015ff,#0027ff,#0041ff,#002cff,#0017ff,#000eff,#000dff,#001eff,#001aff,#0002ff,#0008ff,#0010ff,#0000f8,#0000ee,#0011ff,#0015ff,#0002ff,#0000fe,#0001ff,#0000f9,#0000f6,#0010ff,#001bff,#0020ff,#0016ff,#0003ff,#000cff,#0017ff,#0004ff,#0000fa,#0000fe,#0007ff,#000eff,#001cff,#0024ff,#0012ff,#000fff,#0015ff,#0019ff,#001fff,#0022ff,#0020ff,#0005ff,#0000fd,#001cff,#001dff,#0011ff,#000dff,#000cff,#0019ff,#001cff,#0003ff,#0003ff,#0011ff,#0017ff,#0025ff,#0032ff,#0039ff,#002aff,#0023ff,#0026ff,#0023ff,#0020ff,#002dff,#0032ff,#0020ff,#001dff,#0026ff,#0024ff,#001fff,#001dff)"></i>
<i style="background:linear-gradient(90deg,#00a3ff,#00bbff,#00e3ff,#00e9ff,#04fffc,#33ffcd,#55ffaa,#57ffa8,#24ffdb,#00f4ff,#00deff,#00c7ff,#0091ff,#0079ff,#0064ff,#004dff,#0033ff,#0036ff,#0035ff,#0033ff,#0030ff,#002fff,#0016ff,#0001fe,#0000f9,#0000f7,#000aff,#000cff,#000bff,#0012ff,#001eff,#0018ff,#000eff,#0007ff,#0008ff,#0013ff,#0016ff,#0018ff,#0011ff,#000dff,#0011ff,#0011ff,#000fff,#0010ff,#0016ff,#0011ff,#000aff,#000fff,#0012ff,#0013ff,#000aff,#0000fa,#0000f9,#0000f9,#000eff,#0017ff,#001aff,#001bff,#0006ff,#0026ff,#006cff,#0086ff,#0086ff,#0076ff,#004dff,#0033ff,#002aff,#002aff,#0033ff,#0034ff,#001dff,#001dff,#002fff,#0039ff,#005aff,#00a3ff,#2effd1,#7eff81,#f7ff09,#ffc600,#ff3000,#f80b00,#ffa800,#f7fe08,#8eff71,#41ffbe,#00d8ff,#0098ff,#005bff,#0033ff,#0011ff,#0013ff,#0015ff,#0016ff,#0023ff,#0034ff,#0029ff,#001eff,#0016ff,#0015ff,#0029ff,#0026ff,#000cff,#0010ff,#0013ff,#0001fd,#0000f6,#0011ff,#0013ff,#0003ff,#0000ff,#0001ff,#0003fe,#0004fe,#001cff,#0023ff,#001bff,#0013ff,#0004ff,#000bff,#0013ff,#0006ff,#0001fe,#0006ff,#0008ff,#0007ff,#0013ff,#0018ff,#0009ff,#0006ff,#000cff,#000fff,#0017ff,#0017ff,#0014ff,#0008ff,#0008ff,#001eff,#001bff,#000eff,#000bff,#000aff,#001bff,#0020ff,#0007ff,#0008ff,#0019ff,#0016ff,#0012ff,#0025ff,#0030ff,#0021ff,#001bff,#001eff,#0020ff,#0022ff,#002dff,#0031ff,#0021ff,#001fff,#002cff,#0027ff,#001bff,#001bff)"></i>
<i style="background:linear-gradient(90deg,#00b3ff,#00dfff,#21ffde,#08fff7,#02fffd,#0dfff2,#2affd6,#3fffc0,#23ffdd,#03fffd,#00c4ff,#00a8ff,#00abff,#0092ff,#0065ff,#0057ff,#004aff,#003fff,#0035ff,#0033ff,#0032ff,#0037ff,#0016ff,#0000f7,#0000f5,#0000f7,#0006ff,#0005ff,#0000f3,#0006ff,#002bff,#001cff,#000dff,#000fff,#0014ff,#001cff,#0023ff,#002bff,#001cff,#0014ff,#000cff,#000aff,#0008ff,#000cff,#0019ff,#0014ff,#000fff,#0027ff,#0034ff,#0029ff,#000dff,#0000e6,#0000f4,#0001ff,#0011ff,#001bff,#003fff,#003eff,#0000fc,#0024ff,#0081ff,#00afff,#00abff,#0068ff,#0042ff,#003cff,#0028ff,#001eff,#0029ff,#002cff,#0013ff,#0014ff,#002dff,#0037ff,#0056ff,#00a4ff,#36ffc9,#89ff76,#feff01,#ffc900,#ff2f00,#f20000,#ff8700,#ffe500,#9cff64,#49ffb7,#00dcff,#0099ff,#0057ff,#0039ff,#0021ff,#0019ff,#0015ff,#0017ff,#001aff,#001dff,#0023ff,#0026ff,#0022ff,#0021ff,#003aff,#0036ff,#001aff,#0019ff,#0015ff,#0009ff,#0003ff,#000cff,#000bff,#0003ff,#0002ff,#0003ff,#000fff,#0014ff,#002dff,#002fff,#0012ff,#000dff,#0007ff,#0009ff,#000bff,#0008ff,#0005ff,#0010ff,#0008ff,#0000fa,#0003ff,#0006ff,#0000fc,#0000fa,#0000fb,#0002fe,#0009ff,#0006ff,#0003ff,#000dff,#0017ff,#0020ff,#0019ff,#000bff,#0009ff,#0008ff,#0021ff,#0027ff,#0012ff,#0014ff,#002aff,#0015ff,#0000f2,#000cff,#001eff,#0013ff,#000eff,#0011ff,#001dff,#0028ff,#002eff,#0031ff,#0022ff,#0023ff,#0033ff,#002aff,#0016ff,#0019ff)"></i>
<i style="background:linear-gradient(90deg,#00b8ff,#00ddff,#17ffe8,#0afff5,#09fff6,#08fff8,#1affe6,#2fffd1,#1affe6,#00feff,#00beff,#00a1ff,#00a3ff,#008cff,#0063ff,#0055ff,#0048ff,#003bff,#002fff,#002eff,#002fff,#0031ff,#0011ff,#0000f3,#0000f2,#0000f7,#0006ff,#0006ff,#0000f0,#0002ff,#0026ff,#0018ff,#000cff,#000fff,#0016ff,#0021ff,#0024ff,#0027ff,#001cff,#0017ff,#000bff,#0008ff,#0009ff,#000fff,#001fff,#001aff,#0016ff,#002cff,#0037ff,#002dff,#0014ff,#0000f1,#0003fc,#000aff,#0015ff,#001dff,#003bff,#003aff,#0005fd,#002aff,#0089ff,#00afff,#009fff,#0064ff,#0049ff,#0049ff,#0029ff,#0017ff,#0021ff,#0025ff,#0011ff,#0014ff,#0031ff,#003cff,#005bff,#00a2ff,#27ffd8,#76ff89,#ebff14,#ffd000,#ff6b00,#ff5000,#ff9300,#ffd100,#acff53,#54ffab,#00d7ff,#0096ff,#0056ff,#003bff,#0026ff,#0019ff,#0013ff,#0015ff,#0017ff,#0019ff,#0021ff,#0028ff,#0027ff,#0027ff,#0033ff,#0031ff,#0022ff,#0020ff,#0019ff,#000fff,#000aff,#000dff,#000dff,#000bff,#000cff,#000eff,#0015ff,#0017ff,#002bff,#002bff,#000cff,#000aff,#0009ff,#000dff,#000eff,#0008ff,#0004ff,#000dff,#0005ff,#0000f8,#0000fd,#0001ff,#0000fa,#0000f8,#0000fa,#0000fc,#0001fc,#0000fc,#0000fe,#0006ff,#000fff,#001bff,#0016ff,#000aff,#0008ff,#0007ff,#001fff,#0026ff,#0013ff,#0015ff,#0029ff,#0015ff,#0000f6,#000fff,#001fff,#0012ff,#000bff,#000dff,#0018ff,#0023ff,#002fff,#0034ff,#0022ff,#0024ff,#0033ff,#002dff,#001fff,#0021ff)"></i>
<i style="background:linear-gradient(90deg,#00b5ff,#00c1ff,#00d9ff,#00f9ff,#15ffeb,#0afff6,#15ffeb,#25ffdb,#15ffeb,#00feff,#00c3ff,#00a5ff,#0083ff,#0071ff,#005fff,#004fff,#003fff,#0033ff,#0029ff,#002bff,#0029ff,#0026ff,#000eff,#0000fa,#0001fd,#0006ff,#0014ff,#0013ff,#0000f7,#0002ff,#0014ff,#000dff,#0008ff,#0008ff,#0012ff,#0027ff,#001fff,#0012ff,#0017ff,#001aff,#0007ff,#0003ff,#000cff,#0013ff,#0022ff,#0021ff,#0020ff,#0024ff,#0026ff,#0024ff,#001cff,#0013ff,#001aff,#001eff,#0024ff,#0029ff,#0028ff,#002aff,#0023ff,#003fff,#007dff,#008eff,#0076ff,#0062ff,#0058ff,#0060ff,#002dff,#000bff,#0011ff,#0015ff,#0010ff,#0016ff,#003aff,#0046ff,#0065ff,#0095ff,#00f5ff,#3fffc1,#baff45,#ffd600,#ffa500,#ffbc00,#ffa100,#ffb500,#cdff32,#6dff93,#00c6ff,#0087ff,#004fff,#0038ff,#0026ff,#0014ff,#000bff,#000dff,#0012ff,#0017ff,#001eff,#0024ff,#0028ff,#0028ff,#0014ff,#0016ff,#0027ff,#0023ff,#0019ff,#0013ff,#000eff,#000cff,#000fff,#0019ff,#0020ff,#0027ff,#0019ff,#0012ff,#001bff,#001bff,#0004ff,#0005ff,#000cff,#0012ff,#0014ff,#0008ff,#0000fe,#0005ff,#0002ff,#0000fb,#0001ff,#0002ff,#0005ff,#0006ff,#0009ff,#0003ff,#0000ed,#0000f7,#0004ff,#0000f3,#0000f1,#000cff,#0010ff,#0009ff,#0008ff,#0007ff,#0020ff,#0027ff,#0016ff,#0017ff,#0024ff,#001eff,#0017ff,#0026ff,#002eff,#001aff,#000fff,#000eff,#0013ff,#0019ff,#0034ff,#003fff,#0021ff,#0020ff,#002aff,#002eff,#0037ff,#0036ff)"></i>
<i style="background:linear-gradient(90deg,#00b2ff,#00b9ff,#00ccff,#00f6ff,#19ffe7,#10fff0,#17ffe9,#1effe1,#14ffec,#02fffd,#00c3ff,#00a4ff,#007aff,#0069ff,#005eff,#004dff,#003bff,#0031ff,#0028ff,#0029ff,#0025ff,#0021ff,#000fff,#0002ff,#0002ff,#0007ff,#0014ff,#0013ff,#0002fd,#0004ff,#000aff,#0007ff,#0006ff,#0008ff,#0011ff,#0023ff,#001aff,#000cff,#0014ff,#0018ff,#000aff,#0007ff,#000cff,#0013ff,#0022ff,#0021ff,#0020ff,#001fff,#001fff,#001eff,#001bff,#0018ff,#001fff,#0022ff,#0025ff,#002aff,#0022ff,#0026ff,#002eff,#0047ff,#007bff,#0091ff,#007eff,#0070ff,#005fff,#005fff,#002bff,#000aff,#0013ff,#0016ff,#0011ff,#0016ff,#0038ff,#0046ff,#006eff,#0097ff,#00edff,#3cffc4,#bfff41,#ffd200,#ffb100,#ffcd00,#ffa300,#ffb200,#d6ff29,#76ff8a,#00c9ff,#0089ff,#0051ff,#0038ff,#0025ff,#0013ff,#0009ff,#000aff,#000eff,#0013ff,#001bff,#0022ff,#0029ff,#0029ff,#0012ff,#0014ff,#0029ff,#0026ff,#001eff,#0017ff,#0012ff,#000fff,#0012ff,#001cff,#0023ff,#0027ff,#001aff,#0013ff,#0014ff,#0012ff,#0003ff,#0004ff,#0009ff,#000fff,#0013ff,#0006ff,#0000fc,#0001ff,#0001ff,#0000fd,#0002ff,#0004ff,#0008ff,#0009ff,#000cff,#0007ff,#0000f0,#0000fa,#0008ff,#0000f4,#0000f1,#0009ff,#000dff,#0009ff,#000aff,#000bff,#001fff,#0025ff,#0018ff,#0018ff,#0021ff,#0020ff,#0020ff,#0029ff,#002cff,#0019ff,#000eff,#000fff,#0010ff,#0012ff,#0033ff,#003fff,#0022ff,#0021ff,#0025ff,#002bff,#0036ff,#0035ff)"></i>
<i style="background:linear-gradient(90deg,#00aaff,#00c2ff,#00ecff,#04fffc,#1fffe0,#29ffd7,#23ffdc,#0efff1,#13ffec,#10fff0,#00bdff,#0099ff,#007fff,#006eff,#0062ff,#004dff,#0034ff,#0031ff,#002bff,#0027ff,#0021ff,#001eff,#0014ff,#000cff,#0000f8,#0000f1,#0002fc,#0004fe,#0016ff,#000eff,#0000f5,#0000fd,#0008ff,#0014ff,#0017ff,#000aff,#0008ff,#0009ff,#000cff,#000dff,#001dff,#001eff,#000aff,#0010ff,#0023ff,#001dff,#0016ff,#001aff,#001aff,#0012ff,#000cff,#0009ff,#0012ff,#0016ff,#000eff,#000fff,#001bff,#0020ff,#0031ff,#0051ff,#0099ff,#00c6ff,#00c3ff,#00a7ff,#006bff,#003cff,#0021ff,#0015ff,#002aff,#0031ff,#001bff,#001aff,#0029ff,#0041ff,#0084ff,#00adff,#09fff6,#74ff8c,#fde202,#ffb100,#ff9500,#ff7d00,#ff9900,#ffcf00,#d1ff2f,#79ff87,#00ebff,#00a5ff,#0065ff,#003eff,#001cff,#0016ff,#0010ff,#0009ff,#0007ff,#0007ff,#0013ff,#001eff,#002aff,#002dff,#0030ff,#002eff,#0026ff,#002cff,#0034ff,#0024ff,#0019ff,#001cff,#001aff,#0015ff,#0011ff,#000cff,#001cff,#0022ff,#0010ff,#000eff,#0015ff,#000fff,#0003ff,#0009ff,#000dff,#0003ff,#0000fb,#0000fb,#0000fc,#0000fd,#0006ff,#000bff,#0000fd,#0000fb,#0002fe,#0005ff,#0010ff,#000cff,#0008ff,#000bff,#000cff,#0009ff,#0008ff,#000cff,#0015ff,#001cff,#001aff,#001aff,#0018ff,#0018ff,#0016ff,#0018ff,#001cff,#0015ff,#000eff,#0007ff,#0006ff,#0012ff,#000bff,#0003fe,#0026ff,#0035ff,#002bff,#002aff,#001bff,#0019ff,#0015ff,#0014ff)"></i>
<i style="background:linear-gradient(90deg,#00a6ff,#00c6ff,#00f8ff,#09fff6,#25ffdb,#36ffc9,#2affd5,#06fffa,#10fff0,#12ffee,#00b9ff,#0093ff,#007fff,#006eff,#0061ff,#004aff,#0030ff,#0031ff,#002dff,#0024ff,#001cff,#001aff,#0014ff,#0011ff,#0000f4,#0000ea,#0000f3,#0000f9,#001eff,#0011ff,#0000ec,#0000f8,#0009ff,#0019ff,#0019ff,#0000fe,#0001ff,#0009ff,#000aff,#000aff,#0025ff,#0027ff,#0009ff,#000eff,#0023ff,#001aff,#0011ff,#0018ff,#0018ff,#000cff,#0007ff,#0006ff,#000dff,#0012ff,#0007ff,#0007ff,#0019ff,#001eff,#0032ff,#0051ff,#009cff,#00d8ff,#00e0ff,#00baff,#006cff,#002eff,#001dff,#0019ff,#0032ff,#003aff,#001fff,#001bff,#0020ff,#003dff,#008eff,#00b9ff,#1affe6,#95ff6b,#ff6b00,#ff5600,#ff8000,#ff5600,#ff9600,#ffe000,#cfff30,#7dff83,#00fcff,#00b3ff,#006eff,#003fff,#0016ff,#0015ff,#0013ff,#0008ff,#0005ff,#0003ff,#0010ff,#001dff,#002dff,#0031ff,#003eff,#003bff,#0025ff,#002fff,#003bff,#0029ff,#001dff,#0024ff,#001fff,#0012ff,#0008ff,#0000fd,#001bff,#0026ff,#000dff,#000bff,#001bff,#0012ff,#0000fd,#0004ff,#0008ff,#0000fe,#0000f8,#0000f7,#0000fa,#0000fd,#0008ff,#000eff,#0000fa,#0000f8,#0001fd,#0008ff,#0021ff,#0016ff,#000cff,#0017ff,#001bff,#000cff,#0008ff,#000eff,#001aff,#0023ff,#0018ff,#0015ff,#001aff,#001aff,#0013ff,#0016ff,#001bff,#000eff,#0003ff,#0001fe,#0003ff,#0015ff,#000aff,#0001fc,#0020ff,#002eff,#002fff,#002fff,#0017ff,#0013ff,#0009ff,#0009ff)"></i>
<i style="background:linear-gradient(90deg,#00b1ff,#00c5ff,#00eaff,#0dfff3,#34ffcb,#3fffc1,#2cffd3,#03fffd,#02fbfe,#00f6ff,#00b1ff,#0090ff,#007aff,#0066ff,#004eff,#003fff,#0031ff,#0037ff,#0035ff,#0022ff,#0012ff,#000cff,#0008ff,#0007ff,#0000f9,#0000f3,#0000f4,#0000f6,#000aff,#0006ff,#0000f7,#0006ff,#0015ff,#001dff,#001aff,#0006ff,#000cff,#0018ff,#001bff,#001cff,#001dff,#001aff,#0007ff,#000dff,#0020ff,#001aff,#0015ff,#001aff,#001aff,#000dff,#0013ff,#0024ff,#001dff,#0016ff,#0018ff,#001bff,#0018ff,#001bff,#0033ff,#003dff,#0055ff,#008eff,#0098ff,#0069ff,#0047ff,#0046ff,#0026ff,#0012ff,#0019ff,#001bff,#0024ff,#0022ff,#001dff,#0038ff,#0080ff,#00bdff,#33ffcd,#9cff64,#ff4a00,#ff2800,#ff7b00,#ff6300,#ffb700,#f4fd0b,#d3ff2d,#86ff79,#03fffd,#00b7ff,#0070ff,#003bff,#000aff,#000eff,#0010ff,#000dff,#0013ff,#001fff,#0021ff,#0026ff,#003aff,#003fff,#003bff,#0036ff,#0025ff,#0025ff,#0022ff,#001bff,#001aff,#0027ff,#0022ff,#0010ff,#0003ff,#0000f8,#0010ff,#001aff,#0016ff,#0016ff,#0024ff,#001bff,#0009ff,#000aff,#0008ff,#0000f4,#0000ed,#0000f6,#0000f9,#0000fc,#0004ff,#000bff,#0000fd,#0000fd,#000fff,#0015ff,#0025ff,#001cff,#0014ff,#0019ff,#001dff,#0018ff,#0013ff,#0014ff,#001bff,#0021ff,#0012ff,#000fff,#0024ff,#0024ff,#0019ff,#001aff,#001bff,#0019ff,#0016ff,#000bff,#000aff,#0019ff,#001cff,#001fff,#0025ff,#0027ff,#0029ff,#002bff,#001eff,#0021ff,#0029ff,#0028ff)"></i>
<i style="background:linear-gradient(90deg,#00b3ff,#00bfff,#00dcff,#0ffff1,#41ffbf,#45ffba,#30ffd0,#03fffc,#00f0ff,#00e0ff,#00a9ff,#008cff,#0073ff,#005dff,#003fff,#0035ff,#002fff,#0039ff,#0038ff,#001eff,#000cff,#0003ff,#0000ff,#0001ff,#0000fd,#0000fb,#0000f8,#0000f7,#0000fe,#0001ff,#0002ff,#000fff,#001fff,#0020ff,#001bff,#000aff,#0013ff,#0022ff,#0027ff,#0028ff,#0015ff,#000fff,#0006ff,#000bff,#001cff,#0019ff,#0017ff,#001bff,#001aff,#000cff,#001bff,#0039ff,#0028ff,#0019ff,#0023ff,#0028ff,#0017ff,#0018ff,#0032ff,#002dff,#001fff,#0050ff,#005aff,#002aff,#002dff,#0059ff,#002dff,#000fff,#0007ff,#0005ff,#0026ff,#0028ff,#001dff,#0035ff,#0076ff,#00beff,#42ffbe,#98ff68,#ffa600,#ff7300,#ff7d00,#ff6d00,#ffcc00,#dcff24,#d7ff28,#90ff6f,#07fff8,#00baff,#0071ff,#0039ff,#0003ff,#000aff,#000fff,#0012ff,#0020ff,#0035ff,#002fff,#002dff,#0042ff,#0047ff,#0036ff,#0031ff,#0022ff,#001cff,#000eff,#000fff,#0015ff,#0028ff,#0023ff,#000cff,#0001ff,#0000f6,#000aff,#0011ff,#001dff,#001fff,#002aff,#0023ff,#0013ff,#0010ff,#000bff,#0000f0,#0000e9,#0000f7,#0000fb,#0000fd,#0004ff,#0009ff,#0001ff,#0002ff,#001aff,#001eff,#0027ff,#0020ff,#001aff,#0019ff,#001cff,#001eff,#0019ff,#0016ff,#001aff,#001eff,#000cff,#0009ff,#002aff,#002bff,#001bff,#001aff,#001aff,#0022ff,#0026ff,#0015ff,#0011ff,#001eff,#002cff,#0038ff,#002aff,#0024ff,#0028ff,#002bff,#0024ff,#002cff,#0040ff,#003eff)"></i>
<i style="background:linear-gradient(90deg,#008fff,#009dff,#00c1ff,#00f7ff,#2cffd4,#31ffce,#2effd1,#21ffde,#00f3ff,#00ceff,#009eff,#0084ff,#0068ff,#0053ff,#003dff,#0034ff,#002eff,#002aff,#0023ff,#0016ff,#000bff,#0001ff,#0003ff,#0008ff,#0002ff,#0000fe,#000fff,#0011ff,#0013ff,#000eff,#0000fe,#000aff,#0018ff,#001aff,#0017ff,#0009ff,#000dff,#0016ff,#001eff,#0020ff,#0010ff,#000bff,#0006ff,#0009ff,#0015ff,#0017ff,#001bff,#0018ff,#0015ff,#0011ff,#001cff,#002dff,#0027ff,#0020ff,#0022ff,#0025ff,#0018ff,#0017ff,#0027ff,#0030ff,#0042ff,#0065ff,#006aff,#0048ff,#0042ff,#0056ff,#003dff,#002fff,#001cff,#0014ff,#0014ff,#0015ff,#0029ff,#003eff,#0077ff,#00b3ff,#28ffd7,#91ff6f,#ffe100,#ffb800,#ff8100,#ff6300,#ffb500,#f7fc09,#deff21,#91ff6e,#00f8ff,#00adff,#006aff,#003eff,#0018ff,#0011ff,#0010ff,#0019ff,#0024ff,#0030ff,#002cff,#0029ff,#002cff,#002cff,#002fff,#002dff,#0021ff,#0020ff,#001cff,#0013ff,#0010ff,#0023ff,#0021ff,#0010ff,#0012ff,#0014ff,#000bff,#0007ff,#0017ff,#0018ff,#0013ff,#000fff,#0005ff,#000bff,#000fff,#0003fc,#0002fa,#0007ff,#0003ff,#0000fa,#0001fe,#0004ff,#0009ff,#000cff,#0010ff,#0017ff,#0029ff,#0027ff,#0024ff,#001cff,#0019ff,#001aff,#0014ff,#0010ff,#0011ff,#0013ff,#000cff,#000bff,#001eff,#0020ff,#001dff,#001bff,#001aff,#001fff,#0021ff,#0019ff,#0015ff,#001bff,#0026ff,#002fff,#002cff,#002aff,#0038ff,#0039ff,#001fff,#0023ff,#002bff,#002bff)"></i>
<i style="background:linear-gradient(90deg,#0068ff,#0078ff,#00a3ff,#00dcff,#12ffee,#18ffe8,#2bffd5,#40ffc0,#00f6ff,#00bcff,#0093ff,#007bff,#005cff,#0048ff,#003aff,#0033ff,#002dff,#0019ff,#000aff,#000dff,#0008ff,#0000fd,#0006ff,#0010ff,#0005ff,#0001ff,#0028ff,#002cff,#0029ff,#001bff,#0000fb,#0005ff,#000fff,#0013ff,#0011ff,#0008ff,#0007ff,#0009ff,#0013ff,#0018ff,#000aff,#0006ff,#0006ff,#0008ff,#000cff,#0014ff,#0020ff,#0015ff,#000fff,#0017ff,#001dff,#0020ff,#0025ff,#0029ff,#0021ff,#0020ff,#001aff,#0017ff,#001aff,#0033ff,#006dff,#007fff,#007eff,#006dff,#005bff,#0052ff,#004dff,#0053ff,#0033ff,#0026ff,#0001fe,#0002ff,#0036ff,#0049ff,#0079ff,#00a7ff,#0afff5,#8bff74,#ffe800,#ffcc00,#ff8100,#ff5700,#ff9a00,#ffe300,#e6ff19,#92ff6d,#00e7ff,#009eff,#0061ff,#0045ff,#002eff,#0019ff,#0011ff,#0020ff,#0028ff,#002bff,#0027ff,#0025ff,#0014ff,#000fff,#0028ff,#0029ff,#0020ff,#0026ff,#002dff,#0017ff,#000aff,#001dff,#001fff,#0015ff,#0025ff,#0035ff,#000dff,#0000fb,#0012ff,#000fff,#0000fa,#0000f7,#0000f4,#0004ff,#0014ff,#0010ff,#0012ff,#0017ff,#000bff,#0000f6,#0000fc,#0000fe,#0013ff,#0016ff,#0005ff,#000fff,#002bff,#002eff,#002fff,#0020ff,#0017ff,#0017ff,#000fff,#000aff,#0008ff,#0008ff,#000dff,#000eff,#0010ff,#0014ff,#001fff,#001cff,#0019ff,#001bff,#001cff,#001dff,#001aff,#0017ff,#001dff,#0024ff,#002dff,#0031ff,#0049ff,#0048ff,#001bff,#0018ff,#0015ff,#0016ff)"></i>
<i style="background:linear-gradient(90deg,#0075ff,#0079ff,#0096ff,#00d4ff,#0bfff5,#0dfff3,#1effe2,#31ffce,#00f9ff,#00cbff,#0093ff,#0078ff,#0066ff,#004fff,#0033ff,#0029ff,#0020ff,#000eff,#0003ff,#000aff,#000aff,#0002ff,#000dff,#0018ff,#0008ff,#0001ff,#0023ff,#0028ff,#0028ff,#001bff,#0001fe,#0008ff,#0010ff,#000eff,#000cff,#000aff,#0008ff,#0007ff,#0016ff,#001eff,#0009ff,#0004ff,#0004ff,#0006ff,#000bff,#0010ff,#0016ff,#000fff,#000dff,#0016ff,#001fff,#0022ff,#0023ff,#0023ff,#0021ff,#0022ff,#001dff,#001cff,#0027ff,#0040ff,#0074ff,#0081ff,#0080ff,#0075ff,#0068ff,#0061ff,#0048ff,#0040ff,#0031ff,#002dff,#000aff,#0009ff,#0028ff,#003eff,#0079ff,#00a4ff,#02fffd,#7cff84,#fafa05,#ffe300,#ff8200,#ff5300,#ff9900,#ffe000,#f1ff0f,#9cff64,#00e5ff,#009aff,#005bff,#003cff,#0025ff,#001aff,#0016ff,#0021ff,#0029ff,#002cff,#002fff,#0032ff,#0021ff,#001cff,#002aff,#0029ff,#001eff,#0022ff,#0026ff,#0016ff,#000bff,#0016ff,#0018ff,#0017ff,#0020ff,#002aff,#000fff,#0004ff,#000cff,#0009ff,#0000fc,#0001fc,#0005fd,#000bff,#0013ff,#0014ff,#0015ff,#0013ff,#000cff,#0003fe,#0006ff,#0006ff,#0017ff,#0018ff,#000bff,#0011ff,#0022ff,#0027ff,#002aff,#001eff,#0015ff,#000eff,#0008ff,#0008ff,#000aff,#000dff,#000aff,#000aff,#0014ff,#0019ff,#0020ff,#001eff,#001dff,#0020ff,#0022ff,#001eff,#001eff,#0021ff,#0020ff,#001fff,#0028ff,#002cff,#0046ff,#0046ff,#001fff,#0020ff,#0025ff,#0024ff)"></i>
<i style="background:linear-gradient(90deg,#0099ff,#008bff,#008cff,#00cfff,#06fffa,#01fefe,#0afff5,#16ffea,#02fffe,#00ebff,#0098ff,#0077ff,#007dff,#005fff,#0028ff,#001bff,#000dff,#0002ff,#0000fb,#0007ff,#000bff,#0008ff,#0015ff,#0022ff,#0007ff,#0000fa,#0013ff,#0017ff,#001eff,#0015ff,#0005ff,#000dff,#0014ff,#0008ff,#0006ff,#000fff,#000dff,#0007ff,#001fff,#002bff,#000cff,#0004ff,#0005ff,#0008ff,#0010ff,#000bff,#0007ff,#000bff,#000eff,#0016ff,#0021ff,#0028ff,#001eff,#0016ff,#001fff,#0024ff,#0020ff,#0022ff,#0040ff,#0057ff,#0085ff,#0092ff,#008eff,#0081ff,#0076ff,#0077ff,#003dff,#001aff,#002eff,#0036ff,#001fff,#0019ff,#000dff,#0029ff,#0076ff,#009eff,#00f5ff,#60ff9f,#d9ff26,#fffd00,#ff7400,#ff4b00,#ffa100,#ffe700,#f9ff07,#a4ff5b,#00deff,#0092ff,#0050ff,#002dff,#0012ff,#0017ff,#001cff,#0020ff,#0026ff,#002bff,#003cff,#0048ff,#003dff,#0038ff,#0030ff,#002cff,#001dff,#001cff,#0018ff,#0013ff,#000fff,#000bff,#000fff,#001bff,#0018ff,#0013ff,#0013ff,#0012ff,#0007ff,#0003ff,#0006ff,#000dff,#001eff,#0016ff,#000fff,#0016ff,#0016ff,#0007ff,#000bff,#0011ff,#0012ff,#0010ff,#0019ff,#001aff,#0016ff,#0016ff,#0012ff,#0019ff,#0021ff,#001eff,#0017ff,#0005ff,#0001ff,#0008ff,#0013ff,#001cff,#0009ff,#0005ff,#0020ff,#0024ff,#0023ff,#0022ff,#0022ff,#0027ff,#0029ff,#001eff,#001fff,#002cff,#0022ff,#0015ff,#001bff,#001eff,#0038ff,#003bff,#0023ff,#002dff,#0044ff,#003eff)"></i>
<i style="background:linear-gradient(90deg,#0095ff,#008eff,#009bff,#00daff,#0dfff3,#09fff7,#15ffea,#23ffdc,#10ffef,#00f8ff,#00a6ff,#0083ff,#0080ff,#005fff,#0025ff,#001aff,#000eff,#0004ff,#0001fd,#0006ff,#0009ff,#0005ff,#0010ff,#001cff,#0008ff,#0001fd,#0011ff,#0014ff,#0011ff,#000cff,#0004ff,#000bff,#0013ff,#0007ff,#0004ff,#000aff,#0009ff,#0004ff,#001eff,#002cff,#0009ff,#0002ff,#0006ff,#000aff,#0014ff,#000bff,#0002ff,#000bff,#0011ff,#0012ff,#001dff,#0029ff,#0023ff,#001dff,#0018ff,#001aff,#001dff,#0022ff,#0041ff,#0056ff,#007dff,#0098ff,#009aff,#007cff,#0068ff,#0067ff,#0034ff,#0014ff,#002aff,#0031ff,#0022ff,#001dff,#0011ff,#002aff,#0070ff,#0096ff,#00ebff,#4fffb0,#caff35,#ffeb00,#ff4d00,#ff4c00,#ffa300,#ffe300,#e7ff18,#93ff6d,#00dcff,#0090ff,#004cff,#002aff,#0010ff,#0016ff,#001aff,#001fff,#0023ff,#0026ff,#0034ff,#003eff,#0033ff,#002fff,#0028ff,#0025ff,#001aff,#001aff,#0018ff,#0010ff,#000cff,#000cff,#0012ff,#001cff,#0017ff,#0011ff,#0014ff,#0014ff,#000bff,#0008ff,#000bff,#0010ff,#0019ff,#0014ff,#000fff,#0016ff,#0016ff,#000bff,#000fff,#0016ff,#0019ff,#0018ff,#0019ff,#0017ff,#0017ff,#0019ff,#0018ff,#001dff,#0021ff,#001fff,#001aff,#000cff,#0004ff,#0007ff,#000fff,#0018ff,#000cff,#000aff,#001eff,#001fff,#001aff,#001cff,#0023ff,#0028ff,#0029ff,#0020ff,#0021ff,#002cff,#0023ff,#0018ff,#001cff,#001eff,#0036ff,#0037ff,#001fff,#002aff,#0043ff,#003dff)"></i>
<i style="background:linear-gradient(90deg,#0076ff,#008bff,#00c0ff,#00f5ff,#20ffdf,#24ffdc,#39ffc7,#4fffb0,#2dffd2,#0afff6,#00c3ff,#009fff,#0083ff,#005eff,#002bff,#0023ff,#001eff,#0013ff,#000cff,#000aff,#0007ff,#0001fe,#0005ff,#000bff,#000dff,#000eff,#0015ff,#0012ff,#0000f4,#0000f6,#0001ff,#0008ff,#0010ff,#0009ff,#0003ff,#0000fd,#0000fc,#0000fc,#0018ff,#0028ff,#0001fe,#0000f7,#0008ff,#000dff,#001cff,#000aff,#0000f6,#000eff,#0017ff,#0007ff,#0012ff,#0029ff,#0036ff,#003cff,#0011ff,#0006ff,#0018ff,#0021ff,#003cff,#0047ff,#005cff,#0094ff,#00a6ff,#006bff,#0045ff,#003cff,#0023ff,#0015ff,#001fff,#0021ff,#001fff,#001fff,#0029ff,#0039ff,#0066ff,#008eff,#00e4ff,#3fffc1,#bbff45,#ffe000,#ff5c00,#ff6d00,#ff8500,#ffc300,#c1ff3e,#6aff95,#00e1ff,#0095ff,#0049ff,#002dff,#001aff,#0016ff,#0016ff,#0021ff,#0023ff,#001eff,#0020ff,#0022ff,#0014ff,#0010ff,#0014ff,#0016ff,#0016ff,#001aff,#001eff,#000bff,#0002fe,#0015ff,#001dff,#001bff,#0014ff,#000eff,#000dff,#000cff,#0014ff,#0013ff,#000fff,#0009ff,#0001fa,#0003ff,#000aff,#000cff,#0010ff,#0015ff,#0017ff,#0017ff,#0021ff,#0024ff,#0014ff,#0010ff,#0013ff,#001cff,#002eff,#0028ff,#001fff,#001dff,#001dff,#001cff,#000dff,#0001fe,#0001fc,#0003fd,#000fff,#0014ff,#0012ff,#000fff,#0004ff,#0010ff,#0027ff,#0029ff,#0029ff,#0026ff,#0025ff,#0023ff,#0024ff,#0024ff,#0023ff,#0023ff,#0037ff,#0035ff,#0017ff,#001fff,#0031ff,#002eff)"></i>
<i style="background:linear-gradient(90deg,#006dff,#008eff,#00d3ff,#03fffc,#29ffd7,#2bffd4,#40ffc0,#55ffaa,#30ffd0,#09fff7,#00c8ff,#00a5ff,#007fff,#0058ff,#0025ff,#0020ff,#0021ff,#0016ff,#000eff,#000aff,#0005ff,#0001fe,#0005ff,#000bff,#0011ff,#0012ff,#0018ff,#0014ff,#0000ef,#0000f1,#0000fd,#0006ff,#000eff,#0006ff,#0001fe,#0000fb,#0000fb,#0000fc,#0014ff,#0022ff,#0001fe,#0000f9,#0009ff,#0010ff,#001fff,#000eff,#0000fa,#0011ff,#0019ff,#0006ff,#000fff,#0025ff,#0035ff,#003eff,#0008ff,#0000f9,#0018ff,#0022ff,#0039ff,#003fff,#004cff,#0093ff,#00adff,#0064ff,#0037ff,#002dff,#001cff,#0013ff,#001aff,#001bff,#001dff,#001eff,#002dff,#003aff,#0060ff,#0088ff,#00deff,#36ffc9,#acff53,#f4fd0b,#ffa400,#ff7c00,#ff6200,#ffc400,#aeff52,#59ffa6,#00ddff,#0092ff,#0046ff,#002dff,#001cff,#0017ff,#0016ff,#001eff,#001eff,#0019ff,#0016ff,#0013ff,#000cff,#000aff,#0011ff,#0014ff,#0016ff,#001bff,#0021ff,#000cff,#0003fe,#0017ff,#001fff,#001cff,#0017ff,#0013ff,#0011ff,#000fff,#0019ff,#0018ff,#0012ff,#000bff,#0003fa,#0006ff,#000eff,#000fff,#0013ff,#0019ff,#001cff,#001cff,#0027ff,#0029ff,#0014ff,#000eff,#0016ff,#001fff,#0033ff,#002cff,#0022ff,#0021ff,#0022ff,#0022ff,#0012ff,#0003ff,#0002fd,#0003fd,#0012ff,#0017ff,#000eff,#0009ff,#0000fd,#000cff,#0027ff,#0027ff,#0026ff,#0027ff,#0028ff,#0025ff,#0025ff,#0027ff,#0028ff,#0029ff,#0035ff,#0032ff,#0016ff,#001dff,#002eff,#002cff)"></i>
<i style="background:linear-gradient(90deg,#006dff,#009aff,#00f0ff,#14ffec,#2effd1,#28ffd8,#2dffd3,#2dffd2,#0bfff5,#00e6ff,#00b3ff,#0095ff,#0070ff,#0048ff,#0011ff,#0015ff,#0021ff,#001aff,#0012ff,#000aff,#000aff,#000dff,#001bff,#0027ff,#001aff,#0013ff,#0022ff,#0020ff,#0002fd,#0000fc,#0000fa,#0006ff,#0010ff,#0000fa,#0000f6,#000aff,#000aff,#0005ff,#0009ff,#000dff,#0008ff,#0008ff,#000eff,#0014ff,#0023ff,#001cff,#0014ff,#0018ff,#0018ff,#000fff,#000fff,#0013ff,#001eff,#0024ff,#0000f5,#0000ea,#0021ff,#002dff,#0033ff,#0032ff,#0030ff,#0087ff,#00acff,#005fff,#0032ff,#002cff,#0014ff,#0007ff,#0011ff,#0013ff,#0019ff,#0019ff,#0022ff,#0032ff,#0063ff,#008aff,#00e0ff,#43ffbd,#b4ff4c,#cdff33,#ffe400,#ff9400,#ff9b00,#e3ff1c,#9aff66,#53ffad,#00d2ff,#0089ff,#0042ff,#002dff,#0022ff,#0022ff,#001fff,#0010ff,#0010ff,#0015ff,#0009ff,#0002fd,#001bff,#0024ff,#0023ff,#0024ff,#001fff,#0022ff,#0027ff,#001dff,#0015ff,#0012ff,#0017ff,#0020ff,#0023ff,#0025ff,#0022ff,#001fff,#0017ff,#0013ff,#000dff,#0015ff,#0028ff,#0020ff,#0019ff,#001dff,#001cff,#0011ff,#001bff,#0029ff,#002bff,#0027ff,#0011ff,#000dff,#0024ff,#0028ff,#0028ff,#0029ff,#002bff,#002bff,#0029ff,#001fff,#0014ff,#0011ff,#0016ff,#001eff,#0011ff,#000eff,#000aff,#0007ff,#0003ff,#000fff,#0025ff,#0021ff,#001dff,#0024ff,#002eff,#0034ff,#0029ff,#001eff,#0033ff,#003cff,#0031ff,#002cff,#0021ff,#0028ff,#0039ff,#0037ff)"></i>
<i style="background:linear-gradient(90deg,#0070ff,#00a1ff,#00f9ff,#15ffeb,#29ffd7,#20ffdf,#20ffdf,#1affe6,#00f6ff,#00d3ff,#00a9ff,#008eff,#006bff,#0045ff,#000fff,#0014ff,#0023ff,#001dff,#0017ff,#000eff,#000eff,#0017ff,#0026ff,#0032ff,#001dff,#0013ff,#0026ff,#0025ff,#000aff,#0005ff,#0000fc,#0009ff,#0012ff,#0000f6,#0000f4,#0013ff,#0012ff,#0009ff,#0004ff,#0003ff,#000dff,#0010ff,#000eff,#0014ff,#0021ff,#0020ff,#001fff,#001dff,#001aff,#0014ff,#000fff,#0009ff,#0012ff,#0017ff,#0000ef,#0000e7,#0028ff,#0035ff,#0036ff,#0035ff,#0034ff,#008dff,#00afff,#005eff,#002dff,#0027ff,#0011ff,#0003ff,#000eff,#0011ff,#0018ff,#0018ff,#001dff,#002fff,#0063ff,#0089ff,#00deff,#45ffba,#cdff33,#d9ff27,#fcff04,#ffca00,#fef302,#abff55,#90ff6f,#51ffaf,#00cfff,#0088ff,#0043ff,#002eff,#0024ff,#0028ff,#0024ff,#000bff,#000aff,#0013ff,#0006ff,#0000fa,#0023ff,#002fff,#002bff,#002aff,#0022ff,#0026ff,#002bff,#0027ff,#0020ff,#0010ff,#0011ff,#0020ff,#0026ff,#002aff,#0028ff,#0026ff,#0015ff,#0010ff,#000bff,#0019ff,#0039ff,#002aff,#001bff,#0023ff,#0021ff,#000eff,#0019ff,#002bff,#0028ff,#0023ff,#000eff,#000aff,#002aff,#002bff,#0023ff,#0028ff,#002dff,#002cff,#0028ff,#001cff,#0014ff,#0017ff,#0021ff,#002bff,#0013ff,#000cff,#000dff,#000cff,#000bff,#0015ff,#0028ff,#0020ff,#001cff,#0025ff,#0031ff,#003cff,#002dff,#001bff,#0036ff,#0042ff,#002eff,#002bff,#0028ff,#002eff,#003dff,#0039ff)"></i>
<i style="background:linear-gradient(90deg,#006fff,#0097ff,#00dfff,#00f4ff,#0afff6,#10fff0,#21ffdf,#2bffd4,#00f2ff,#00c0ff,#00b0ff,#009bff,#006aff,#004aff,#0029ff,#001aff,#000aff,#000eff,#000fff,#000dff,#0013ff,#0022ff,#001cff,#0015ff,#000dff,#0009ff,#0018ff,#0019ff,#0011ff,#000bff,#0002ff,#000aff,#0010ff,#0000f9,#0000fb,#001bff,#0015ff,#0005ff,#0006ff,#0007ff,#001fff,#0022ff,#0009ff,#0009ff,#000cff,#000cff,#0011ff,#001fff,#0025ff,#0017ff,#000eff,#0007ff,#000fff,#0013ff,#0004fd,#0004fc,#002dff,#003bff,#0049ff,#0058ff,#0077ff,#00b3ff,#00b4ff,#0061ff,#0024ff,#0017ff,#0016ff,#0019ff,#001dff,#001dff,#001aff,#0019ff,#0021ff,#0032ff,#0065ff,#0085ff,#00d2ff,#36ffca,#f9f907,#ffd000,#f0ff10,#efff10,#faff05,#e0ff20,#9bff65,#53ffac,#00ddff,#0095ff,#004dff,#002eff,#0018ff,#0025ff,#0028ff,#0016ff,#0015ff,#001cff,#001bff,#001aff,#001dff,#001eff,#001bff,#001cff,#001fff,#0024ff,#002cff,#002bff,#0024ff,#0009ff,#0009ff,#0021ff,#001fff,#001bff,#0021ff,#0022ff,#000cff,#0008ff,#0008ff,#0012ff,#0029ff,#0019ff,#000bff,#001fff,#0026ff,#0016ff,#001aff,#0024ff,#0021ff,#001eff,#000dff,#000aff,#0027ff,#002dff,#0034ff,#0030ff,#0029ff,#001eff,#0018ff,#001cff,#0017ff,#0013ff,#001dff,#0028ff,#001cff,#0019ff,#002bff,#0029ff,#001eff,#0023ff,#002cff,#0025ff,#0020ff,#0022ff,#002aff,#0034ff,#002fff,#0026ff,#0031ff,#0037ff,#002eff,#002dff,#0028ff,#002bff,#002fff,#002cff)"></i>
<i style="background:linear-gradient(90deg,#0070ff,#0091ff,#00ccff,#00dcff,#00f2ff,#03fffc,#21ffdf,#38ffc8,#00f0ff,#00b3ff,#00b6ff,#00a6ff,#0069ff,#004eff,#003bff,#001eff,#0000f7,#0003ff,#000bff,#000eff,#0017ff,#0029ff,#0016ff,#0001ff,#0001ff,#0001ff,#000dff,#0010ff,#0016ff,#0011ff,#0006ff,#000bff,#000dff,#0000fc,#0001ff,#0020ff,#0016ff,#0004ff,#0007ff,#000aff,#002bff,#002eff,#0005ff,#0001ff,#0000fb,#0000fd,#0007ff,#0022ff,#002eff,#001aff,#000dff,#0006ff,#000dff,#0011ff,#0010ff,#0013ff,#0031ff,#0040ff,#0056ff,#0071ff,#00aaff,#00d2ff,#00bcff,#0065ff,#001fff,#000dff,#001cff,#002bff,#0029ff,#0025ff,#001bff,#001aff,#0023ff,#0034ff,#0065ff,#0081ff,#00c8ff,#28ffd8,#fdf702,#ffb700,#e3ff1d,#c7ff38,#fffd00,#fff300,#a2ff5d,#55ffaa,#00e7ff,#009eff,#0054ff,#002dff,#0010ff,#0022ff,#0029ff,#001dff,#001cff,#0023ff,#002aff,#0030ff,#001aff,#0012ff,#0010ff,#0012ff,#001cff,#0022ff,#002dff,#002eff,#0027ff,#0005ff,#0002ff,#0021ff,#001aff,#000fff,#001dff,#0020ff,#0006ff,#0002ff,#0007ff,#000eff,#001cff,#000cff,#0001ff,#001dff,#0029ff,#001cff,#001bff,#001fff,#001bff,#0019ff,#000cff,#000aff,#0025ff,#002fff,#0040ff,#0036ff,#0027ff,#0013ff,#000cff,#001cff,#0018ff,#0011ff,#001bff,#0027ff,#0023ff,#0023ff,#003fff,#003eff,#002cff,#002dff,#002eff,#0029ff,#0023ff,#0020ff,#0025ff,#002eff,#0030ff,#002fff,#002dff,#002fff,#002eff,#002fff,#0029ff,#0028ff,#0024ff,#0021ff)"></i>
<i style="background:linear-gradient(90deg,#007fff,#009dff,#00d0ff,#00deff,#00f2ff,#04fffb,#1fffe0,#32ffcd,#00faff,#00c8ff,#00d7ff,#00c7ff,#0071ff,#0052ff,#0036ff,#001dff,#0000fd,#000cff,#0016ff,#0019ff,#001bff,#001fff,#0019ff,#0013ff,#0009ff,#0005ff,#000eff,#0010ff,#0013ff,#000fff,#0006ff,#0006ff,#0005ff,#0000fd,#0000fe,#000bff,#000bff,#000aff,#0008ff,#0008ff,#001bff,#001dff,#0003ff,#0005ff,#000cff,#0008ff,#0008ff,#0024ff,#0030ff,#0021ff,#0013ff,#0007ff,#000cff,#0010ff,#0014ff,#0019ff,#0034ff,#0040ff,#0044ff,#005fff,#009fff,#00e7ff,#00e5ff,#0087ff,#003aff,#0026ff,#002eff,#003aff,#002dff,#0025ff,#0017ff,#0014ff,#0014ff,#0029ff,#0066ff,#0081ff,#00c8ff,#2cffd3,#caff36,#e3ff1c,#d5ff2a,#deff22,#fffe00,#fdfd02,#92ff6d,#46ffb9,#00ddff,#0094ff,#0048ff,#002bff,#0016ff,#0018ff,#0019ff,#0016ff,#001bff,#0025ff,#002aff,#002eff,#0026ff,#0022ff,#0018ff,#0017ff,#0018ff,#001eff,#0028ff,#002bff,#0027ff,#0010ff,#000dff,#0022ff,#0018ff,#000dff,#0019ff,#001bff,#0004ff,#0002ff,#000bff,#0012ff,#0023ff,#0016ff,#000dff,#0021ff,#002bff,#0022ff,#0021ff,#0023ff,#0018ff,#0011ff,#0010ff,#0011ff,#0021ff,#0028ff,#0037ff,#0033ff,#002cff,#001aff,#0010ff,#0014ff,#0010ff,#000eff,#001bff,#002aff,#001eff,#001cff,#0029ff,#0029ff,#0020ff,#0021ff,#0023ff,#0028ff,#002bff,#0023ff,#0025ff,#002cff,#0032ff,#0036ff,#0031ff,#0031ff,#0033ff,#0033ff,#0026ff,#0022ff,#0018ff,#0018ff)"></i>
<i style="background:linear-gradient(90deg,#008cff,#00a5ff,#00d4ff,#00e2ff,#00f6ff,#08fff7,#20ffe0,#2dffd2,#0afff6,#00e5ff,#04fdfc,#00f0ff,#007bff,#0056ff,#0030ff,#001bff,#0004ff,#0014ff,#001fff,#0024ff,#001eff,#0013ff,#001bff,#0025ff,#0010ff,#0007ff,#000fff,#0010ff,#000fff,#000cff,#0006ff,#0001ff,#0000fb,#0000ff,#0000fe,#0000f5,#0002ff,#0015ff,#000eff,#0009ff,#000cff,#000dff,#0007ff,#000dff,#0021ff,#0017ff,#000cff,#0026ff,#0034ff,#002bff,#001aff,#0009ff,#000bff,#000dff,#0016ff,#001dff,#0035ff,#003eff,#002dff,#0048ff,#008bff,#00f6ff,#13ffed,#00b1ff,#0061ff,#004bff,#0048ff,#004dff,#0034ff,#0028ff,#0018ff,#0013ff,#0009ff,#0022ff,#006cff,#0086ff,#00ccff,#39ffc7,#abff54,#a0ff60,#d2ff2e,#fdfd02,#fff900,#f3ff0c,#7fff80,#34ffcc,#00cfff,#0087ff,#003aff,#0028ff,#001dff,#000dff,#0007ff,#000fff,#0018ff,#0026ff,#0029ff,#002bff,#0032ff,#0032ff,#0020ff,#001eff,#0016ff,#001aff,#0022ff,#0024ff,#0025ff,#001cff,#001bff,#0026ff,#0019ff,#000cff,#0014ff,#0015ff,#0002ff,#0001ff,#000eff,#0017ff,#002aff,#0020ff,#0019ff,#0024ff,#002bff,#0028ff,#0028ff,#002aff,#0018ff,#000cff,#0017ff,#0019ff,#001dff,#0022ff,#002cff,#002eff,#0030ff,#0020ff,#0013ff,#0009ff,#0004ff,#0007ff,#001aff,#002cff,#0018ff,#0012ff,#000fff,#000fff,#0010ff,#0011ff,#0014ff,#0027ff,#0033ff,#0026ff,#0023ff,#0026ff,#0033ff,#003cff,#0035ff,#0035ff,#0038ff,#0038ff,#0025ff,#001eff,#000dff,#0011ff)"></i>
<i style="background:linear-gradient(90deg,#0081ff,#008dff,#00aeff,#00e0ff,#08fff7,#0dfff2,#19ffe6,#18ffe8,#07fff9,#00f1ff,#00f5ff,#00deff,#0084ff,#0062ff,#0044ff,#002aff,#000aff,#0017ff,#001fff,#001eff,#0016ff,#000cff,#0015ff,#001fff,#0014ff,#0010ff,#0012ff,#0011ff,#000dff,#000eff,#000fff,#000cff,#0007ff,#000cff,#000aff,#0002fc,#0009ff,#0019ff,#0019ff,#0019ff,#0013ff,#0013ff,#0016ff,#001bff,#0026ff,#001eff,#0015ff,#0023ff,#002eff,#0033ff,#0026ff,#0014ff,#0014ff,#0013ff,#0016ff,#001aff,#0023ff,#002dff,#002aff,#0047ff,#0089ff,#00cdff,#00d8ff,#009cff,#0067ff,#005aff,#0043ff,#0039ff,#002cff,#0026ff,#0020ff,#001fff,#001aff,#002eff,#006cff,#0089ff,#00d7ff,#44ffbc,#aeff51,#99ff66,#daff25,#ffeb00,#fdfd02,#ddff23,#7dff83,#35ffca,#00d1ff,#008eff,#004aff,#002dff,#0019ff,#000aff,#0007ff,#0014ff,#001aff,#001fff,#0020ff,#0021ff,#0029ff,#002bff,#0023ff,#0023ff,#001cff,#001aff,#0014ff,#001aff,#001fff,#001bff,#001aff,#001cff,#0013ff,#000aff,#0015ff,#0018ff,#0009ff,#0008ff,#000bff,#0013ff,#0026ff,#001fff,#001aff,#001cff,#0020ff,#0022ff,#0022ff,#0021ff,#0017ff,#000eff,#0018ff,#0017ff,#0012ff,#0015ff,#001bff,#0021ff,#0027ff,#0017ff,#000dff,#0007ff,#0003ff,#0005ff,#0012ff,#0021ff,#001bff,#0018ff,#0012ff,#0011ff,#0012ff,#0014ff,#0018ff,#002aff,#0037ff,#002dff,#0029ff,#0027ff,#0033ff,#003cff,#0034ff,#0033ff,#0030ff,#0033ff,#0033ff,#0031ff,#0029ff,#0029ff)"></i>
<i style="background:linear-gradient(90deg,#0070ff,#0067ff,#006fff,#00dbff,#25ffdb,#14ffec,#0bfff4,#00f1ff,#00fbff,#00fcff,#00d2ff,#00b3ff,#008cff,#0071ff,#0066ff,#0043ff,#0016ff,#001bff,#001cff,#0013ff,#0009ff,#0004ff,#000cff,#0014ff,#001cff,#0021ff,#0017ff,#0015ff,#000bff,#0011ff,#001dff,#001cff,#0019ff,#001fff,#001cff,#000fff,#0012ff,#0019ff,#0027ff,#002fff,#001eff,#001bff,#002aff,#002aff,#0024ff,#0024ff,#0021ff,#001bff,#0021ff,#003eff,#0037ff,#0026ff,#0023ff,#001eff,#0019ff,#001aff,#0007ff,#0012ff,#002aff,#0048ff,#008dff,#008aff,#0070ff,#006dff,#005fff,#0064ff,#0032ff,#0011ff,#001aff,#001eff,#0029ff,#002cff,#0031ff,#003eff,#0067ff,#008bff,#00e3ff,#51ffaf,#b8ff47,#9aff65,#e5ff1a,#ffcf00,#f1ff0e,#b8ff47,#7eff81,#3dffc3,#00d7ff,#009aff,#0066ff,#0037ff,#0010ff,#0007ff,#0009ff,#001eff,#001cff,#0012ff,#0012ff,#0013ff,#001bff,#001dff,#0027ff,#002aff,#0025ff,#0017ff,#0001fc,#0009ff,#0015ff,#0017ff,#0013ff,#000aff,#0008ff,#0008ff,#0019ff,#001fff,#0017ff,#0014ff,#0006ff,#000dff,#001fff,#001cff,#0018ff,#000eff,#000eff,#0018ff,#0015ff,#0010ff,#0013ff,#0011ff,#0017ff,#0014ff,#0002fe,#0002fe,#0003fe,#000cff,#0019ff,#000cff,#0006ff,#000aff,#0007ff,#0005ff,#0009ff,#0011ff,#001fff,#0023ff,#001aff,#0019ff,#0017ff,#0019ff,#0020ff,#0030ff,#003cff,#0039ff,#0034ff,#002cff,#0034ff,#003bff,#0032ff,#0030ff,#0022ff,#0029ff,#004aff,#004eff,#0055ff,#004eff)"></i>
<i style="background:linear-gradient(90deg,#006eff,#0063ff,#006bff,#00d7ff,#21ffde,#13ffec,#0bfff4,#00efff,#00fcff,#00ffff,#00d0ff,#00afff,#008fff,#0074ff,#0067ff,#0046ff,#0019ff,#001bff,#0019ff,#000fff,#0006ff,#0003ff,#0009ff,#0010ff,#001aff,#0020ff,#0016ff,#0015ff,#000bff,#0012ff,#001fff,#001eff,#001dff,#0021ff,#001eff,#0012ff,#0015ff,#001cff,#0029ff,#0031ff,#0022ff,#0020ff,#002dff,#002dff,#0025ff,#0026ff,#0024ff,#001cff,#0021ff,#003dff,#0036ff,#0025ff,#0023ff,#001eff,#0017ff,#0017ff,#0004ff,#0010ff,#0028ff,#0047ff,#008fff,#0083ff,#0065ff,#006bff,#0062ff,#0066ff,#0033ff,#0011ff,#001aff,#001fff,#002cff,#0031ff,#003aff,#0044ff,#0067ff,#008bff,#00e5ff,#50ffaf,#b9ff46,#a1ff5e,#e9ff16,#ffd100,#f3ff0c,#bdff42,#87ff78,#45ffba,#00d7ff,#009bff,#0069ff,#0038ff,#000fff,#0007ff,#0009ff,#001dff,#0019ff,#000fff,#0010ff,#0012ff,#0018ff,#001bff,#0026ff,#002bff,#0026ff,#0018ff,#0000fd,#0009ff,#0015ff,#0015ff,#0012ff,#0009ff,#0008ff,#0008ff,#0018ff,#001eff,#0017ff,#0013ff,#0005ff,#000cff,#001dff,#001bff,#0017ff,#000cff,#000cff,#0017ff,#0015ff,#000eff,#0013ff,#0011ff,#0015ff,#0011ff,#0000fe,#0000fd,#0000fc,#0007ff,#0013ff,#000aff,#0006ff,#000bff,#0008ff,#0005ff,#0007ff,#000eff,#001eff,#0023ff,#001aff,#0019ff,#0019ff,#001bff,#0022ff,#0030ff,#003cff,#0039ff,#0034ff,#002bff,#0033ff,#003bff,#0030ff,#002dff,#0020ff,#0028ff,#004eff,#0052ff,#0058ff,#0051ff)"></i>
</div></div>
<div id="cbar"></div>
<svg width="520" height="555" viewBox="0 0 520 555">
<defs><filter id="vb" x="0" y="0" width="100%" height="100%" color-interpolation-filters="sRGB"><feGaussianBlur stdDeviation="0.6 1.2"/></filter></defs>
<line x1="51.20" y1="218.30" x2="51.20" y2="222.30" stroke="#333" stroke-width="0.7"/>
<line x1="51.20" y1="5.40" x2="51.20" y2="2.20" stroke="#333" stroke-width="0.7"/>
<line x1="64.77" y1="218.30" x2="64.77" y2="220.50" stroke="#333" stroke-width="0.7"/>
<line x1="64.77" y1="5.40" x2="64.77" y2="3.64" stroke="#333" stroke-width="0.7"/>
<line x1="78.33" y1="218.30" x2="78.33" y2="220.50" stroke="#333" stroke-width="0.7"/>
<line x1="78.33" y1="5.40" x2="78.33" y2="3.64" stroke="#333" stroke-width="0.7"/>
<line x1="91.90" y1="218.30" x2="91.90" y2="220.50" stroke="#333" stroke-width="0.7"/>
<line x1="91.90" y1="5.40" x2="91.90" y2="3.64" stroke="#333" stroke-width="0.7"/>
<line x1="105.47" y1="218.30" x2="105.47" y2="220.50" stroke="#333" stroke-width="0.7"/>
<line x1="105.47" y1="5.40" x2="105.47" y2="3.64" stroke="#333" stroke-width="0.7"/>
<line x1="119.03" y1="218.30" x2="119.03" y2="222.30" stroke="#333" stroke-width="0.7"/>
<line x1="119.03" y1="5.40" x2="119.03" y2="2.20" stroke="#333" stroke-width="0.7"/>
<line x1="132.60" y1="218.30" x2="132.60" y2="220.50" stroke="#333" stroke-width="0.7"/>
<line x1="132.60" y1="5.40" x2="132.60" y2="3.64" stroke="#333" stroke-width="0.7"/>
<line x1="146.17" y1="218.30" x2="146.17" y2="220.50" stroke="#333" stroke-width="0.7"/>
<line x1="146.17" y1="5.40" x2="146.17" y2="3.64" stroke="#333" stroke-width="0.7"/>
<line x1="159.73" y1="218.30" x2="159.73" y2="220.50" stroke="#333" stroke-width="0.7"/>
<line x1="159.73" y1="5.40" x2="159.73" y2="3.64" stroke="#333" stroke-width="0.7"/>
<line x1="173.30" y1="218.30" x2="173.30" y2="220.50" stroke="#333" stroke-width="0.7"/>
<line x1="173.30" y1="5.40" x2="173.30" y2="3.64" stroke="#333" stroke-width="0.7"/>
<line x1="186.87" y1="218.30" x2="186.87" y2="222.30" stroke="#333" stroke-width="0.7"/>
<line x1="186.87" y1="5.40" x2="186.87" y2="2.20" stroke="#333" stroke-width="0.7"/>
<line x1="200.43" y1="218.30" x2="200.43" y2="220.50" stroke="#333" stroke-width="0.7"/>
<line x1="200.43" y1="5.40" x2="200.43" y2="3.64" stroke="#333" stroke-width="0.7"/>
<line x1="214.00" y1="218.30" x2="214.00" y2="220.50" stroke="#333" stroke-width="0.7"/>
<line x1="214.00" y1="5.40" x2="214.00" y2="3.64" stroke="#333" stroke-width="0.7"/>
<line x1="227.57" y1="218.30" x2="227.57" y2="220.50" stroke="#333" stroke-width="0.7"/>
<line x1="227.57" y1="5.40" x2="227.57" y2="3.64" stroke="#333" stroke-width="0.7"/>
<line x1="241.13" y1="218.30" x2="241.13" y2="220.50" stroke="#333" stroke-width="0.7"/>
<line x1="241.13" y1="5.40" x2="241.13" y2="3.64" stroke="#333" stroke-width="0.7"/>
<line x1="254.70" y1="218.30" x2="254.70" y2="222.30" stroke="#333" stroke-width="0.7"/>
<line x1="254.70" y1="5.40" x2="254.70" y2="2.20" stroke="#333" stroke-width="0.7"/>
<line x1="268.27" y1="218.30" x2="268.27" y2="220.50" stroke="#333" stroke-width="0.7"/>
<line x1="268.27" y1="5.40" x2="268.27" y2="3.64" stroke="#333" stroke-width="0.7"/>
<line x1="281.83" y1="218.30" x2="281.83" y2="220.50" stroke="#333" stroke-width="0.7"/>
<line x1="281.83" y1="5.40" x2="281.83" y2="3.64" stroke="#333" stroke-width="0.7"/>
<line x1="295.40" y1="218.30" x2="295.40" y2="220.50" stroke="#333" stroke-width="0.7"/>
<line x1="295.40" y1="5.40" x2="295.40" y2="3.64" stroke="#333" stroke-width="0.7"/>
<line x1="308.97" y1="218.30" x2="308.97" y2="220.50" stroke="#333" stroke-width="0.7"/>
<line x1="308.97" y1="5.40" x2="308.97" y2="3.64" stroke="#333" stroke-width="0.7"/>
<line x1="322.53" y1="218.30" x2="322.53" y2="222.30" stroke="#333" stroke-width="0.7"/>
<line x1="322.53" y1="5.40" x2="322.53" y2="2.20" stroke="#333" stroke-width="0.7"/>
<line x1="336.10" y1="218.30" x2="336.10" y2="220.50" stroke="#333" stroke-width="0.7"/>
<line x1="336.10" y1="5.40" x2="336.10" y2="3.64" stroke="#333" stroke-width="0.7"/>
<line x1="349.67" y1="218.30" x2="349.67" y2="220.50" stroke="#333" stroke-width="0.7"/>
<line x1="349.67" y1="5.40" x2="349.67" y2="3.64" stroke="#333" stroke-width="0.7"/>
<line x1="363.23" y1="218.30" x2="363.23" y2="220.50" stroke="#333" stroke-width="0.7"/>
<line x1="363.23" y1="5.40" x2="363.23" y2="3.64" stroke="#333" stroke-width="0.7"/>
<line x1="376.80" y1="218.30" x2="376.80" y2="220.50" stroke="#333" stroke-width="0.7"/>
<line x1="376.80" y1="5.40" x2="376.80" y2="3.64" stroke="#333" stroke-width="0.7"/>
<line x1="390.37" y1="218.30" x2="390.37" y2="222.30" stroke="#333" stroke-width="0.7"/>
<line x1="390.37" y1="5.40" x2="390.37" y2="2.20" stroke="#333" stroke-width="0.7"/>
<line x1="403.93" y1="218.30" x2="403.93" y2="220.50" stroke="#333" stroke-width="0.7"/>
<line x1="403.93" y1="5.40" x2="403.93" y2="3.64" stroke="#333" stroke-width="0.7"/>
<line x1="417.50" y1="218.30" x2="417.50" y2="220.50" stroke="#333" stroke-width="0.7"/>
<line x1="417.50" y1="5.40" x2="417.50" y2="3.64" stroke="#333" stroke-width="0.7"/>
<line x1="431.07" y1="218.30" x2="431.07" y2="220.50" stroke="#333" stroke-width="0.7"/>
<line x1="431.07" y1="5.40" x2="431.07" y2="3.64" stroke="#333" stroke-width="0.7"/>
<line x1="444.63" y1="218.30" x2="444.63" y2="220.50" stroke="#333" stroke-width="0.7"/>
<line x1="444.63" y1="5.40" x2="444.63" y2="3.64" stroke="#333" stroke-width="0.7"/>
<line x1="458.20" y1="218.30" x2="458.20" y2="222.30" stroke="#333" stroke-width="0.7"/>
<line x1="458.20" y1="5.40" x2="458.20" y2="2.20" stroke="#333" stroke-width="0.7"/>
<line x1="51.20" y1="218.30" x2="47.00" y2="218.30" stroke="#333" stroke-width="0.7"/>
<line x1="458.20" y1="218.30" x2="461.56" y2="218.30" stroke="#333" stroke-width="0.7"/>
<line x1="51.20" y1="207.66" x2="48.80" y2="207.66" stroke="#333" stroke-width="0.7"/>
<line x1="458.20" y1="207.66" x2="460.12" y2="207.66" stroke="#333" stroke-width="0.7"/>
<line x1="51.20" y1="197.01" x2="48.80" y2="197.01" stroke="#333" stroke-width="0.7"/>
<line x1="458.20" y1="197.01" x2="460.12" y2="197.01" stroke="#333" stroke-width="0.7"/>
<line x1="51.20" y1="186.37" x2="48.80" y2="186.37" stroke="#333" stroke-width="0.7"/>
<line x1="458.20" y1="186.37" x2="460.12" y2="186.37" stroke="#333" stroke-width="0.7"/>
<line x1="51.20" y1="175.72" x2="48.80" y2="175.72" stroke="#333" stroke-width="0.7"/>
<line x1="458.20" y1="175.72" x2="460.12" y2="175.72" stroke="#333" stroke-width="0.7"/>
<line x1="51.20" y1="165.08" x2="47.00" y2="165.08" stroke="#333" stroke-width="0.7"/>
<line x1="458.20" y1="165.08" x2="461.56" y2="165.08" stroke="#333" stroke-width="0.7"/>
<line x1="51.20" y1="154.43" x2="48.80" y2="154.43" stroke="#333" stroke-width="0.7"/>
<line x1="458.20" y1="154.43" x2="460.12" y2="154.43" stroke="#333" stroke-width="0.7"/>
<line x1="51.20" y1="143.79" x2="48.80" y2="143.79" stroke="#333" stroke-width="0.7"/>
<line x1="458.20" y1="143.79" x2="460.12" y2="143.79" stroke="#333" stroke-width="0.7"/>
<line x1="51.20" y1="133.14" x2="48.80" y2="133.14" stroke="#333" stroke-width="0.7"/>
<line x1="458.20" y1="133.14" x2="460.12" y2="133.14" stroke="#333" stroke-width="0.7"/>
<line x1="51.20" y1="122.50" x2="48.80" y2="122.50" stroke="#333" stroke-width="0.7"/>
<line x1="458.20" y1="122.50" x2="460.12" y2="122.50" stroke="#333" stroke-width="0.7"/>
<line x1="51.20" y1="111.85" x2="47.00" y2="111.85" stroke="#333" stroke-width="0.7"/>
<line x1="458.20" y1="111.85" x2="461.56" y2="111.85" stroke="#333" stroke-width="0.7"/>
<line x1="51.20" y1="101.21" x2="48.80" y2="101.21" stroke="#333" stroke-width="0.7"/>
<line x1="458.20" y1="101.21" x2="460.12" y2="101.21" stroke="#333" stroke-width="0.7"/>
<line x1="51.20" y1="90.56" x2="48.80" y2="90.56" stroke="#333" stroke-width="0.7"/>
<line x1="458.20" y1="90.56" x2="460.12" y2="90.56" stroke="#333" stroke-width="0.7"/>
<line x1="51.20" y1="79.92" x2="48.80" y2="79.92" stroke="#333" stroke-width="0.7"/>
<line x1="458.20" y1="79.92" x2="460.12" y2="79.92" stroke="#333" stroke-width="0.7"/>
<line x1="51.20" y1="69.27" x2="48.80" y2="69.27" stroke="#333" stroke-width="0.7"/>
<line x1="458.20" y1="69.27" x2="460.12" y2="69.27" stroke="#333" stroke-width="0.7"/>
<line x1="51.20" y1="58.62" x2="47.00" y2="58.62" stroke="#333" stroke-width="0.7"/>
<line x1="458.20" y1="58.62" x2="461.56" y2="58.62" stroke="#333" stroke-width="0.7"/>
<line x1="51.20" y1="47.98" x2="48.80" y2="47.98" stroke="#333" stroke-width="0.7"/>
<line x1="458.20" y1="47.98" x2="460.12" y2="47.98" stroke="#333" stroke-width="0.7"/>
<line x1="51.20" y1="37.34" x2="48.80" y2="37.34" stroke="#333" stroke-width="0.7"/>
<line x1="458.20" y1="37.34" x2="460.12" y2="37.34" stroke="#333" stroke-width="0.7"/>
<line x1="51.20" y1="26.69" x2="48.80" y2="26.69" stroke="#333" stroke-width="0.7"/>
<line x1="458.20" y1="26.69" x2="460.12" y2="26.69" stroke="#333" stroke-width="0.7"/>
<line x1="51.20" y1="16.05" x2="48.80" y2="16.05" stroke="#333" stroke-width="0.7"/>
<line x1="458.20" y1="16.05" x2="460.12" y2="16.05" stroke="#333" stroke-width="0.7"/>
<line x1="51.20" y1="5.40" x2="47.00" y2="5.40" stroke="#333" stroke-width="0.7"/>
<line x1="458.20" y1="5.40" x2="461.56" y2="5.40" stroke="#333" stroke-width="0.7"/>
<rect x="51.20" y="5.40" width="407.00" height="212.90" fill="none" stroke="#001060" stroke-opacity="0.35" stroke-width="0.7"/>
<text x="50.80" y="243.40" font-size="16.0" font-weight="bold" text-anchor="middle" fill="#000" stroke="#000" stroke-width="0.35">-30</text>
<text x="118.63" y="243.40" font-size="16.0" font-weight="bold" text-anchor="middle" fill="#000" stroke="#000" stroke-width="0.35">-20</text>
<text x="186.47" y="243.40" font-size="16.0" font-weight="bold" text-anchor="middle" fill="#000" stroke="#000" stroke-width="0.35">-10</text>
<text x="254.30" y="243.40" font-size="16.0" font-weight="bold" text-anchor="middle" fill="#000" stroke="#000" stroke-width="0.35">0</text>
<text x="322.13" y="243.40" font-size="16.0" font-weight="bold" text-anchor="middle" fill="#000" stroke="#000" stroke-width="0.35">10</text>
<text x="389.97" y="243.40" font-size="16.0" font-weight="bold" text-anchor="middle" fill="#000" stroke="#000" stroke-width="0.35">20</text>
<text x="457.80" y="243.40" font-size="16.0" font-weight="bold" text-anchor="middle" fill="#000" stroke="#000" stroke-width="0.35">30</text>
<text x="42.60" y="225.10" font-size="16.0" font-weight="bold" text-anchor="end" fill="#000" stroke="#000" stroke-width="0.35">-10</text>
<text x="42.60" y="171.88" font-size="16.0" font-weight="bold" text-anchor="end" fill="#000" stroke="#000" stroke-width="0.35">-5</text>
<text x="42.60" y="118.65" font-size="16.0" font-weight="bold" text-anchor="end" fill="#000" stroke="#000" stroke-width="0.35">0</text>
<text x="42.60" y="65.42" font-size="16.0" font-weight="bold" text-anchor="end" fill="#000" stroke="#000" stroke-width="0.35">5</text>
<text x="42.60" y="12.20" font-size="16.0" font-weight="bold" text-anchor="end" fill="#000" stroke="#000" stroke-width="0.35">10</text>
<text x="254.80" y="263.90" font-size="16.7" font-weight="bold" text-anchor="middle" fill="#000" stroke="#000" stroke-width="0.35">X (mm)</text>
<text transform="translate(12.3,112.3) rotate(-90)" font-size="16.7" font-weight="bold" stroke="#000" stroke-width="0.35" text-anchor="middle">Y (mm)</text>
<text x="78.3" y="36.4" font-size="23.5" font-weight="bold" text-anchor="middle" fill="#fff" stroke="#fff" stroke-width="0.1">(a)</text>
<line x1="474.10" y1="157.47" x2="476.30" y2="157.47" stroke="#333" stroke-width="0.7"/>
<line x1="470.00" y1="157.47" x2="472.20" y2="157.47" stroke="#333" stroke-width="0.7"/>
<line x1="474.10" y1="81.44" x2="476.30" y2="81.44" stroke="#333" stroke-width="0.7"/>
<line x1="470.00" y1="81.44" x2="472.20" y2="81.44" stroke="#333" stroke-width="0.7"/>
<line x1="474.10" y1="5.40" x2="476.30" y2="5.40" stroke="#333" stroke-width="0.7"/>
<line x1="470.00" y1="5.40" x2="472.20" y2="5.40" stroke="#333" stroke-width="0.7"/>
<text x="480.60" y="11.90" font-size="16.0" font-weight="bold" text-anchor="start" fill="#000" stroke="#000" stroke-width="0.35">20</text>
<text x="480.40" y="87.74" font-size="16.0" font-weight="bold" text-anchor="start" fill="#000" stroke="#000" stroke-width="0.35">15</text>
<text x="480.40" y="163.77" font-size="16.0" font-weight="bold" text-anchor="start" fill="#000" stroke="#000" stroke-width="0.35">10</text>
<text transform="translate(516.0,111.7) rotate(-90)" font-size="16.5" font-weight="bold" stroke="#000" stroke-width="0.35" text-anchor="middle" textLength="112.5">Intensity (a.u.)</text>
<rect x="49.70" y="290.00" width="401.50" height="219.20" fill="none" stroke="#303030" stroke-width="1"/>
<line x1="59.74" y1="509.20" x2="59.74" y2="506.60" stroke="#303030" stroke-width="0.9"/>
<line x1="59.74" y1="290.00" x2="59.74" y2="292.60" stroke="#303030" stroke-width="0.9"/>
<line x1="69.78" y1="509.20" x2="69.78" y2="506.60" stroke="#303030" stroke-width="0.9"/>
<line x1="69.78" y1="290.00" x2="69.78" y2="292.60" stroke="#303030" stroke-width="0.9"/>
<line x1="79.81" y1="509.20" x2="79.81" y2="506.60" stroke="#303030" stroke-width="0.9"/>
<line x1="79.81" y1="290.00" x2="79.81" y2="292.60" stroke="#303030" stroke-width="0.9"/>
<line x1="89.85" y1="509.20" x2="89.85" y2="506.60" stroke="#303030" stroke-width="0.9"/>
<line x1="89.85" y1="290.00" x2="89.85" y2="292.60" stroke="#303030" stroke-width="0.9"/>
<line x1="99.89" y1="509.20" x2="99.89" y2="504.60" stroke="#303030" stroke-width="0.9"/>
<line x1="99.89" y1="290.00" x2="99.89" y2="294.60" stroke="#303030" stroke-width="0.9"/>
<line x1="109.92" y1="509.20" x2="109.92" y2="506.60" stroke="#303030" stroke-width="0.9"/>
<line x1="109.92" y1="290.00" x2="109.92" y2="292.60" stroke="#303030" stroke-width="0.9"/>
<line x1="119.96" y1="509.20" x2="119.96" y2="506.60" stroke="#303030" stroke-width="0.9"/>
<line x1="119.96" y1="290.00" x2="119.96" y2="292.60" stroke="#303030" stroke-width="0.9"/>
<line x1="130.00" y1="509.20" x2="130.00" y2="506.60" stroke="#303030" stroke-width="0.9"/>
<line x1="130.00" y1="290.00" x2="130.00" y2="292.60" stroke="#303030" stroke-width="0.9"/>
<line x1="140.04" y1="509.20" x2="140.04" y2="506.60" stroke="#303030" stroke-width="0.9"/>
<line x1="140.04" y1="290.00" x2="140.04" y2="292.60" stroke="#303030" stroke-width="0.9"/>
<line x1="150.07" y1="509.20" x2="150.07" y2="504.60" stroke="#303030" stroke-width="0.9"/>
<line x1="150.07" y1="290.00" x2="150.07" y2="294.60" stroke="#303030" stroke-width="0.9"/>
<line x1="160.11" y1="509.20" x2="160.11" y2="506.60" stroke="#303030" stroke-width="0.9"/>
<line x1="160.11" y1="290.00" x2="160.11" y2="292.60" stroke="#303030" stroke-width="0.9"/>
<line x1="170.15" y1="509.20" x2="170.15" y2="506.60" stroke="#303030" stroke-width="0.9"/>
<line x1="170.15" y1="290.00" x2="170.15" y2="292.60" stroke="#303030" stroke-width="0.9"/>
<line x1="180.19" y1="509.20" x2="180.19" y2="506.60" stroke="#303030" stroke-width="0.9"/>
<line x1="180.19" y1="290.00" x2="180.19" y2="292.60" stroke="#303030" stroke-width="0.9"/>
<line x1="190.22" y1="509.20" x2="190.22" y2="506.60" stroke="#303030" stroke-width="0.9"/>
<line x1="190.22" y1="290.00" x2="190.22" y2="292.60" stroke="#303030" stroke-width="0.9"/>
<line x1="200.26" y1="509.20" x2="200.26" y2="504.60" stroke="#303030" stroke-width="0.9"/>
<line x1="200.26" y1="290.00" x2="200.26" y2="294.60" stroke="#303030" stroke-width="0.9"/>
<line x1="210.30" y1="509.20" x2="210.30" y2="506.60" stroke="#303030" stroke-width="0.9"/>
<line x1="210.30" y1="290.00" x2="210.30" y2="292.60" stroke="#303030" stroke-width="0.9"/>
<line x1="220.34" y1="509.20" x2="220.34" y2="506.60" stroke="#303030" stroke-width="0.9"/>
<line x1="220.34" y1="290.00" x2="220.34" y2="292.60" stroke="#303030" stroke-width="0.9"/>
<line x1="230.38" y1="509.20" x2="230.38" y2="506.60" stroke="#303030" stroke-width="0.9"/>
<line x1="230.38" y1="290.00" x2="230.38" y2="292.60" stroke="#303030" stroke-width="0.9"/>
<line x1="240.41" y1="509.20" x2="240.41" y2="506.60" stroke="#303030" stroke-width="0.9"/>
<line x1="240.41" y1="290.00" x2="240.41" y2="292.60" stroke="#303030" stroke-width="0.9"/>
<line x1="250.45" y1="509.20" x2="250.45" y2="504.60" stroke="#303030" stroke-width="0.9"/>
<line x1="250.45" y1="290.00" x2="250.45" y2="294.60" stroke="#303030" stroke-width="0.9"/>
<line x1="260.49" y1="509.20" x2="260.49" y2="506.60" stroke="#303030" stroke-width="0.9"/>
<line x1="260.49" y1="290.00" x2="260.49" y2="292.60" stroke="#303030" stroke-width="0.9"/>
<line x1="270.53" y1="509.20" x2="270.53" y2="506.60" stroke="#303030" stroke-width="0.9"/>
<line x1="270.53" y1="290.00" x2="270.53" y2="292.60" stroke="#303030" stroke-width="0.9"/>
<line x1="280.56" y1="509.20" x2="280.56" y2="506.60" stroke="#303030" stroke-width="0.9"/>
<line x1="280.56" y1="290.00" x2="280.56" y2="292.60" stroke="#303030" stroke-width="0.9"/>
<line x1="290.60" y1="509.20" x2="290.60" y2="506.60" stroke="#303030" stroke-width="0.9"/>
<line x1="290.60" y1="290.00" x2="290.60" y2="292.60" stroke="#303030" stroke-width="0.9"/>
<line x1="300.64" y1="509.20" x2="300.64" y2="504.60" stroke="#303030" stroke-width="0.9"/>
<line x1="300.64" y1="290.00" x2="300.64" y2="294.60" stroke="#303030" stroke-width="0.9"/>
<line x1="310.68" y1="509.20" x2="310.68" y2="506.60" stroke="#303030" stroke-width="0.9"/>
<line x1="310.68" y1="290.00" x2="310.68" y2="292.60" stroke="#303030" stroke-width="0.9"/>
<line x1="320.71" y1="509.20" x2="320.71" y2="506.60" stroke="#303030" stroke-width="0.9"/>
<line x1="320.71" y1="290.00" x2="320.71" y2="292.60" stroke="#303030" stroke-width="0.9"/>
<line x1="330.75" y1="509.20" x2="330.75" y2="506.60" stroke="#303030" stroke-width="0.9"/>
<line x1="330.75" y1="290.00" x2="330.75" y2="292.60" stroke="#303030" stroke-width="0.9"/>
<line x1="340.79" y1="509.20" x2="340.79" y2="506.60" stroke="#303030" stroke-width="0.9"/>
<line x1="340.79" y1="290.00" x2="340.79" y2="292.60" stroke="#303030" stroke-width="0.9"/>
<line x1="350.82" y1="509.20" x2="350.82" y2="504.60" stroke="#303030" stroke-width="0.9"/>
<line x1="350.82" y1="290.00" x2="350.82" y2="294.60" stroke="#303030" stroke-width="0.9"/>
<line x1="360.86" y1="509.20" x2="360.86" y2="506.60" stroke="#303030" stroke-width="0.9"/>
<line x1="360.86" y1="290.00" x2="360.86" y2="292.60" stroke="#303030" stroke-width="0.9"/>
<line x1="370.90" y1="509.20" x2="370.90" y2="506.60" stroke="#303030" stroke-width="0.9"/>
<line x1="370.90" y1="290.00" x2="370.90" y2="292.60" stroke="#303030" stroke-width="0.9"/>
<line x1="380.94" y1="509.20" x2="380.94" y2="506.60" stroke="#303030" stroke-width="0.9"/>
<line x1="380.94" y1="290.00" x2="380.94" y2="292.60" stroke="#303030" stroke-width="0.9"/>
<line x1="390.97" y1="509.20" x2="390.97" y2="506.60" stroke="#303030" stroke-width="0.9"/>
<line x1="390.97" y1="290.00" x2="390.97" y2="292.60" stroke="#303030" stroke-width="0.9"/>
<line x1="401.01" y1="509.20" x2="401.01" y2="504.60" stroke="#303030" stroke-width="0.9"/>
<line x1="401.01" y1="290.00" x2="401.01" y2="294.60" stroke="#303030" stroke-width="0.9"/>
<line x1="411.05" y1="509.20" x2="411.05" y2="506.60" stroke="#303030" stroke-width="0.9"/>
<line x1="411.05" y1="290.00" x2="411.05" y2="292.60" stroke="#303030" stroke-width="0.9"/>
<line x1="421.09" y1="509.20" x2="421.09" y2="506.60" stroke="#303030" stroke-width="0.9"/>
<line x1="421.09" y1="290.00" x2="421.09" y2="292.60" stroke="#303030" stroke-width="0.9"/>
<line x1="431.12" y1="509.20" x2="431.12" y2="506.60" stroke="#303030" stroke-width="0.9"/>
<line x1="431.12" y1="290.00" x2="431.12" y2="292.60" stroke="#303030" stroke-width="0.9"/>
<line x1="441.16" y1="509.20" x2="441.16" y2="506.60" stroke="#303030" stroke-width="0.9"/>
<line x1="441.16" y1="290.00" x2="441.16" y2="292.60" stroke="#303030" stroke-width="0.9"/>
<line x1="49.70" y1="490.93" x2="52.30" y2="490.93" stroke="#303030" stroke-width="0.9"/>
<line x1="451.20" y1="490.93" x2="448.60" y2="490.93" stroke="#303030" stroke-width="0.9"/>
<line x1="49.70" y1="472.67" x2="52.30" y2="472.67" stroke="#303030" stroke-width="0.9"/>
<line x1="451.20" y1="472.67" x2="448.60" y2="472.67" stroke="#303030" stroke-width="0.9"/>
<line x1="49.70" y1="454.40" x2="52.30" y2="454.40" stroke="#303030" stroke-width="0.9"/>
<line x1="451.20" y1="454.40" x2="448.60" y2="454.40" stroke="#303030" stroke-width="0.9"/>
<line x1="49.70" y1="436.13" x2="54.10" y2="436.13" stroke="#303030" stroke-width="0.9"/>
<line x1="451.20" y1="436.13" x2="446.80" y2="436.13" stroke="#303030" stroke-width="0.9"/>
<line x1="49.70" y1="417.87" x2="52.30" y2="417.87" stroke="#303030" stroke-width="0.9"/>
<line x1="451.20" y1="417.87" x2="448.60" y2="417.87" stroke="#303030" stroke-width="0.9"/>
<line x1="49.70" y1="399.60" x2="52.30" y2="399.60" stroke="#303030" stroke-width="0.9"/>
<line x1="451.20" y1="399.60" x2="448.60" y2="399.60" stroke="#303030" stroke-width="0.9"/>
<line x1="49.70" y1="381.33" x2="52.30" y2="381.33" stroke="#303030" stroke-width="0.9"/>
<line x1="451.20" y1="381.33" x2="448.60" y2="381.33" stroke="#303030" stroke-width="0.9"/>
<line x1="49.70" y1="363.07" x2="54.10" y2="363.07" stroke="#303030" stroke-width="0.9"/>
<line x1="451.20" y1="363.07" x2="446.80" y2="363.07" stroke="#303030" stroke-width="0.9"/>
<line x1="49.70" y1="344.80" x2="52.30" y2="344.80" stroke="#303030" stroke-width="0.9"/>
<line x1="451.20" y1="344.80" x2="448.60" y2="344.80" stroke="#303030" stroke-width="0.9"/>
<line x1="49.70" y1="326.53" x2="52.30" y2="326.53" stroke="#303030" stroke-width="0.9"/>
<line x1="451.20" y1="326.53" x2="448.60" y2="326.53" stroke="#303030" stroke-width="0.9"/>
<line x1="49.70" y1="308.27" x2="52.30" y2="308.27" stroke="#303030" stroke-width="0.9"/>
<line x1="451.20" y1="308.27" x2="448.60" y2="308.27" stroke="#303030" stroke-width="0.9"/>
<text x="49.20" y="529.60" font-size="16.0" font-weight="bold" text-anchor="middle" fill="#000" stroke="#000" stroke-width="0.35">55</text>
<text x="99.39" y="529.60" font-size="16.0" font-weight="bold" text-anchor="middle" fill="#000" stroke="#000" stroke-width="0.35">60</text>
<text x="149.57" y="529.60" font-size="16.0" font-weight="bold" text-anchor="middle" fill="#000" stroke="#000" stroke-width="0.35">65</text>
<text x="199.76" y="529.60" font-size="16.0" font-weight="bold" text-anchor="middle" fill="#000" stroke="#000" stroke-width="0.35">70</text>
<text x="249.95" y="529.60" font-size="16.0" font-weight="bold" text-anchor="middle" fill="#000" stroke="#000" stroke-width="0.35">75</text>
<text x="300.14" y="529.60" font-size="16.0" font-weight="bold" text-anchor="middle" fill="#000" stroke="#000" stroke-width="0.35">80</text>
<text x="350.32" y="529.60" font-size="16.0" font-weight="bold" text-anchor="middle" fill="#000" stroke="#000" stroke-width="0.35">85</text>
<text x="400.51" y="529.60" font-size="16.0" font-weight="bold" text-anchor="middle" fill="#000" stroke="#000" stroke-width="0.35">90</text>
<text x="450.70" y="529.60" font-size="16.0" font-weight="bold" text-anchor="middle" fill="#000" stroke="#000" stroke-width="0.35">95</text>
<text x="44.80" y="515.80" font-size="16.0" font-weight="bold" text-anchor="end" fill="#000" stroke="#000" stroke-width="0.35">0.4</text>
<text x="44.80" y="442.73" font-size="16.0" font-weight="bold" text-anchor="end" fill="#000" stroke="#000" stroke-width="0.35">0.6</text>
<text x="44.80" y="369.67" font-size="16.0" font-weight="bold" text-anchor="end" fill="#000" stroke="#000" stroke-width="0.35">0.8</text>
<text x="43.20" y="295.80" font-size="16.0" font-weight="bold" text-anchor="end" fill="#000" stroke="#000" stroke-width="0.35">1</text>
<text x="251.3" y="550.4" font-size="17.2" font-weight="bold" stroke="#000" stroke-width="0.35" text-anchor="middle" textLength="227">Diffraction Angle (degrees)</text>
<text transform="translate(16.8,398.6) rotate(-90)" font-size="17.2" font-weight="bold" stroke="#000" stroke-width="0.35" text-anchor="middle" textLength="120.5">Intensity (a.u.)</text>
<text x="78.60" y="322.20" font-size="23.5" font-weight="bold" text-anchor="middle" fill="#000" stroke="#000" stroke-width="0.35">(b)</text>
<line x1="108.50" y1="399.60" x2="108.50" y2="509.20" stroke="#e84fe0" stroke-width="1.5"/>
<line x1="180.80" y1="454.60" x2="180.80" y2="509.20" stroke="#e84fe0" stroke-width="1.5"/>
<line x1="207.30" y1="290.00" x2="207.30" y2="509.20" stroke="#e84fe0" stroke-width="1.5"/>
<text x="106.00" y="381.40" font-size="16.2" font-weight="normal" text-anchor="middle" fill="#ee3fe6">(100)</text>
<text x="176.80" y="426.10" font-size="16.2" font-weight="normal" text-anchor="middle" fill="#ee3fe6">(002)</text>
<text x="236.70" y="313.20" font-size="16.2" font-weight="normal" text-anchor="middle" fill="#ee3fe6">(101)</text>
<polyline fill="none" stroke="#3b7fb3" stroke-width="1.35" stroke-linejoin="round" points="100.4,415.3 101.6,414.8 103.1,412.9 104.9,406.6 106.7,396.7 107.6,393.8 108.6,392.6 109.5,393.0 110.3,394.4 111.6,399.4 113.0,412.0 114.8,428.2 116.6,440.9 119.3,453.5 122.0,460.7 125.0,466.2 127.3,470.3 130.4,473.6 133.5,474.6 135.8,474.2 138.1,476.2 140.4,475.4 143.5,476.6 146.5,477.4 148.8,477.4 151.9,480.0 155.0,482.3 157.3,483.8 159.2,483.4 161.2,485.1 163.5,484.2 165.3,485.1 167.3,487.2 169.6,485.1 171.9,480.8 174.2,473.1 176.5,460.8 178.8,446.9 179.9,442.6 180.8,441.1 181.7,442.4 182.7,445.4 185.0,459.2 187.3,471.5 189.6,480.8 191.9,485.7 193.8,487.2 195.0,486.2 195.8,483.8 197.3,468.0 199.0,444.5 200.6,420.0 202.1,398.0 203.4,370.0 204.7,340.0 205.8,314.0 206.7,297.0 207.3,291.6 207.7,290.4 208.2,291.6 208.9,297.0 210.0,314.0 211.6,340.0 213.0,370.0 214.1,395.0 215.0,415.0 216.1,435.0 217.5,455.4 219.8,468.9 222.5,479.0 225.4,480.8 228.8,482.4 232.2,483.5 235.6,484.2 238.9,483.1 242.3,482.8 244.6,481.7 248.6,482.4 251.3,486.2 254.7,486.2 259.2,484.6 262.6,485.3 266.0,486.2 269.2,484.2 272.0,484.2 275.4,481.5 279.2,478.5 282.3,479.6 285.4,478.8 290.0,479.6 293.8,479.2 296.6,478.4 298.5,478.8 300.8,477.3 303.5,475.8 306.2,476.5 309.2,475.8 311.2,475.8 313.8,475.0 316.6,476.2 320.0,476.5 322.8,478.1 325.4,477.3 328.5,476.8 330.6,475.8"/>
</svg>
</body></html>
